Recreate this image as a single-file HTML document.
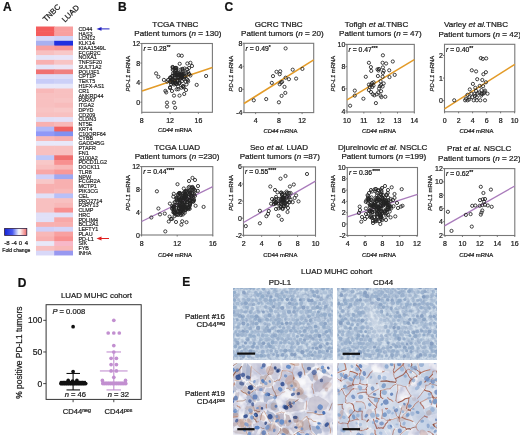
<!DOCTYPE html>
<html><head><meta charset="utf-8"><style>
html,body{margin:0;padding:0;background:#fff;}
svg.main{display:block;font-family:"Liberation Sans", Arial, sans-serif;}
svg.main text{stroke:#1a1a1a;stroke-width:0.22px;}
svg.main text.gl{stroke-width:0.16px;}
</style></head><body>
<svg class="main" width="520" height="435" viewBox="0 0 520 435">
<rect width="520" height="435" fill="#fff"/>
<rect x="36.0" y="26.50" width="18.80" height="5.37" fill="#f45c5c"/>
<rect x="54.2" y="26.50" width="18.80" height="5.37" fill="#f8a0a0"/>
<rect x="36.0" y="31.27" width="18.80" height="5.37" fill="#f45c5c"/>
<rect x="54.2" y="31.27" width="18.80" height="5.37" fill="#f8a0a0"/>
<rect x="36.0" y="36.04" width="18.80" height="5.37" fill="#d8d8f8"/>
<rect x="54.2" y="36.04" width="18.80" height="5.37" fill="#d0d4f8"/>
<rect x="36.0" y="40.81" width="18.80" height="5.37" fill="#a8b0f0"/>
<rect x="54.2" y="40.81" width="18.80" height="5.37" fill="#2030e0"/>
<rect x="36.0" y="45.58" width="18.80" height="5.37" fill="#f8a0a0"/>
<rect x="54.2" y="45.58" width="18.80" height="5.37" fill="#f89898"/>
<rect x="36.0" y="50.35" width="18.80" height="5.37" fill="#f8c0c0"/>
<rect x="54.2" y="50.35" width="18.80" height="5.37" fill="#f8c8c8"/>
<rect x="36.0" y="55.12" width="18.80" height="5.37" fill="#e4e4f8"/>
<rect x="54.2" y="55.12" width="18.80" height="5.37" fill="#e8e4f8"/>
<rect x="36.0" y="59.89" width="18.80" height="5.37" fill="#f8b0b0"/>
<rect x="54.2" y="59.89" width="18.80" height="5.37" fill="#f8c4c4"/>
<rect x="36.0" y="64.66" width="18.80" height="5.37" fill="#e4e4f8"/>
<rect x="54.2" y="64.66" width="18.80" height="5.37" fill="#ece4f4"/>
<rect x="36.0" y="69.43" width="18.80" height="5.37" fill="#f07070"/>
<rect x="54.2" y="69.43" width="18.80" height="5.37" fill="#f08080"/>
<rect x="36.0" y="74.20" width="18.80" height="5.37" fill="#dcdcf8"/>
<rect x="54.2" y="74.20" width="18.80" height="5.37" fill="#dcdcf8"/>
<rect x="36.0" y="78.97" width="18.80" height="5.37" fill="#c8ccf8"/>
<rect x="54.2" y="78.97" width="18.80" height="5.37" fill="#ccd0f8"/>
<rect x="36.0" y="83.74" width="18.80" height="5.37" fill="#e8e8fa"/>
<rect x="54.2" y="83.74" width="18.80" height="5.37" fill="#e8e8fa"/>
<rect x="36.0" y="88.51" width="18.80" height="5.37" fill="#f8b8b8"/>
<rect x="54.2" y="88.51" width="18.80" height="5.37" fill="#f8c0c0"/>
<rect x="36.0" y="93.28" width="18.80" height="5.37" fill="#f8c0c0"/>
<rect x="54.2" y="93.28" width="18.80" height="5.37" fill="#f8c0c0"/>
<rect x="36.0" y="98.05" width="18.80" height="5.37" fill="#f8c0c0"/>
<rect x="54.2" y="98.05" width="18.80" height="5.37" fill="#f8c4c4"/>
<rect x="36.0" y="102.82" width="18.80" height="5.37" fill="#f8c0c0"/>
<rect x="54.2" y="102.82" width="18.80" height="5.37" fill="#f8bcbc"/>
<rect x="36.0" y="107.59" width="18.80" height="5.37" fill="#f8c4c4"/>
<rect x="54.2" y="107.59" width="18.80" height="5.37" fill="#f8c8c8"/>
<rect x="36.0" y="112.36" width="18.80" height="5.37" fill="#f8c0c0"/>
<rect x="54.2" y="112.36" width="18.80" height="5.37" fill="#f8c0c0"/>
<rect x="36.0" y="117.13" width="18.80" height="5.37" fill="#e0e0f8"/>
<rect x="54.2" y="117.13" width="18.80" height="5.37" fill="#e4e0f8"/>
<rect x="36.0" y="121.90" width="18.80" height="5.37" fill="#f8b0b0"/>
<rect x="54.2" y="121.90" width="18.80" height="5.37" fill="#f8b8b8"/>
<rect x="36.0" y="126.67" width="18.80" height="5.37" fill="#b0b8f8"/>
<rect x="54.2" y="126.67" width="18.80" height="5.37" fill="#f06060"/>
<rect x="36.0" y="131.44" width="18.80" height="5.37" fill="#9098f8"/>
<rect x="54.2" y="131.44" width="18.80" height="5.37" fill="#8090f0"/>
<rect x="36.0" y="136.21" width="18.80" height="5.37" fill="#f8b8b8"/>
<rect x="54.2" y="136.21" width="18.80" height="5.37" fill="#f8b0b0"/>
<rect x="36.0" y="140.98" width="18.80" height="5.37" fill="#e8e8fa"/>
<rect x="54.2" y="140.98" width="18.80" height="5.37" fill="#e8e8fa"/>
<rect x="36.0" y="145.75" width="18.80" height="5.37" fill="#f8c0c0"/>
<rect x="54.2" y="145.75" width="18.80" height="5.37" fill="#f8c0c0"/>
<rect x="36.0" y="150.52" width="18.80" height="5.37" fill="#f8c0c0"/>
<rect x="54.2" y="150.52" width="18.80" height="5.37" fill="#f8c0c0"/>
<rect x="36.0" y="155.29" width="18.80" height="5.37" fill="#c0c8f8"/>
<rect x="54.2" y="155.29" width="18.80" height="5.37" fill="#f07070"/>
<rect x="36.0" y="160.06" width="18.80" height="5.37" fill="#f8c8c8"/>
<rect x="54.2" y="160.06" width="18.80" height="5.37" fill="#f89090"/>
<rect x="36.0" y="164.83" width="18.80" height="5.37" fill="#f8c0c0"/>
<rect x="54.2" y="164.83" width="18.80" height="5.37" fill="#f8b8b8"/>
<rect x="36.0" y="169.60" width="18.80" height="5.37" fill="#f8a8a8"/>
<rect x="54.2" y="169.60" width="18.80" height="5.37" fill="#f89898"/>
<rect x="36.0" y="174.37" width="18.80" height="5.37" fill="#d0d0f8"/>
<rect x="54.2" y="174.37" width="18.80" height="5.37" fill="#a0a8f0"/>
<rect x="36.0" y="179.14" width="18.80" height="5.37" fill="#f8c8c8"/>
<rect x="54.2" y="179.14" width="18.80" height="5.37" fill="#f8b0b0"/>
<rect x="36.0" y="183.91" width="18.80" height="5.37" fill="#f8b0b0"/>
<rect x="54.2" y="183.91" width="18.80" height="5.37" fill="#f8b0b0"/>
<rect x="36.0" y="188.68" width="18.80" height="5.37" fill="#f8b0b0"/>
<rect x="54.2" y="188.68" width="18.80" height="5.37" fill="#f8b8b8"/>
<rect x="36.0" y="193.45" width="18.80" height="5.37" fill="#e0e0f8"/>
<rect x="54.2" y="193.45" width="18.80" height="5.37" fill="#b8c0f8"/>
<rect x="36.0" y="198.22" width="18.80" height="5.37" fill="#f8c0c0"/>
<rect x="54.2" y="198.22" width="18.80" height="5.37" fill="#f8c0c0"/>
<rect x="36.0" y="202.99" width="18.80" height="5.37" fill="#f8c0c0"/>
<rect x="54.2" y="202.99" width="18.80" height="5.37" fill="#f8b8b8"/>
<rect x="36.0" y="207.76" width="18.80" height="5.37" fill="#f8c0c0"/>
<rect x="54.2" y="207.76" width="18.80" height="5.37" fill="#f89090"/>
<rect x="36.0" y="212.53" width="18.80" height="5.37" fill="#e0e0f8"/>
<rect x="54.2" y="212.53" width="18.80" height="5.37" fill="#e0e0f8"/>
<rect x="36.0" y="217.30" width="18.80" height="5.37" fill="#e0e0f8"/>
<rect x="54.2" y="217.30" width="18.80" height="5.37" fill="#f8a8a8"/>
<rect x="36.0" y="222.07" width="18.80" height="5.37" fill="#f8b0b0"/>
<rect x="54.2" y="222.07" width="18.80" height="5.37" fill="#f8b0b0"/>
<rect x="36.0" y="226.84" width="18.80" height="5.37" fill="#d0d0f8"/>
<rect x="54.2" y="226.84" width="18.80" height="5.37" fill="#d4d4f8"/>
<rect x="36.0" y="231.61" width="18.80" height="5.37" fill="#f8b8b8"/>
<rect x="54.2" y="231.61" width="18.80" height="5.37" fill="#f8a0a0"/>
<rect x="36.0" y="236.38" width="18.80" height="5.37" fill="#f8b0b0"/>
<rect x="54.2" y="236.38" width="18.80" height="5.37" fill="#f89090"/>
<rect x="36.0" y="241.15" width="18.80" height="5.37" fill="#e8e8f8"/>
<rect x="54.2" y="241.15" width="18.80" height="5.37" fill="#f8b8c8"/>
<rect x="36.0" y="245.92" width="18.80" height="5.37" fill="#f8c0c0"/>
<rect x="54.2" y="245.92" width="18.80" height="5.37" fill="#f8b8b8"/>
<rect x="36.0" y="250.69" width="18.80" height="4.77" fill="#d8d8f8"/>
<rect x="54.2" y="250.69" width="18.80" height="4.77" fill="#9898f0"/>
<text x="78.40" y="30.78" font-size="5.45" text-anchor="start" fill="#1a1a1a" class="gl">CD44</text>
<text x="78.40" y="35.55" font-size="5.45" text-anchor="start" fill="#1a1a1a" class="gl">HAS3</text>
<text x="78.40" y="40.32" font-size="5.45" text-anchor="start" fill="#1a1a1a" class="gl">LCN12</text>
<text x="78.40" y="45.09" font-size="5.45" text-anchor="start" fill="#1a1a1a" class="gl">KLK14</text>
<text x="78.40" y="49.86" font-size="5.45" text-anchor="start" fill="#1a1a1a" class="gl">KIAA1549L</text>
<text x="78.40" y="54.63" font-size="5.45" text-anchor="start" fill="#1a1a1a" class="gl">FCGR2C</text>
<text x="78.40" y="59.40" font-size="5.45" text-anchor="start" fill="#1a1a1a" class="gl">NOXA1</text>
<text x="78.40" y="64.17" font-size="5.45" text-anchor="start" fill="#1a1a1a" class="gl">TNFSF20</text>
<text x="78.40" y="68.94" font-size="5.45" text-anchor="start" fill="#1a1a1a" class="gl">SULT1A2</text>
<text x="78.40" y="73.72" font-size="5.45" text-anchor="start" fill="#1a1a1a" class="gl">POU3F1</text>
<text x="78.40" y="78.48" font-size="5.45" text-anchor="start" fill="#1a1a1a" class="gl">CPT1P</text>
<text x="78.40" y="83.25" font-size="5.45" text-anchor="start" fill="#1a1a1a" class="gl">TEKT5</text>
<text x="78.40" y="88.03" font-size="5.45" text-anchor="start" fill="#1a1a1a" class="gl">H1FX-AS1</text>
<text x="78.40" y="92.80" font-size="5.45" text-anchor="start" fill="#1a1a1a" class="gl">CR1</text>
<text x="78.40" y="97.56" font-size="5.45" text-anchor="start" fill="#1a1a1a" class="gl">ANKRD44</text>
<text x="78.40" y="102.33" font-size="5.45" text-anchor="start" fill="#1a1a1a" class="gl">P2RX7</text>
<text x="78.40" y="107.11" font-size="5.45" text-anchor="start" fill="#1a1a1a" class="gl">ITGA2</text>
<text x="78.40" y="111.88" font-size="5.45" text-anchor="start" fill="#1a1a1a" class="gl">DPYD</text>
<text x="78.40" y="116.64" font-size="5.45" text-anchor="start" fill="#1a1a1a" class="gl">CD209</text>
<text x="78.40" y="121.41" font-size="5.45" text-anchor="start" fill="#1a1a1a" class="gl">CLDN3</text>
<text x="78.40" y="126.19" font-size="5.45" text-anchor="start" fill="#1a1a1a" class="gl">NT5E</text>
<text x="78.40" y="130.96" font-size="5.45" text-anchor="start" fill="#1a1a1a" class="gl">KRT4</text>
<text x="78.40" y="135.72" font-size="5.45" text-anchor="start" fill="#1a1a1a" class="gl">C10ORF64</text>
<text x="78.40" y="140.49" font-size="5.45" text-anchor="start" fill="#1a1a1a" class="gl">CYBB</text>
<text x="78.40" y="145.27" font-size="5.45" text-anchor="start" fill="#1a1a1a" class="gl">GADD45G</text>
<text x="78.40" y="150.03" font-size="5.45" text-anchor="start" fill="#1a1a1a" class="gl">PTAFR</text>
<text x="78.40" y="154.80" font-size="5.45" text-anchor="start" fill="#1a1a1a" class="gl">FN1</text>
<text x="78.40" y="159.57" font-size="5.45" text-anchor="start" fill="#1a1a1a" class="gl">S100A2</text>
<text x="78.40" y="164.34" font-size="5.45" text-anchor="start" fill="#1a1a1a" class="gl">PDCD1LG2</text>
<text x="78.40" y="169.11" font-size="5.45" text-anchor="start" fill="#1a1a1a" class="gl">DOCK11</text>
<text x="78.40" y="173.88" font-size="5.45" text-anchor="start" fill="#1a1a1a" class="gl">TLR8</text>
<text x="78.40" y="178.66" font-size="5.45" text-anchor="start" fill="#1a1a1a" class="gl">NPW</text>
<text x="78.40" y="183.42" font-size="5.45" text-anchor="start" fill="#1a1a1a" class="gl">FCGR2A</text>
<text x="78.40" y="188.19" font-size="5.45" text-anchor="start" fill="#1a1a1a" class="gl">MCTP1</text>
<text x="78.40" y="192.97" font-size="5.45" text-anchor="start" fill="#1a1a1a" class="gl">PIK3CG</text>
<text x="78.40" y="197.73" font-size="5.45" text-anchor="start" fill="#1a1a1a" class="gl">CEL</text>
<text x="78.40" y="202.50" font-size="5.45" text-anchor="start" fill="#1a1a1a" class="gl">PRO2714</text>
<text x="78.40" y="207.27" font-size="5.45" text-anchor="start" fill="#1a1a1a" class="gl">P2RY13</text>
<text x="78.40" y="212.04" font-size="5.45" text-anchor="start" fill="#1a1a1a" class="gl">CLMP</text>
<text x="78.40" y="216.81" font-size="5.45" text-anchor="start" fill="#1a1a1a" class="gl">HRC</text>
<text x="78.40" y="221.58" font-size="5.45" text-anchor="start" fill="#1a1a1a" class="gl">PDLIM4</text>
<text x="78.40" y="226.35" font-size="5.45" text-anchor="start" fill="#1a1a1a" class="gl">BCL2A1</text>
<text x="78.40" y="231.12" font-size="5.45" text-anchor="start" fill="#1a1a1a" class="gl">LEFTY1</text>
<text x="78.40" y="235.89" font-size="5.45" text-anchor="start" fill="#1a1a1a" class="gl">PLAU</text>
<text x="78.40" y="240.66" font-size="5.45" text-anchor="start" fill="#1a1a1a" class="gl">PD-L1</text>
<text x="78.40" y="245.43" font-size="5.45" text-anchor="start" fill="#1a1a1a" class="gl">SIK</text>
<text x="78.40" y="250.20" font-size="5.45" text-anchor="start" fill="#1a1a1a" class="gl">FYB</text>
<text x="78.40" y="254.97" font-size="5.45" text-anchor="start" fill="#1a1a1a" class="gl">INHA</text>
<text transform="translate(46.0,22.3) rotate(-45)" font-size="7.8" fill="#1a1a1a">TNBC</text>
<text transform="translate(65.0,22.8) rotate(-45)" font-size="7.8" fill="#1a1a1a">LUAD</text>
<line x1="100" y1="28.9" x2="109.5" y2="28.9" stroke="#2020c0" stroke-width="1"/>
<path d="M96.5,28.9 L101.5,27.0 L101.5,30.8 Z" fill="#2020c0"/>
<line x1="100" y1="238.5" x2="109" y2="238.5" stroke="#e02020" stroke-width="1"/>
<path d="M96.5,238.5 L101.5,236.6 L101.5,240.4 Z" fill="#e02020"/>
<defs><linearGradient id="fc" x1="0" x2="1" y1="0" y2="0"><stop offset="0" stop-color="#1424d4"/><stop offset="0.35" stop-color="#4858f0"/><stop offset="0.62" stop-color="#e8ecf8"/><stop offset="0.7" stop-color="#f8f0f0"/><stop offset="0.85" stop-color="#f4a8a8"/><stop offset="1" stop-color="#ea6a6a"/></linearGradient></defs>
<rect x="4.6" y="228.4" width="22.2" height="7" fill="url(#fc)" stroke="#302040" stroke-width="0.8"/>
<text x="6.90" y="245.20" font-size="6.0" text-anchor="middle" fill="#1a1a1a">-8</text>
<text x="14.20" y="245.20" font-size="6.0" text-anchor="middle" fill="#1a1a1a">-4</text>
<text x="20.40" y="245.20" font-size="6.0" text-anchor="middle" fill="#1a1a1a">0</text>
<text x="26.30" y="245.20" font-size="6.0" text-anchor="middle" fill="#1a1a1a">4</text>
<text x="16.30" y="252.10" font-size="5.1" text-anchor="middle" fill="#1a1a1a">Fold change</text>
<text x="3.00" y="10.60" font-size="12.0" text-anchor="start" font-weight="bold" fill="#111">A</text>
<text x="118.00" y="11.10" font-size="12.0" text-anchor="start" font-weight="bold" fill="#111">B</text>
<text x="224.50" y="11.10" font-size="12.0" text-anchor="start" font-weight="bold" fill="#111">C</text>
<text x="17.80" y="286.80" font-size="12.0" text-anchor="start" font-weight="bold" fill="#111">D</text>
<text x="182.30" y="285.80" font-size="12.0" text-anchor="start" font-weight="bold" fill="#111">E</text>
<rect x="141.80" y="43.50" width="70.60" height="68.80" fill="none" stroke="#787878" stroke-width="1.1"/>
<line x1="141.80" y1="112.30" x2="141.80" y2="113.80" stroke="#6a6a6a" stroke-width="0.9"/>
<text x="141.80" y="122.80" font-size="7.0" text-anchor="middle" fill="#1a1a1a">8</text>
<line x1="170.10" y1="112.30" x2="170.10" y2="113.80" stroke="#6a6a6a" stroke-width="0.9"/>
<text x="170.10" y="122.80" font-size="7.0" text-anchor="middle" fill="#1a1a1a">12</text>
<line x1="198.40" y1="112.30" x2="198.40" y2="113.80" stroke="#6a6a6a" stroke-width="0.9"/>
<text x="198.40" y="122.80" font-size="7.0" text-anchor="middle" fill="#1a1a1a">16</text>
<line x1="140.30" y1="102.18" x2="141.80" y2="102.18" stroke="#6a6a6a" stroke-width="0.9"/>
<text x="140.20" y="104.68" font-size="7.0" text-anchor="end" fill="#1a1a1a">0</text>
<line x1="140.30" y1="82.62" x2="141.80" y2="82.62" stroke="#6a6a6a" stroke-width="0.9"/>
<text x="140.20" y="85.12" font-size="7.0" text-anchor="end" fill="#1a1a1a">4</text>
<line x1="140.30" y1="63.06" x2="141.80" y2="63.06" stroke="#6a6a6a" stroke-width="0.9"/>
<text x="140.20" y="65.56" font-size="7.0" text-anchor="end" fill="#1a1a1a">8</text>
<line x1="140.30" y1="43.50" x2="141.80" y2="43.50" stroke="#6a6a6a" stroke-width="0.9"/>
<text x="140.20" y="46.00" font-size="7.0" text-anchor="end" fill="#1a1a1a">12</text>
<line x1="142.0" y1="90.9" x2="212.4" y2="67.4" stroke="#e39b28" stroke-width="1.55"/>
<g fill="none" stroke="#222" stroke-width="0.85">
<circle cx="175.4" cy="78.0" r="1.6"/>
<circle cx="185.5" cy="76.2" r="1.6"/>
<circle cx="172.3" cy="76.0" r="1.6"/>
<circle cx="178.1" cy="72.7" r="1.6"/>
<circle cx="176.2" cy="69.6" r="1.6"/>
<circle cx="179.7" cy="63.8" r="1.6"/>
<circle cx="179.6" cy="74.2" r="1.6"/>
<circle cx="182.7" cy="70.6" r="1.6"/>
<circle cx="174.8" cy="72.9" r="1.6"/>
<circle cx="175.1" cy="70.9" r="1.6"/>
<circle cx="175.5" cy="74.8" r="1.6"/>
<circle cx="174.7" cy="75.1" r="1.6"/>
<circle cx="182.6" cy="69.3" r="1.6"/>
<circle cx="175.2" cy="82.6" r="1.6"/>
<circle cx="180.2" cy="78.4" r="1.6"/>
<circle cx="174.8" cy="73.4" r="1.6"/>
<circle cx="173.1" cy="73.3" r="1.6"/>
<circle cx="181.5" cy="74.8" r="1.6"/>
<circle cx="174.3" cy="77.7" r="1.6"/>
<circle cx="183.1" cy="73.6" r="1.6"/>
<circle cx="182.1" cy="74.5" r="1.6"/>
<circle cx="178.0" cy="74.9" r="1.6"/>
<circle cx="178.1" cy="74.3" r="1.6"/>
<circle cx="180.7" cy="69.6" r="1.6"/>
<circle cx="177.0" cy="80.4" r="1.6"/>
<circle cx="175.1" cy="80.8" r="1.6"/>
<circle cx="170.1" cy="77.8" r="1.6"/>
<circle cx="174.8" cy="68.3" r="1.6"/>
<circle cx="175.5" cy="82.9" r="1.6"/>
<circle cx="179.0" cy="75.5" r="1.6"/>
<circle cx="180.7" cy="74.3" r="1.6"/>
<circle cx="184.4" cy="77.3" r="1.6"/>
<circle cx="178.5" cy="77.7" r="1.6"/>
<circle cx="175.8" cy="83.9" r="1.6"/>
<circle cx="179.8" cy="82.8" r="1.6"/>
<circle cx="178.9" cy="73.4" r="1.6"/>
<circle cx="179.1" cy="82.7" r="1.6"/>
<circle cx="180.6" cy="78.3" r="1.6"/>
<circle cx="179.0" cy="77.2" r="1.6"/>
<circle cx="184.7" cy="76.6" r="1.6"/>
<circle cx="176.8" cy="74.7" r="1.6"/>
<circle cx="172.3" cy="79.4" r="1.6"/>
<circle cx="176.8" cy="74.9" r="1.6"/>
<circle cx="176.3" cy="68.0" r="1.6"/>
<circle cx="184.6" cy="68.5" r="1.6"/>
<circle cx="170.6" cy="81.8" r="1.6"/>
<circle cx="171.1" cy="84.3" r="1.6"/>
<circle cx="181.6" cy="73.4" r="1.6"/>
<circle cx="181.8" cy="78.2" r="1.6"/>
<circle cx="168.0" cy="80.0" r="1.6"/>
<circle cx="181.9" cy="77.0" r="1.6"/>
<circle cx="188.1" cy="81.5" r="1.6"/>
<circle cx="176.1" cy="70.2" r="1.6"/>
<circle cx="170.1" cy="87.2" r="1.6"/>
<circle cx="183.6" cy="79.0" r="1.6"/>
<circle cx="177.6" cy="77.3" r="1.6"/>
<circle cx="172.3" cy="79.2" r="1.6"/>
<circle cx="170.5" cy="82.0" r="1.6"/>
<circle cx="182.1" cy="81.0" r="1.6"/>
<circle cx="172.9" cy="67.2" r="1.6"/>
<circle cx="175.0" cy="82.9" r="1.6"/>
<circle cx="179.2" cy="83.6" r="1.6"/>
<circle cx="177.3" cy="74.6" r="1.6"/>
<circle cx="172.0" cy="80.8" r="1.6"/>
<circle cx="182.2" cy="74.6" r="1.6"/>
<circle cx="180.4" cy="75.1" r="1.6"/>
<circle cx="183.0" cy="86.7" r="1.6"/>
<circle cx="186.8" cy="79.2" r="1.6"/>
<circle cx="178.3" cy="89.2" r="1.6"/>
<circle cx="177.7" cy="80.6" r="1.6"/>
<circle cx="187.8" cy="80.2" r="1.6"/>
<circle cx="176.4" cy="84.1" r="1.6"/>
<circle cx="181.4" cy="87.7" r="1.6"/>
<circle cx="182.0" cy="77.3" r="1.6"/>
<circle cx="190.4" cy="75.5" r="1.6"/>
<circle cx="176.6" cy="89.3" r="1.6"/>
<circle cx="188.2" cy="72.0" r="1.6"/>
<circle cx="173.1" cy="83.2" r="1.6"/>
<circle cx="177.7" cy="81.6" r="1.6"/>
<circle cx="172.3" cy="76.0" r="1.6"/>
<circle cx="170.4" cy="78.2" r="1.6"/>
<circle cx="172.5" cy="67.0" r="1.6"/>
<circle cx="176.3" cy="68.1" r="1.6"/>
<circle cx="177.0" cy="72.5" r="1.6"/>
<circle cx="184.5" cy="73.6" r="1.6"/>
<circle cx="172.8" cy="69.8" r="1.6"/>
<circle cx="174.1" cy="84.5" r="1.6"/>
<circle cx="171.8" cy="77.5" r="1.6"/>
<circle cx="186.4" cy="84.4" r="1.6"/>
<circle cx="178.1" cy="86.4" r="1.6"/>
<circle cx="182.4" cy="68.9" r="1.6"/>
<circle cx="186.0" cy="72.6" r="1.6"/>
<circle cx="189.1" cy="74.2" r="1.6"/>
<circle cx="172.3" cy="82.4" r="1.6"/>
<circle cx="183.8" cy="87.4" r="1.6"/>
<circle cx="182.3" cy="75.7" r="1.6"/>
<circle cx="187.1" cy="69.3" r="1.6"/>
<circle cx="185.7" cy="81.8" r="1.6"/>
<circle cx="170.4" cy="77.4" r="1.6"/>
<circle cx="181.4" cy="76.0" r="1.6"/>
<circle cx="175.2" cy="67.9" r="1.6"/>
<circle cx="188.9" cy="73.8" r="1.6"/>
<circle cx="173.0" cy="68.4" r="1.6"/>
<circle cx="167.2" cy="81.6" r="1.6"/>
<circle cx="173.7" cy="79.6" r="1.6"/>
<circle cx="178.7" cy="55.3" r="1.6"/>
<circle cx="181.8" cy="55.7" r="1.6"/>
<circle cx="156.1" cy="73.4" r="1.6"/>
<circle cx="158.4" cy="76.8" r="1.6"/>
<circle cx="206.1" cy="76.0" r="1.6"/>
<circle cx="196.7" cy="84.9" r="1.6"/>
<circle cx="167.0" cy="102.6" r="1.6"/>
<circle cx="174.0" cy="102.6" r="1.6"/>
<circle cx="167.0" cy="106.5" r="1.6"/>
<circle cx="175.1" cy="107.8" r="1.6"/>
<circle cx="174.0" cy="95.6" r="1.6"/>
<circle cx="179.5" cy="95.6" r="1.6"/>
<circle cx="184.2" cy="94.0" r="1.6"/>
<circle cx="165.4" cy="90.9" r="1.6"/>
<circle cx="166.2" cy="92.4" r="1.6"/>
<circle cx="190.4" cy="62.8" r="1.6"/>
<circle cx="187.3" cy="63.5" r="1.6"/>
<circle cx="163.9" cy="79.9" r="1.6"/>
<circle cx="192.0" cy="66.0" r="1.6"/>
<circle cx="189.0" cy="68.0" r="1.6"/>
<circle cx="170.0" cy="88.0" r="1.6"/>
<circle cx="172.0" cy="91.0" r="1.6"/>
<circle cx="186.0" cy="90.0" r="1.6"/>
<circle cx="183.0" cy="86.0" r="1.6"/>
</g>
<text x="143.40" y="50.70" font-size="6.8" fill="#111"><tspan font-style="italic">r</tspan> = 0.28<tspan font-size="5.0" dy="-1.8">**</tspan></text>
<text x="175.30" y="27.10" font-size="8.1" text-anchor="middle" fill="#1a1a1a">TCGA TNBC</text>
<text x="177.90" y="36.00" font-size="8.1" text-anchor="middle" fill="#1a1a1a">Patient tumors (<tspan font-style="italic">n</tspan> = 130)</text>
<text transform="translate(130.30,73.70) rotate(-90)" font-size="5.9" text-anchor="middle" fill="#1a1a1a"><tspan font-style="italic">PD-L1</tspan> mRNA</text>
<text x="175.00" y="132.30" font-size="5.9" text-anchor="middle" fill="#1a1a1a"><tspan font-style="italic">CD44</tspan> mRNA</text>
<rect x="141.60" y="166.60" width="71.20" height="68.40" fill="none" stroke="#787878" stroke-width="1.1"/>
<line x1="141.60" y1="235.00" x2="141.60" y2="236.50" stroke="#6a6a6a" stroke-width="0.9"/>
<text x="141.60" y="246.30" font-size="7.0" text-anchor="middle" fill="#1a1a1a">8</text>
<line x1="177.20" y1="235.00" x2="177.20" y2="236.50" stroke="#6a6a6a" stroke-width="0.9"/>
<text x="177.20" y="246.30" font-size="7.0" text-anchor="middle" fill="#1a1a1a">12</text>
<line x1="212.80" y1="235.00" x2="212.80" y2="236.50" stroke="#6a6a6a" stroke-width="0.9"/>
<text x="212.80" y="246.30" font-size="7.0" text-anchor="middle" fill="#1a1a1a">16</text>
<line x1="140.10" y1="235.00" x2="141.60" y2="235.00" stroke="#6a6a6a" stroke-width="0.9"/>
<text x="140.00" y="237.50" font-size="7.0" text-anchor="end" fill="#1a1a1a">0</text>
<line x1="140.10" y1="212.20" x2="141.60" y2="212.20" stroke="#6a6a6a" stroke-width="0.9"/>
<text x="140.00" y="214.70" font-size="7.0" text-anchor="end" fill="#1a1a1a">4</text>
<line x1="140.10" y1="189.40" x2="141.60" y2="189.40" stroke="#6a6a6a" stroke-width="0.9"/>
<text x="140.00" y="191.90" font-size="7.0" text-anchor="end" fill="#1a1a1a">8</text>
<line x1="140.10" y1="166.60" x2="141.60" y2="166.60" stroke="#6a6a6a" stroke-width="0.9"/>
<text x="140.00" y="169.10" font-size="7.0" text-anchor="end" fill="#1a1a1a">12</text>
<line x1="141.6" y1="221.5" x2="212.8" y2="186.6" stroke="#a97bbb" stroke-width="1.3"/>
<g fill="none" stroke="#222" stroke-width="0.85">
<circle cx="194.2" cy="194.5" r="1.6"/>
<circle cx="190.2" cy="203.9" r="1.6"/>
<circle cx="184.2" cy="202.4" r="1.6"/>
<circle cx="186.4" cy="198.8" r="1.6"/>
<circle cx="178.5" cy="214.7" r="1.6"/>
<circle cx="193.1" cy="200.8" r="1.6"/>
<circle cx="195.0" cy="195.8" r="1.6"/>
<circle cx="173.9" cy="212.1" r="1.6"/>
<circle cx="174.5" cy="213.2" r="1.6"/>
<circle cx="187.6" cy="191.2" r="1.6"/>
<circle cx="177.5" cy="214.9" r="1.6"/>
<circle cx="175.2" cy="202.1" r="1.6"/>
<circle cx="183.3" cy="197.7" r="1.6"/>
<circle cx="183.6" cy="193.6" r="1.6"/>
<circle cx="174.6" cy="211.6" r="1.6"/>
<circle cx="180.1" cy="203.0" r="1.6"/>
<circle cx="188.6" cy="187.5" r="1.6"/>
<circle cx="173.3" cy="212.3" r="1.6"/>
<circle cx="182.9" cy="214.5" r="1.6"/>
<circle cx="184.7" cy="212.8" r="1.6"/>
<circle cx="173.3" cy="206.7" r="1.6"/>
<circle cx="192.3" cy="193.1" r="1.6"/>
<circle cx="182.6" cy="200.5" r="1.6"/>
<circle cx="181.1" cy="210.9" r="1.6"/>
<circle cx="179.7" cy="211.5" r="1.6"/>
<circle cx="189.9" cy="205.7" r="1.6"/>
<circle cx="188.4" cy="209.2" r="1.6"/>
<circle cx="192.3" cy="199.5" r="1.6"/>
<circle cx="178.8" cy="193.3" r="1.6"/>
<circle cx="193.4" cy="189.3" r="1.6"/>
<circle cx="189.7" cy="208.8" r="1.6"/>
<circle cx="176.2" cy="198.4" r="1.6"/>
<circle cx="188.3" cy="206.8" r="1.6"/>
<circle cx="191.7" cy="201.3" r="1.6"/>
<circle cx="182.5" cy="212.8" r="1.6"/>
<circle cx="189.3" cy="191.2" r="1.6"/>
<circle cx="186.0" cy="191.2" r="1.6"/>
<circle cx="181.6" cy="210.6" r="1.6"/>
<circle cx="172.2" cy="209.0" r="1.6"/>
<circle cx="182.5" cy="196.3" r="1.6"/>
<circle cx="173.6" cy="207.9" r="1.6"/>
<circle cx="180.0" cy="192.9" r="1.6"/>
<circle cx="181.6" cy="207.1" r="1.6"/>
<circle cx="174.0" cy="206.2" r="1.6"/>
<circle cx="180.8" cy="212.2" r="1.6"/>
<circle cx="193.4" cy="201.5" r="1.6"/>
<circle cx="179.1" cy="199.4" r="1.6"/>
<circle cx="191.8" cy="196.6" r="1.6"/>
<circle cx="187.2" cy="204.9" r="1.6"/>
<circle cx="176.6" cy="202.4" r="1.6"/>
<circle cx="194.9" cy="190.1" r="1.6"/>
<circle cx="192.4" cy="187.0" r="1.6"/>
<circle cx="172.3" cy="208.1" r="1.6"/>
<circle cx="178.8" cy="206.6" r="1.6"/>
<circle cx="184.0" cy="197.7" r="1.6"/>
<circle cx="193.2" cy="201.7" r="1.6"/>
<circle cx="180.3" cy="206.3" r="1.6"/>
<circle cx="185.1" cy="196.9" r="1.6"/>
<circle cx="179.0" cy="207.9" r="1.6"/>
<circle cx="193.5" cy="188.6" r="1.6"/>
<circle cx="180.5" cy="194.2" r="1.6"/>
<circle cx="180.8" cy="200.0" r="1.6"/>
<circle cx="174.2" cy="210.6" r="1.6"/>
<circle cx="180.3" cy="211.2" r="1.6"/>
<circle cx="177.8" cy="210.8" r="1.6"/>
<circle cx="180.9" cy="215.1" r="1.6"/>
<circle cx="181.7" cy="197.9" r="1.6"/>
<circle cx="175.7" cy="214.6" r="1.6"/>
<circle cx="179.8" cy="213.4" r="1.6"/>
<circle cx="185.4" cy="191.8" r="1.6"/>
<circle cx="190.0" cy="200.1" r="1.6"/>
<circle cx="176.7" cy="198.6" r="1.6"/>
<circle cx="190.3" cy="195.1" r="1.6"/>
<circle cx="184.5" cy="191.8" r="1.6"/>
<circle cx="186.7" cy="202.0" r="1.6"/>
<circle cx="185.9" cy="207.1" r="1.6"/>
<circle cx="183.5" cy="211.5" r="1.6"/>
<circle cx="186.3" cy="190.8" r="1.6"/>
<circle cx="191.7" cy="187.8" r="1.6"/>
<circle cx="176.7" cy="197.6" r="1.6"/>
<circle cx="188.9" cy="197.0" r="1.6"/>
<circle cx="181.0" cy="209.3" r="1.6"/>
<circle cx="180.1" cy="193.8" r="1.6"/>
<circle cx="185.2" cy="210.1" r="1.6"/>
<circle cx="189.9" cy="192.9" r="1.6"/>
<circle cx="195.3" cy="191.4" r="1.6"/>
<circle cx="174.5" cy="202.3" r="1.6"/>
<circle cx="184.4" cy="192.3" r="1.6"/>
<circle cx="190.5" cy="192.7" r="1.6"/>
<circle cx="189.8" cy="190.6" r="1.6"/>
<circle cx="183.8" cy="205.3" r="1.6"/>
<circle cx="177.0" cy="199.7" r="1.6"/>
<circle cx="192.2" cy="193.4" r="1.6"/>
<circle cx="180.4" cy="206.2" r="1.6"/>
<circle cx="188.6" cy="207.7" r="1.6"/>
<circle cx="185.6" cy="209.3" r="1.6"/>
<circle cx="194.1" cy="200.0" r="1.6"/>
<circle cx="188.7" cy="195.3" r="1.6"/>
<circle cx="181.9" cy="198.0" r="1.6"/>
<circle cx="185.2" cy="206.9" r="1.6"/>
<circle cx="185.7" cy="210.1" r="1.6"/>
<circle cx="186.2" cy="208.8" r="1.6"/>
<circle cx="175.0" cy="212.9" r="1.6"/>
<circle cx="183.1" cy="200.2" r="1.6"/>
<circle cx="178.5" cy="194.5" r="1.6"/>
<circle cx="182.0" cy="209.8" r="1.6"/>
<circle cx="173.7" cy="206.7" r="1.6"/>
<circle cx="189.9" cy="204.5" r="1.6"/>
<circle cx="176.6" cy="205.0" r="1.6"/>
<circle cx="174.3" cy="209.1" r="1.6"/>
<circle cx="193.4" cy="198.5" r="1.6"/>
<circle cx="190.8" cy="191.6" r="1.6"/>
<circle cx="183.8" cy="188.5" r="1.6"/>
<circle cx="191.2" cy="198.3" r="1.6"/>
<circle cx="189.4" cy="186.8" r="1.6"/>
<circle cx="182.7" cy="204.0" r="1.6"/>
<circle cx="191.3" cy="195.9" r="1.6"/>
<circle cx="179.0" cy="208.5" r="1.6"/>
<circle cx="182.2" cy="209.6" r="1.6"/>
<circle cx="186.1" cy="195.2" r="1.6"/>
<circle cx="176.4" cy="210.5" r="1.6"/>
<circle cx="180.8" cy="207.2" r="1.6"/>
<circle cx="187.7" cy="207.6" r="1.6"/>
<circle cx="184.0" cy="197.9" r="1.6"/>
<circle cx="193.1" cy="195.6" r="1.6"/>
<circle cx="185.4" cy="194.0" r="1.6"/>
<circle cx="177.5" cy="205.7" r="1.6"/>
<circle cx="190.1" cy="200.4" r="1.6"/>
<circle cx="186.2" cy="195.2" r="1.6"/>
<circle cx="185.7" cy="195.6" r="1.6"/>
<circle cx="183.6" cy="208.3" r="1.6"/>
<circle cx="177.8" cy="211.5" r="1.6"/>
<circle cx="187.4" cy="199.2" r="1.6"/>
<circle cx="182.1" cy="208.8" r="1.6"/>
<circle cx="197.8" cy="190.9" r="1.6"/>
<circle cx="178.6" cy="199.6" r="1.6"/>
<circle cx="184.6" cy="195.6" r="1.6"/>
<circle cx="192.7" cy="187.5" r="1.6"/>
<circle cx="185.7" cy="199.6" r="1.6"/>
<circle cx="183.1" cy="207.8" r="1.6"/>
<circle cx="179.3" cy="193.1" r="1.6"/>
<circle cx="182.4" cy="206.9" r="1.6"/>
<circle cx="181.5" cy="213.6" r="1.6"/>
<circle cx="187.0" cy="202.7" r="1.6"/>
<circle cx="184.5" cy="204.2" r="1.6"/>
<circle cx="173.3" cy="196.7" r="1.6"/>
<circle cx="183.6" cy="206.2" r="1.6"/>
<circle cx="179.4" cy="205.0" r="1.6"/>
<circle cx="182.5" cy="207.6" r="1.6"/>
<circle cx="179.5" cy="202.0" r="1.6"/>
<circle cx="190.0" cy="203.9" r="1.6"/>
<circle cx="184.2" cy="195.9" r="1.6"/>
<circle cx="189.9" cy="202.4" r="1.6"/>
<circle cx="178.9" cy="207.9" r="1.6"/>
<circle cx="185.7" cy="194.0" r="1.6"/>
<circle cx="183.9" cy="206.4" r="1.6"/>
<circle cx="180.0" cy="200.4" r="1.6"/>
<circle cx="181.4" cy="204.4" r="1.6"/>
<circle cx="184.7" cy="202.2" r="1.6"/>
<circle cx="184.8" cy="206.5" r="1.6"/>
<circle cx="184.0" cy="197.3" r="1.6"/>
<circle cx="183.7" cy="198.3" r="1.6"/>
<circle cx="187.6" cy="199.2" r="1.6"/>
<circle cx="189.7" cy="194.2" r="1.6"/>
<circle cx="187.7" cy="199.6" r="1.6"/>
<circle cx="184.7" cy="194.1" r="1.6"/>
<circle cx="181.7" cy="197.4" r="1.6"/>
<circle cx="169.6" cy="216.6" r="1.6"/>
<circle cx="180.9" cy="199.4" r="1.6"/>
<circle cx="182.5" cy="208.0" r="1.6"/>
<circle cx="189.1" cy="207.3" r="1.6"/>
<circle cx="176.7" cy="214.2" r="1.6"/>
<circle cx="175.6" cy="212.8" r="1.6"/>
<circle cx="185.2" cy="198.0" r="1.6"/>
<circle cx="156.9" cy="191.3" r="1.6"/>
<circle cx="173.6" cy="207.8" r="1.6"/>
<circle cx="169.9" cy="203.6" r="1.6"/>
<circle cx="178.2" cy="197.7" r="1.6"/>
<circle cx="177.7" cy="194.9" r="1.6"/>
<circle cx="172.2" cy="206.1" r="1.6"/>
<circle cx="189.7" cy="203.4" r="1.6"/>
<circle cx="165.3" cy="231.4" r="1.6"/>
<circle cx="182.2" cy="221.3" r="1.6"/>
<circle cx="185.0" cy="207.8" r="1.6"/>
<circle cx="178.1" cy="211.6" r="1.6"/>
<circle cx="180.4" cy="200.3" r="1.6"/>
<circle cx="186.5" cy="222.2" r="1.6"/>
<circle cx="188.5" cy="208.2" r="1.6"/>
<circle cx="195.6" cy="205.8" r="1.6"/>
<circle cx="172.2" cy="218.9" r="1.6"/>
<circle cx="183.2" cy="204.3" r="1.6"/>
<circle cx="174.6" cy="216.0" r="1.6"/>
<circle cx="173.8" cy="193.8" r="1.6"/>
<circle cx="182.7" cy="207.2" r="1.6"/>
<circle cx="182.2" cy="202.5" r="1.6"/>
<circle cx="180.3" cy="201.0" r="1.6"/>
<circle cx="189.7" cy="200.0" r="1.6"/>
<circle cx="182.0" cy="209.1" r="1.6"/>
<circle cx="188.0" cy="201.9" r="1.6"/>
<circle cx="186.0" cy="208.2" r="1.6"/>
<circle cx="151.3" cy="217.5" r="1.6"/>
<circle cx="158.4" cy="208.5" r="1.6"/>
<circle cx="160.0" cy="214.4" r="1.6"/>
<circle cx="164.8" cy="213.6" r="1.6"/>
<circle cx="203.6" cy="206.9" r="1.6"/>
<circle cx="192.5" cy="177.9" r="1.6"/>
<circle cx="177.5" cy="184.2" r="1.6"/>
<circle cx="181.4" cy="224.7" r="1.6"/>
<circle cx="168.8" cy="221.5" r="1.6"/>
<circle cx="195.0" cy="180.0" r="1.6"/>
<circle cx="189.0" cy="181.0" r="1.6"/>
<circle cx="198.0" cy="186.0" r="1.6"/>
<circle cx="171.0" cy="219.0" r="1.6"/>
<circle cx="176.0" cy="222.0" r="1.6"/>
</g>
<text x="143.20" y="173.80" font-size="6.8" fill="#111"><tspan font-style="italic">r</tspan> = 0.44<tspan font-size="5.0" dy="-1.8">****</tspan></text>
<text x="177.10" y="150.10" font-size="8.1" text-anchor="middle" fill="#1a1a1a">TCGA LUAD</text>
<text x="177.10" y="159.40" font-size="8.1" text-anchor="middle" fill="#1a1a1a">Patient tumors (<tspan font-style="italic">n</tspan> =230)</text>
<text transform="translate(130.40,193.00) rotate(-90)" font-size="5.9" text-anchor="middle" fill="#1a1a1a"><tspan font-style="italic">PD-L1</tspan> mRNA</text>
<text x="175.00" y="256.90" font-size="5.9" text-anchor="middle" fill="#1a1a1a"><tspan font-style="italic">CD44</tspan> mRNA</text>
<rect x="244.00" y="43.30" width="69.70" height="69.30" fill="none" stroke="#787878" stroke-width="1.1"/>
<line x1="255.62" y1="112.60" x2="255.62" y2="114.10" stroke="#6a6a6a" stroke-width="0.9"/>
<text x="255.62" y="122.80" font-size="7.0" text-anchor="middle" fill="#1a1a1a">4</text>
<line x1="278.86" y1="112.60" x2="278.86" y2="114.10" stroke="#6a6a6a" stroke-width="0.9"/>
<text x="278.86" y="122.80" font-size="7.0" text-anchor="middle" fill="#1a1a1a">8</text>
<line x1="302.10" y1="112.60" x2="302.10" y2="114.10" stroke="#6a6a6a" stroke-width="0.9"/>
<text x="302.10" y="122.80" font-size="7.0" text-anchor="middle" fill="#1a1a1a">12</text>
<line x1="242.50" y1="112.30" x2="244.00" y2="112.30" stroke="#6a6a6a" stroke-width="0.9"/>
<text x="242.40" y="114.80" font-size="7.0" text-anchor="end" fill="#1a1a1a">-4</text>
<line x1="242.50" y1="89.30" x2="244.00" y2="89.30" stroke="#6a6a6a" stroke-width="0.9"/>
<text x="242.40" y="91.80" font-size="7.0" text-anchor="end" fill="#1a1a1a">0</text>
<line x1="242.50" y1="66.30" x2="244.00" y2="66.30" stroke="#6a6a6a" stroke-width="0.9"/>
<text x="242.40" y="68.80" font-size="7.0" text-anchor="end" fill="#1a1a1a">4</text>
<line x1="242.50" y1="43.30" x2="244.00" y2="43.30" stroke="#6a6a6a" stroke-width="0.9"/>
<text x="242.40" y="45.80" font-size="7.0" text-anchor="end" fill="#1a1a1a">8</text>
<line x1="244.0" y1="103.5" x2="313.7" y2="59.9" stroke="#e39b28" stroke-width="1.55"/>
<g fill="none" stroke="#222" stroke-width="0.85">
<circle cx="285.6" cy="48.4" r="1.6"/>
<circle cx="292.7" cy="69.7" r="1.6"/>
<circle cx="302.4" cy="68.9" r="1.6"/>
<circle cx="276.5" cy="71.8" r="1.6"/>
<circle cx="280.2" cy="71.3" r="1.6"/>
<circle cx="279.7" cy="74.2" r="1.6"/>
<circle cx="273.0" cy="76.1" r="1.6"/>
<circle cx="285.6" cy="77.7" r="1.6"/>
<circle cx="288.9" cy="79.2" r="1.6"/>
<circle cx="296.1" cy="78.6" r="1.6"/>
<circle cx="282.1" cy="81.8" r="1.6"/>
<circle cx="281.0" cy="82.6" r="1.6"/>
<circle cx="271.8" cy="82.9" r="1.6"/>
<circle cx="279.7" cy="84.2" r="1.6"/>
<circle cx="284.5" cy="86.9" r="1.6"/>
<circle cx="285.3" cy="92.9" r="1.6"/>
<circle cx="281.6" cy="95.9" r="1.6"/>
<circle cx="266.2" cy="99.1" r="1.6"/>
<circle cx="253.8" cy="100.3" r="1.6"/>
<circle cx="278.9" cy="102.3" r="1.6"/>
</g>
<text x="245.60" y="50.50" font-size="6.8" fill="#111"><tspan font-style="italic">r</tspan> = 0.49<tspan font-size="5.0" dy="-1.8">*</tspan></text>
<text x="278.70" y="27.10" font-size="8.1" text-anchor="middle" fill="#1a1a1a">GCRC TNBC</text>
<text x="282.40" y="36.00" font-size="8.1" text-anchor="middle" fill="#1a1a1a">Patient tumors (<tspan font-style="italic">n</tspan> = 20)</text>
<text transform="translate(233.40,73.70) rotate(-90)" font-size="5.9" text-anchor="middle" fill="#1a1a1a"><tspan font-style="italic">PD-L1</tspan> mRNA</text>
<text x="280.40" y="132.50" font-size="5.9" text-anchor="middle" fill="#1a1a1a"><tspan font-style="italic">CD44</tspan> mRNA</text>
<rect x="347.00" y="44.40" width="67.30" height="67.60" fill="none" stroke="#787878" stroke-width="1.1"/>
<line x1="347.00" y1="112.00" x2="347.00" y2="113.50" stroke="#6a6a6a" stroke-width="0.9"/>
<text x="347.00" y="122.80" font-size="7.0" text-anchor="middle" fill="#1a1a1a">10</text>
<line x1="363.83" y1="112.00" x2="363.83" y2="113.50" stroke="#6a6a6a" stroke-width="0.9"/>
<text x="363.83" y="122.80" font-size="7.0" text-anchor="middle" fill="#1a1a1a">11</text>
<line x1="380.66" y1="112.00" x2="380.66" y2="113.50" stroke="#6a6a6a" stroke-width="0.9"/>
<text x="380.66" y="122.80" font-size="7.0" text-anchor="middle" fill="#1a1a1a">12</text>
<line x1="397.49" y1="112.00" x2="397.49" y2="113.50" stroke="#6a6a6a" stroke-width="0.9"/>
<text x="397.49" y="122.80" font-size="7.0" text-anchor="middle" fill="#1a1a1a">13</text>
<line x1="414.32" y1="112.00" x2="414.32" y2="113.50" stroke="#6a6a6a" stroke-width="0.9"/>
<text x="414.32" y="122.80" font-size="7.0" text-anchor="middle" fill="#1a1a1a">14</text>
<line x1="345.50" y1="111.00" x2="347.00" y2="111.00" stroke="#6a6a6a" stroke-width="0.9"/>
<text x="345.40" y="113.50" font-size="7.0" text-anchor="end" fill="#1a1a1a">4</text>
<line x1="345.50" y1="88.80" x2="347.00" y2="88.80" stroke="#6a6a6a" stroke-width="0.9"/>
<text x="345.40" y="91.30" font-size="7.0" text-anchor="end" fill="#1a1a1a">6</text>
<line x1="345.50" y1="66.60" x2="347.00" y2="66.60" stroke="#6a6a6a" stroke-width="0.9"/>
<text x="345.40" y="69.10" font-size="7.0" text-anchor="end" fill="#1a1a1a">8</text>
<line x1="345.50" y1="44.40" x2="347.00" y2="44.40" stroke="#6a6a6a" stroke-width="0.9"/>
<text x="345.40" y="46.90" font-size="7.0" text-anchor="end" fill="#1a1a1a">10</text>
<line x1="347.0" y1="99.9" x2="414.3" y2="59.6" stroke="#e39b28" stroke-width="1.55"/>
<g fill="none" stroke="#222" stroke-width="0.85">
<circle cx="382.9" cy="55.3" r="1.6"/>
<circle cx="368.9" cy="62.8" r="1.6"/>
<circle cx="382.6" cy="62.8" r="1.6"/>
<circle cx="386.1" cy="63.5" r="1.6"/>
<circle cx="392.8" cy="61.5" r="1.6"/>
<circle cx="370.9" cy="67.1" r="1.6"/>
<circle cx="371.2" cy="70.9" r="1.6"/>
<circle cx="377.5" cy="69.3" r="1.6"/>
<circle cx="379.0" cy="69.0" r="1.6"/>
<circle cx="382.9" cy="67.4" r="1.6"/>
<circle cx="383.7" cy="70.9" r="1.6"/>
<circle cx="382.9" cy="72.9" r="1.6"/>
<circle cx="389.2" cy="70.3" r="1.6"/>
<circle cx="365.8" cy="76.8" r="1.6"/>
<circle cx="377.9" cy="76.0" r="1.6"/>
<circle cx="382.6" cy="76.8" r="1.6"/>
<circle cx="389.5" cy="77.1" r="1.6"/>
<circle cx="394.7" cy="74.9" r="1.6"/>
<circle cx="380.6" cy="81.2" r="1.6"/>
<circle cx="372.0" cy="83.1" r="1.6"/>
<circle cx="371.2" cy="84.9" r="1.6"/>
<circle cx="383.7" cy="83.4" r="1.6"/>
<circle cx="369.7" cy="87.0" r="1.6"/>
<circle cx="372.3" cy="87.0" r="1.6"/>
<circle cx="379.8" cy="86.2" r="1.6"/>
<circle cx="382.6" cy="86.5" r="1.6"/>
<circle cx="368.9" cy="90.1" r="1.6"/>
<circle cx="379.0" cy="88.5" r="1.6"/>
<circle cx="354.8" cy="90.6" r="1.6"/>
<circle cx="381.1" cy="91.2" r="1.6"/>
<circle cx="354.8" cy="95.6" r="1.6"/>
<circle cx="372.8" cy="94.3" r="1.6"/>
<circle cx="374.3" cy="95.3" r="1.6"/>
<circle cx="376.7" cy="94.3" r="1.6"/>
<circle cx="380.6" cy="95.6" r="1.6"/>
<circle cx="381.4" cy="97.1" r="1.6"/>
<circle cx="385.3" cy="96.8" r="1.6"/>
<circle cx="363.4" cy="98.7" r="1.6"/>
<circle cx="375.9" cy="103.1" r="1.6"/>
<circle cx="350.1" cy="105.7" r="1.6"/>
<circle cx="368.9" cy="84.6" r="1.6"/>
<circle cx="373.6" cy="82.3" r="1.6"/>
<circle cx="378.2" cy="92.4" r="1.6"/>
<circle cx="378.5" cy="70.5" r="1.6"/>
<circle cx="373.5" cy="85.5" r="1.6"/>
<circle cx="381.0" cy="85.0" r="1.6"/>
<circle cx="371.0" cy="92.0" r="1.6"/>
</g>
<text x="348.60" y="51.60" font-size="6.8" fill="#111"><tspan font-style="italic">r</tspan> = 0.47<tspan font-size="5.0" dy="-1.8">***</tspan></text>
<text x="376.60" y="27.10" font-size="8.1" text-anchor="middle" fill="#1a1a1a">Tofigh <tspan font-style='italic'>et al.</tspan>TNBC</text>
<text x="380.30" y="36.00" font-size="8.1" text-anchor="middle" fill="#1a1a1a">Patient tumors (<tspan font-style="italic">n</tspan> = 47)</text>
<text transform="translate(334.60,73.70) rotate(-90)" font-size="5.9" text-anchor="middle" fill="#1a1a1a"><tspan font-style="italic">PD-L1</tspan> mRNA</text>
<text x="379.00" y="132.70" font-size="5.9" text-anchor="middle" fill="#1a1a1a"><tspan font-style="italic">CD44</tspan> mRNA</text>
<rect x="444.50" y="44.30" width="70.30" height="67.50" fill="none" stroke="#787878" stroke-width="1.1"/>
<line x1="444.60" y1="111.80" x2="444.60" y2="113.30" stroke="#6a6a6a" stroke-width="0.9"/>
<text x="444.60" y="122.80" font-size="7.0" text-anchor="middle" fill="#1a1a1a">0</text>
<line x1="458.60" y1="111.80" x2="458.60" y2="113.30" stroke="#6a6a6a" stroke-width="0.9"/>
<text x="458.60" y="122.80" font-size="7.0" text-anchor="middle" fill="#1a1a1a">2</text>
<line x1="472.60" y1="111.80" x2="472.60" y2="113.30" stroke="#6a6a6a" stroke-width="0.9"/>
<text x="472.60" y="122.80" font-size="7.0" text-anchor="middle" fill="#1a1a1a">4</text>
<line x1="486.60" y1="111.80" x2="486.60" y2="113.30" stroke="#6a6a6a" stroke-width="0.9"/>
<text x="486.60" y="122.80" font-size="7.0" text-anchor="middle" fill="#1a1a1a">6</text>
<line x1="500.60" y1="111.80" x2="500.60" y2="113.30" stroke="#6a6a6a" stroke-width="0.9"/>
<text x="500.60" y="122.80" font-size="7.0" text-anchor="middle" fill="#1a1a1a">8</text>
<line x1="514.60" y1="111.80" x2="514.60" y2="113.30" stroke="#6a6a6a" stroke-width="0.9"/>
<text x="514.60" y="122.80" font-size="7.0" text-anchor="middle" fill="#1a1a1a">10</text>
<line x1="443.00" y1="100.70" x2="444.50" y2="100.70" stroke="#6a6a6a" stroke-width="0.9"/>
<text x="442.90" y="103.20" font-size="7.0" text-anchor="end" fill="#1a1a1a">0</text>
<line x1="443.00" y1="78.10" x2="444.50" y2="78.10" stroke="#6a6a6a" stroke-width="0.9"/>
<text x="442.90" y="80.60" font-size="7.0" text-anchor="end" fill="#1a1a1a">1</text>
<line x1="443.00" y1="55.50" x2="444.50" y2="55.50" stroke="#6a6a6a" stroke-width="0.9"/>
<text x="442.90" y="58.00" font-size="7.0" text-anchor="end" fill="#1a1a1a">2</text>
<line x1="444.5" y1="108.9" x2="514.8" y2="64.3" stroke="#e39b28" stroke-width="1.55"/>
<g fill="none" stroke="#222" stroke-width="0.85">
<circle cx="480.8" cy="58.1" r="1.6"/>
<circle cx="482.8" cy="58.9" r="1.6"/>
<circle cx="486.2" cy="58.4" r="1.6"/>
<circle cx="471.8" cy="70.3" r="1.6"/>
<circle cx="476.1" cy="71.4" r="1.6"/>
<circle cx="485.9" cy="72.2" r="1.6"/>
<circle cx="483.4" cy="74.2" r="1.6"/>
<circle cx="477.2" cy="79.2" r="1.6"/>
<circle cx="482.3" cy="80.0" r="1.6"/>
<circle cx="485.9" cy="82.3" r="1.6"/>
<circle cx="472.9" cy="83.9" r="1.6"/>
<circle cx="479.7" cy="85.9" r="1.6"/>
<circle cx="483.1" cy="86.2" r="1.6"/>
<circle cx="469.8" cy="89.4" r="1.6"/>
<circle cx="476.1" cy="90.9" r="1.6"/>
<circle cx="481.5" cy="90.1" r="1.6"/>
<circle cx="485.0" cy="90.6" r="1.6"/>
<circle cx="471.4" cy="93.7" r="1.6"/>
<circle cx="474.5" cy="94.0" r="1.6"/>
<circle cx="477.6" cy="93.3" r="1.6"/>
<circle cx="481.2" cy="93.7" r="1.6"/>
<circle cx="483.9" cy="93.3" r="1.6"/>
<circle cx="487.5" cy="93.7" r="1.6"/>
<circle cx="467.5" cy="94.8" r="1.6"/>
<circle cx="469.3" cy="97.2" r="1.6"/>
<circle cx="472.2" cy="97.2" r="1.6"/>
<circle cx="476.8" cy="97.2" r="1.6"/>
<circle cx="481.2" cy="95.6" r="1.6"/>
<circle cx="454.2" cy="100.3" r="1.6"/>
<circle cx="465.1" cy="100.3" r="1.6"/>
<circle cx="467.5" cy="100.3" r="1.6"/>
<circle cx="473.7" cy="100.3" r="1.6"/>
<circle cx="476.8" cy="100.3" r="1.6"/>
<circle cx="480.3" cy="100.3" r="1.6"/>
<circle cx="485.0" cy="100.3" r="1.6"/>
<circle cx="469.0" cy="99.5" r="1.6"/>
<circle cx="475.3" cy="87.8" r="1.6"/>
<circle cx="479.2" cy="92.5" r="1.6"/>
<circle cx="465.9" cy="98.7" r="1.6"/>
<circle cx="482.3" cy="94.0" r="1.6"/>
<circle cx="484.5" cy="92.0" r="1.6"/>
<circle cx="475.0" cy="96.0" r="1.6"/>
</g>
<text x="446.10" y="51.50" font-size="6.8" fill="#111"><tspan font-style="italic">r</tspan> = 0.40<tspan font-size="5.0" dy="-1.8">**</tspan></text>
<text x="476.00" y="27.30" font-size="8.1" text-anchor="middle" fill="#1a1a1a">Varley <tspan font-style='italic'>et al.</tspan>TNBC</text>
<text x="479.70" y="36.80" font-size="8.1" text-anchor="middle" fill="#1a1a1a">Patient tumors (<tspan font-style="italic">n</tspan> = 42)</text>
<text transform="translate(434.40,73.70) rotate(-90)" font-size="5.9" text-anchor="middle" fill="#1a1a1a"><tspan font-style="italic">PD-L1</tspan> mRNA</text>
<text x="476.40" y="132.60" font-size="5.9" text-anchor="middle" fill="#1a1a1a"><tspan font-style="italic">CD44</tspan> mRNA</text>
<rect x="243.50" y="166.90" width="72.00" height="68.40" fill="none" stroke="#787878" stroke-width="1.1"/>
<line x1="243.70" y1="235.30" x2="243.70" y2="236.80" stroke="#6a6a6a" stroke-width="0.9"/>
<text x="243.70" y="246.30" font-size="7.0" text-anchor="middle" fill="#1a1a1a">2</text>
<line x1="261.66" y1="235.30" x2="261.66" y2="236.80" stroke="#6a6a6a" stroke-width="0.9"/>
<text x="261.66" y="246.30" font-size="7.0" text-anchor="middle" fill="#1a1a1a">4</text>
<line x1="279.62" y1="235.30" x2="279.62" y2="236.80" stroke="#6a6a6a" stroke-width="0.9"/>
<text x="279.62" y="246.30" font-size="7.0" text-anchor="middle" fill="#1a1a1a">6</text>
<line x1="297.58" y1="235.30" x2="297.58" y2="236.80" stroke="#6a6a6a" stroke-width="0.9"/>
<text x="297.58" y="246.30" font-size="7.0" text-anchor="middle" fill="#1a1a1a">8</text>
<line x1="315.54" y1="235.30" x2="315.54" y2="236.80" stroke="#6a6a6a" stroke-width="0.9"/>
<text x="315.54" y="246.30" font-size="7.0" text-anchor="middle" fill="#1a1a1a">10</text>
<line x1="242.00" y1="235.30" x2="243.50" y2="235.30" stroke="#6a6a6a" stroke-width="0.9"/>
<text x="241.90" y="237.80" font-size="7.0" text-anchor="end" fill="#1a1a1a">-2</text>
<line x1="242.00" y1="218.20" x2="243.50" y2="218.20" stroke="#6a6a6a" stroke-width="0.9"/>
<text x="241.90" y="220.70" font-size="7.0" text-anchor="end" fill="#1a1a1a">0</text>
<line x1="242.00" y1="201.10" x2="243.50" y2="201.10" stroke="#6a6a6a" stroke-width="0.9"/>
<text x="241.90" y="203.60" font-size="7.0" text-anchor="end" fill="#1a1a1a">2</text>
<line x1="242.00" y1="184.00" x2="243.50" y2="184.00" stroke="#6a6a6a" stroke-width="0.9"/>
<text x="241.90" y="186.50" font-size="7.0" text-anchor="end" fill="#1a1a1a">4</text>
<line x1="242.00" y1="166.90" x2="243.50" y2="166.90" stroke="#6a6a6a" stroke-width="0.9"/>
<text x="241.90" y="169.40" font-size="7.0" text-anchor="end" fill="#1a1a1a">6</text>
<line x1="243.5" y1="222.5" x2="315.5" y2="181.1" stroke="#a97bbb" stroke-width="1.3"/>
<g fill="none" stroke="#222" stroke-width="0.85">
<circle cx="289.3" cy="197.6" r="1.6"/>
<circle cx="288.6" cy="196.6" r="1.6"/>
<circle cx="278.5" cy="208.4" r="1.6"/>
<circle cx="276.0" cy="202.6" r="1.6"/>
<circle cx="287.2" cy="193.0" r="1.6"/>
<circle cx="284.0" cy="206.1" r="1.6"/>
<circle cx="282.4" cy="197.3" r="1.6"/>
<circle cx="280.6" cy="202.8" r="1.6"/>
<circle cx="273.8" cy="204.2" r="1.6"/>
<circle cx="282.0" cy="193.9" r="1.6"/>
<circle cx="282.9" cy="197.6" r="1.6"/>
<circle cx="281.2" cy="206.7" r="1.6"/>
<circle cx="287.2" cy="204.6" r="1.6"/>
<circle cx="290.6" cy="193.0" r="1.6"/>
<circle cx="283.7" cy="200.6" r="1.6"/>
<circle cx="284.6" cy="203.8" r="1.6"/>
<circle cx="287.2" cy="201.1" r="1.6"/>
<circle cx="284.4" cy="199.8" r="1.6"/>
<circle cx="276.1" cy="196.9" r="1.6"/>
<circle cx="275.7" cy="203.5" r="1.6"/>
<circle cx="284.4" cy="193.4" r="1.6"/>
<circle cx="280.3" cy="207.5" r="1.6"/>
<circle cx="276.3" cy="202.1" r="1.6"/>
<circle cx="282.7" cy="198.9" r="1.6"/>
<circle cx="283.6" cy="199.2" r="1.6"/>
<circle cx="282.0" cy="195.0" r="1.6"/>
<circle cx="285.8" cy="202.7" r="1.6"/>
<circle cx="274.6" cy="199.4" r="1.6"/>
<circle cx="279.1" cy="203.5" r="1.6"/>
<circle cx="283.7" cy="206.4" r="1.6"/>
<circle cx="274.2" cy="201.6" r="1.6"/>
<circle cx="286.6" cy="191.6" r="1.6"/>
<circle cx="274.2" cy="200.9" r="1.6"/>
<circle cx="288.8" cy="202.4" r="1.6"/>
<circle cx="285.6" cy="206.0" r="1.6"/>
<circle cx="286.7" cy="197.1" r="1.6"/>
<circle cx="290.5" cy="199.7" r="1.6"/>
<circle cx="281.1" cy="203.8" r="1.6"/>
<circle cx="281.3" cy="192.6" r="1.6"/>
<circle cx="275.4" cy="203.1" r="1.6"/>
<circle cx="282.6" cy="197.9" r="1.6"/>
<circle cx="278.1" cy="203.7" r="1.6"/>
<circle cx="281.2" cy="200.2" r="1.6"/>
<circle cx="284.9" cy="195.2" r="1.6"/>
<circle cx="283.6" cy="198.8" r="1.6"/>
<circle cx="277.4" cy="192.3" r="1.6"/>
<circle cx="282.7" cy="209.0" r="1.6"/>
<circle cx="282.3" cy="201.9" r="1.6"/>
<circle cx="281.1" cy="206.7" r="1.6"/>
<circle cx="283.1" cy="200.4" r="1.6"/>
<circle cx="282.9" cy="197.7" r="1.6"/>
<circle cx="279.2" cy="198.9" r="1.6"/>
<circle cx="281.1" cy="192.7" r="1.6"/>
<circle cx="289.6" cy="202.1" r="1.6"/>
<circle cx="283.9" cy="198.3" r="1.6"/>
<circle cx="276.3" cy="199.0" r="1.6"/>
<circle cx="282.5" cy="208.3" r="1.6"/>
<circle cx="285.2" cy="195.2" r="1.6"/>
<circle cx="287.1" cy="196.5" r="1.6"/>
<circle cx="283.5" cy="203.0" r="1.6"/>
<circle cx="281.0" cy="199.1" r="1.6"/>
<circle cx="284.3" cy="202.2" r="1.6"/>
<circle cx="307.0" cy="174.0" r="1.6"/>
<circle cx="280.5" cy="178.7" r="1.6"/>
<circle cx="285.5" cy="176.0" r="1.6"/>
<circle cx="270.3" cy="186.5" r="1.6"/>
<circle cx="293.8" cy="184.5" r="1.6"/>
<circle cx="289.9" cy="186.5" r="1.6"/>
<circle cx="296.1" cy="195.4" r="1.6"/>
<circle cx="298.5" cy="201.4" r="1.6"/>
<circle cx="292.7" cy="202.2" r="1.6"/>
<circle cx="294.6" cy="198.0" r="1.6"/>
<circle cx="271.1" cy="203.7" r="1.6"/>
<circle cx="259.9" cy="210.8" r="1.6"/>
<circle cx="268.8" cy="211.0" r="1.6"/>
<circle cx="268.0" cy="213.9" r="1.6"/>
<circle cx="266.4" cy="216.2" r="1.6"/>
<circle cx="278.6" cy="215.8" r="1.6"/>
<circle cx="281.8" cy="219.8" r="1.6"/>
<circle cx="259.9" cy="223.3" r="1.6"/>
<circle cx="245.8" cy="226.1" r="1.6"/>
<circle cx="287.5" cy="212.0" r="1.6"/>
<circle cx="275.0" cy="190.0" r="1.6"/>
<circle cx="288.0" cy="208.0" r="1.6"/>
<circle cx="276.0" cy="209.0" r="1.6"/>
<circle cx="289.0" cy="193.0" r="1.6"/>
<circle cx="272.0" cy="199.0" r="1.6"/>
</g>
<text x="245.10" y="174.10" font-size="6.8" fill="#111"><tspan font-style="italic">r</tspan> = 0.55<tspan font-size="5.0" dy="-1.8">****</tspan></text>
<text x="279.00" y="150.10" font-size="8.1" text-anchor="middle" fill="#1a1a1a">Seo <tspan font-style='italic'>et al.</tspan> LUAD</text>
<text x="279.80" y="159.40" font-size="8.1" text-anchor="middle" fill="#1a1a1a">Patient tumors (<tspan font-style="italic">n</tspan> =87)</text>
<text transform="translate(233.40,193.00) rotate(-90)" font-size="5.9" text-anchor="middle" fill="#1a1a1a"><tspan font-style="italic">PD-L1</tspan> mRNA</text>
<text x="280.30" y="256.80" font-size="5.9" text-anchor="middle" fill="#1a1a1a">CD44 mRNA</text>
<rect x="347.30" y="167.50" width="70.20" height="68.00" fill="none" stroke="#787878" stroke-width="1.1"/>
<line x1="347.80" y1="235.50" x2="347.80" y2="237.00" stroke="#6a6a6a" stroke-width="0.9"/>
<text x="347.80" y="246.30" font-size="7.0" text-anchor="middle" fill="#1a1a1a">4</text>
<line x1="365.10" y1="235.50" x2="365.10" y2="237.00" stroke="#6a6a6a" stroke-width="0.9"/>
<text x="365.10" y="246.30" font-size="7.0" text-anchor="middle" fill="#1a1a1a">6</text>
<line x1="382.40" y1="235.50" x2="382.40" y2="237.00" stroke="#6a6a6a" stroke-width="0.9"/>
<text x="382.40" y="246.30" font-size="7.0" text-anchor="middle" fill="#1a1a1a">8</text>
<line x1="399.70" y1="235.50" x2="399.70" y2="237.00" stroke="#6a6a6a" stroke-width="0.9"/>
<text x="399.70" y="246.30" font-size="7.0" text-anchor="middle" fill="#1a1a1a">10</text>
<line x1="417.00" y1="235.50" x2="417.00" y2="237.00" stroke="#6a6a6a" stroke-width="0.9"/>
<text x="417.00" y="246.30" font-size="7.0" text-anchor="middle" fill="#1a1a1a">12</text>
<line x1="345.80" y1="235.30" x2="347.30" y2="235.30" stroke="#6a6a6a" stroke-width="0.9"/>
<text x="345.70" y="237.80" font-size="7.0" text-anchor="end" fill="#1a1a1a">-2</text>
<line x1="345.80" y1="224.00" x2="347.30" y2="224.00" stroke="#6a6a6a" stroke-width="0.9"/>
<text x="345.70" y="226.50" font-size="7.0" text-anchor="end" fill="#1a1a1a">0</text>
<line x1="345.80" y1="212.70" x2="347.30" y2="212.70" stroke="#6a6a6a" stroke-width="0.9"/>
<text x="345.70" y="215.20" font-size="7.0" text-anchor="end" fill="#1a1a1a">2</text>
<line x1="345.80" y1="201.40" x2="347.30" y2="201.40" stroke="#6a6a6a" stroke-width="0.9"/>
<text x="345.70" y="203.90" font-size="7.0" text-anchor="end" fill="#1a1a1a">4</text>
<line x1="345.80" y1="190.10" x2="347.30" y2="190.10" stroke="#6a6a6a" stroke-width="0.9"/>
<text x="345.70" y="192.60" font-size="7.0" text-anchor="end" fill="#1a1a1a">6</text>
<line x1="345.80" y1="178.80" x2="347.30" y2="178.80" stroke="#6a6a6a" stroke-width="0.9"/>
<text x="345.70" y="181.30" font-size="7.0" text-anchor="end" fill="#1a1a1a">8</text>
<line x1="345.80" y1="167.50" x2="347.30" y2="167.50" stroke="#6a6a6a" stroke-width="0.9"/>
<text x="345.70" y="170.00" font-size="7.0" text-anchor="end" fill="#1a1a1a">10</text>
<line x1="347.3" y1="216.9" x2="417.5" y2="194.3" stroke="#a97bbb" stroke-width="1.3"/>
<g fill="none" stroke="#222" stroke-width="0.85">
<circle cx="372.8" cy="201.1" r="1.6"/>
<circle cx="389.8" cy="206.4" r="1.6"/>
<circle cx="375.9" cy="204.6" r="1.6"/>
<circle cx="371.2" cy="210.8" r="1.6"/>
<circle cx="373.6" cy="204.9" r="1.6"/>
<circle cx="368.0" cy="202.7" r="1.6"/>
<circle cx="389.7" cy="211.5" r="1.6"/>
<circle cx="381.0" cy="216.6" r="1.6"/>
<circle cx="370.1" cy="211.8" r="1.6"/>
<circle cx="390.6" cy="200.8" r="1.6"/>
<circle cx="365.9" cy="208.5" r="1.6"/>
<circle cx="372.6" cy="211.8" r="1.6"/>
<circle cx="379.2" cy="221.2" r="1.6"/>
<circle cx="379.8" cy="200.5" r="1.6"/>
<circle cx="374.8" cy="204.7" r="1.6"/>
<circle cx="385.8" cy="213.6" r="1.6"/>
<circle cx="376.9" cy="201.0" r="1.6"/>
<circle cx="381.5" cy="194.6" r="1.6"/>
<circle cx="378.1" cy="199.9" r="1.6"/>
<circle cx="367.8" cy="198.3" r="1.6"/>
<circle cx="381.1" cy="217.1" r="1.6"/>
<circle cx="382.2" cy="220.1" r="1.6"/>
<circle cx="384.7" cy="211.8" r="1.6"/>
<circle cx="377.5" cy="217.4" r="1.6"/>
<circle cx="380.9" cy="189.5" r="1.6"/>
<circle cx="371.1" cy="216.0" r="1.6"/>
<circle cx="369.5" cy="197.9" r="1.6"/>
<circle cx="386.9" cy="194.6" r="1.6"/>
<circle cx="380.7" cy="194.1" r="1.6"/>
<circle cx="369.9" cy="206.7" r="1.6"/>
<circle cx="385.8" cy="201.4" r="1.6"/>
<circle cx="371.9" cy="211.8" r="1.6"/>
<circle cx="383.0" cy="205.7" r="1.6"/>
<circle cx="391.1" cy="208.4" r="1.6"/>
<circle cx="381.5" cy="191.0" r="1.6"/>
<circle cx="378.0" cy="190.2" r="1.6"/>
<circle cx="369.9" cy="205.1" r="1.6"/>
<circle cx="387.3" cy="204.9" r="1.6"/>
<circle cx="377.2" cy="211.4" r="1.6"/>
<circle cx="374.8" cy="189.2" r="1.6"/>
<circle cx="388.6" cy="209.6" r="1.6"/>
<circle cx="386.3" cy="195.1" r="1.6"/>
<circle cx="371.6" cy="217.2" r="1.6"/>
<circle cx="378.9" cy="196.0" r="1.6"/>
<circle cx="382.4" cy="212.3" r="1.6"/>
<circle cx="373.3" cy="205.4" r="1.6"/>
<circle cx="368.2" cy="199.4" r="1.6"/>
<circle cx="376.3" cy="219.2" r="1.6"/>
<circle cx="382.5" cy="198.6" r="1.6"/>
<circle cx="380.6" cy="194.9" r="1.6"/>
<circle cx="387.9" cy="202.4" r="1.6"/>
<circle cx="380.1" cy="214.8" r="1.6"/>
<circle cx="378.8" cy="190.7" r="1.6"/>
<circle cx="376.6" cy="221.0" r="1.6"/>
<circle cx="369.3" cy="211.1" r="1.6"/>
<circle cx="385.8" cy="203.2" r="1.6"/>
<circle cx="388.1" cy="207.7" r="1.6"/>
<circle cx="391.1" cy="206.7" r="1.6"/>
<circle cx="371.5" cy="197.4" r="1.6"/>
<circle cx="382.8" cy="199.8" r="1.6"/>
<circle cx="380.6" cy="217.3" r="1.6"/>
<circle cx="386.3" cy="201.2" r="1.6"/>
<circle cx="381.3" cy="202.6" r="1.6"/>
<circle cx="388.1" cy="205.2" r="1.6"/>
<circle cx="372.0" cy="191.5" r="1.6"/>
<circle cx="383.2" cy="202.4" r="1.6"/>
<circle cx="387.9" cy="209.1" r="1.6"/>
<circle cx="388.5" cy="200.4" r="1.6"/>
<circle cx="386.2" cy="209.4" r="1.6"/>
<circle cx="368.1" cy="196.4" r="1.6"/>
<circle cx="373.8" cy="207.1" r="1.6"/>
<circle cx="378.6" cy="207.2" r="1.6"/>
<circle cx="366.3" cy="200.5" r="1.6"/>
<circle cx="368.9" cy="201.1" r="1.6"/>
<circle cx="365.8" cy="201.9" r="1.6"/>
<circle cx="375.4" cy="191.3" r="1.6"/>
<circle cx="387.9" cy="214.9" r="1.6"/>
<circle cx="387.0" cy="209.8" r="1.6"/>
<circle cx="378.8" cy="207.1" r="1.6"/>
<circle cx="372.7" cy="205.9" r="1.6"/>
<circle cx="368.2" cy="213.4" r="1.6"/>
<circle cx="381.0" cy="215.1" r="1.6"/>
<circle cx="386.2" cy="215.6" r="1.6"/>
<circle cx="382.9" cy="205.3" r="1.6"/>
<circle cx="379.5" cy="213.7" r="1.6"/>
<circle cx="385.0" cy="210.5" r="1.6"/>
<circle cx="388.1" cy="197.5" r="1.6"/>
<circle cx="374.2" cy="201.7" r="1.6"/>
<circle cx="372.3" cy="212.0" r="1.6"/>
<circle cx="369.6" cy="210.1" r="1.6"/>
<circle cx="384.8" cy="197.6" r="1.6"/>
<circle cx="389.3" cy="205.0" r="1.6"/>
<circle cx="371.6" cy="204.6" r="1.6"/>
<circle cx="381.4" cy="192.5" r="1.6"/>
<circle cx="381.5" cy="211.5" r="1.6"/>
<circle cx="371.1" cy="200.1" r="1.6"/>
<circle cx="375.5" cy="197.9" r="1.6"/>
<circle cx="376.9" cy="192.7" r="1.6"/>
<circle cx="374.1" cy="217.2" r="1.6"/>
<circle cx="382.9" cy="203.4" r="1.6"/>
<circle cx="368.9" cy="199.7" r="1.6"/>
<circle cx="384.1" cy="204.2" r="1.6"/>
<circle cx="385.3" cy="211.3" r="1.6"/>
<circle cx="378.5" cy="211.4" r="1.6"/>
<circle cx="378.6" cy="199.8" r="1.6"/>
<circle cx="377.6" cy="199.5" r="1.6"/>
<circle cx="383.2" cy="195.0" r="1.6"/>
<circle cx="380.1" cy="215.6" r="1.6"/>
<circle cx="387.2" cy="202.4" r="1.6"/>
<circle cx="379.3" cy="199.9" r="1.6"/>
<circle cx="377.6" cy="214.4" r="1.6"/>
<circle cx="384.6" cy="212.6" r="1.6"/>
<circle cx="380.1" cy="205.0" r="1.6"/>
<circle cx="384.1" cy="201.9" r="1.6"/>
<circle cx="388.1" cy="207.3" r="1.6"/>
<circle cx="385.6" cy="202.6" r="1.6"/>
<circle cx="376.4" cy="199.7" r="1.6"/>
<circle cx="370.4" cy="217.1" r="1.6"/>
<circle cx="380.8" cy="219.1" r="1.6"/>
<circle cx="382.1" cy="213.7" r="1.6"/>
<circle cx="372.7" cy="209.8" r="1.6"/>
<circle cx="379.6" cy="208.3" r="1.6"/>
<circle cx="377.5" cy="206.6" r="1.6"/>
<circle cx="387.7" cy="193.0" r="1.6"/>
<circle cx="387.0" cy="203.4" r="1.6"/>
<circle cx="385.7" cy="205.4" r="1.6"/>
<circle cx="380.8" cy="206.1" r="1.6"/>
<circle cx="376.7" cy="214.3" r="1.6"/>
<circle cx="376.0" cy="206.3" r="1.6"/>
<circle cx="386.3" cy="200.8" r="1.6"/>
<circle cx="381.6" cy="197.6" r="1.6"/>
<circle cx="382.4" cy="198.7" r="1.6"/>
<circle cx="390.5" cy="199.0" r="1.6"/>
<circle cx="376.5" cy="210.1" r="1.6"/>
<circle cx="380.9" cy="206.3" r="1.6"/>
<circle cx="371.4" cy="205.7" r="1.6"/>
<circle cx="382.7" cy="198.2" r="1.6"/>
<circle cx="377.1" cy="195.4" r="1.6"/>
<circle cx="389.4" cy="207.1" r="1.6"/>
<circle cx="382.4" cy="201.0" r="1.6"/>
<circle cx="377.5" cy="207.6" r="1.6"/>
<circle cx="386.6" cy="203.8" r="1.6"/>
<circle cx="377.0" cy="209.9" r="1.6"/>
<circle cx="377.4" cy="216.9" r="1.6"/>
<circle cx="376.5" cy="198.8" r="1.6"/>
<circle cx="378.2" cy="208.1" r="1.6"/>
<circle cx="375.2" cy="221.4" r="1.6"/>
<circle cx="393.5" cy="206.2" r="1.6"/>
<circle cx="382.4" cy="218.5" r="1.6"/>
<circle cx="374.9" cy="203.1" r="1.6"/>
<circle cx="378.7" cy="210.2" r="1.6"/>
<circle cx="377.6" cy="197.8" r="1.6"/>
<circle cx="368.7" cy="199.1" r="1.6"/>
<circle cx="381.0" cy="201.4" r="1.6"/>
<circle cx="381.2" cy="208.9" r="1.6"/>
<circle cx="377.0" cy="213.2" r="1.6"/>
<circle cx="380.7" cy="206.8" r="1.6"/>
<circle cx="373.6" cy="206.8" r="1.6"/>
<circle cx="375.3" cy="220.3" r="1.6"/>
<circle cx="373.0" cy="221.0" r="1.6"/>
<circle cx="381.1" cy="211.1" r="1.6"/>
<circle cx="378.0" cy="204.1" r="1.6"/>
<circle cx="374.8" cy="202.6" r="1.6"/>
<circle cx="367.1" cy="216.8" r="1.6"/>
<circle cx="374.7" cy="207.0" r="1.6"/>
<circle cx="380.5" cy="210.5" r="1.6"/>
<circle cx="374.6" cy="214.3" r="1.6"/>
<circle cx="376.6" cy="208.3" r="1.6"/>
<circle cx="384.6" cy="199.5" r="1.6"/>
<circle cx="370.9" cy="205.3" r="1.6"/>
<circle cx="401.7" cy="189.2" r="1.6"/>
<circle cx="391.7" cy="187.3" r="1.6"/>
<circle cx="394.5" cy="194.0" r="1.6"/>
<circle cx="394.5" cy="197.9" r="1.6"/>
<circle cx="400.9" cy="206.6" r="1.6"/>
<circle cx="402.5" cy="205.8" r="1.6"/>
<circle cx="390.6" cy="217.4" r="1.6"/>
<circle cx="395.3" cy="216.4" r="1.6"/>
<circle cx="380.3" cy="224.0" r="1.6"/>
<circle cx="361.3" cy="221.7" r="1.6"/>
<circle cx="359.7" cy="206.6" r="1.6"/>
<circle cx="358.9" cy="213.0" r="1.6"/>
<circle cx="367.6" cy="195.2" r="1.6"/>
<circle cx="362.0" cy="217.0" r="1.6"/>
<circle cx="365.0" cy="219.0" r="1.6"/>
<circle cx="397.0" cy="203.0" r="1.6"/>
<circle cx="398.0" cy="208.0" r="1.6"/>
<circle cx="386.0" cy="220.0" r="1.6"/>
<circle cx="373.0" cy="223.0" r="1.6"/>
<circle cx="360.0" cy="210.0" r="1.6"/>
<circle cx="388.0" cy="190.0" r="1.6"/>
<circle cx="382.0" cy="188.0" r="1.6"/>
<circle cx="376.0" cy="189.0" r="1.6"/>
<circle cx="371.0" cy="190.0" r="1.6"/>
<circle cx="369.0" cy="193.0" r="1.6"/>
<circle cx="385.0" cy="186.0" r="1.6"/>
<circle cx="393.0" cy="200.0" r="1.6"/>
<circle cx="366.0" cy="214.0" r="1.6"/>
<circle cx="372.0" cy="218.0" r="1.6"/>
</g>
<text x="348.90" y="174.70" font-size="6.8" fill="#111"><tspan font-style="italic">r</tspan> = 0.36<tspan font-size="5.0" dy="-1.8">****</tspan></text>
<text x="382.70" y="150.10" font-size="8.1" text-anchor="middle" fill="#1a1a1a">Djureinovic <tspan font-style='italic'>et al.</tspan> NSCLC</text>
<text x="383.80" y="159.40" font-size="8.1" text-anchor="middle" fill="#1a1a1a">Patient tumors (<tspan font-style="italic">n</tspan> =199)</text>
<text transform="translate(334.60,193.00) rotate(-90)" font-size="5.9" text-anchor="middle" fill="#1a1a1a"><tspan font-style="italic">PD-L1</tspan> mRNA</text>
<text x="379.00" y="256.60" font-size="5.9" text-anchor="middle" fill="#1a1a1a"><tspan font-style="italic">CD44</tspan> mRNA</text>
<rect x="444.50" y="168.60" width="70.30" height="66.90" fill="none" stroke="#787878" stroke-width="1.1"/>
<line x1="445.00" y1="235.50" x2="445.00" y2="237.00" stroke="#6a6a6a" stroke-width="0.9"/>
<text x="445.00" y="246.30" font-size="7.0" text-anchor="middle" fill="#1a1a1a">8</text>
<line x1="462.44" y1="235.50" x2="462.44" y2="237.00" stroke="#6a6a6a" stroke-width="0.9"/>
<text x="462.44" y="246.30" font-size="7.0" text-anchor="middle" fill="#1a1a1a">10</text>
<line x1="479.88" y1="235.50" x2="479.88" y2="237.00" stroke="#6a6a6a" stroke-width="0.9"/>
<text x="479.88" y="246.30" font-size="7.0" text-anchor="middle" fill="#1a1a1a">12</text>
<line x1="497.32" y1="235.50" x2="497.32" y2="237.00" stroke="#6a6a6a" stroke-width="0.9"/>
<text x="497.32" y="246.30" font-size="7.0" text-anchor="middle" fill="#1a1a1a">14</text>
<line x1="514.76" y1="235.50" x2="514.76" y2="237.00" stroke="#6a6a6a" stroke-width="0.9"/>
<text x="514.76" y="246.30" font-size="7.0" text-anchor="middle" fill="#1a1a1a">16</text>
<line x1="443.00" y1="235.00" x2="444.50" y2="235.00" stroke="#6a6a6a" stroke-width="0.9"/>
<text x="442.90" y="237.50" font-size="7.0" text-anchor="end" fill="#1a1a1a">2</text>
<line x1="443.00" y1="221.72" x2="444.50" y2="221.72" stroke="#6a6a6a" stroke-width="0.9"/>
<text x="442.90" y="224.22" font-size="7.0" text-anchor="end" fill="#1a1a1a">4</text>
<line x1="443.00" y1="208.44" x2="444.50" y2="208.44" stroke="#6a6a6a" stroke-width="0.9"/>
<text x="442.90" y="210.94" font-size="7.0" text-anchor="end" fill="#1a1a1a">6</text>
<line x1="443.00" y1="195.16" x2="444.50" y2="195.16" stroke="#6a6a6a" stroke-width="0.9"/>
<text x="442.90" y="197.66" font-size="7.0" text-anchor="end" fill="#1a1a1a">8</text>
<line x1="443.00" y1="181.88" x2="444.50" y2="181.88" stroke="#6a6a6a" stroke-width="0.9"/>
<text x="442.90" y="184.38" font-size="7.0" text-anchor="end" fill="#1a1a1a">10</text>
<line x1="443.00" y1="168.60" x2="444.50" y2="168.60" stroke="#6a6a6a" stroke-width="0.9"/>
<text x="442.90" y="171.10" font-size="7.0" text-anchor="end" fill="#1a1a1a">12</text>
<line x1="444.5" y1="225.9" x2="514.8" y2="186.0" stroke="#a97bbb" stroke-width="1.3"/>
<g fill="none" stroke="#222" stroke-width="0.85">
<circle cx="480.8" cy="186.8" r="1.6"/>
<circle cx="490.9" cy="189.6" r="1.6"/>
<circle cx="483.4" cy="193.0" r="1.6"/>
<circle cx="480.0" cy="200.1" r="1.6"/>
<circle cx="482.8" cy="199.3" r="1.6"/>
<circle cx="485.0" cy="199.0" r="1.6"/>
<circle cx="483.9" cy="201.6" r="1.6"/>
<circle cx="472.2" cy="205.8" r="1.6"/>
<circle cx="475.3" cy="205.5" r="1.6"/>
<circle cx="479.7" cy="205.8" r="1.6"/>
<circle cx="482.3" cy="205.2" r="1.6"/>
<circle cx="485.0" cy="204.8" r="1.6"/>
<circle cx="487.8" cy="205.5" r="1.6"/>
<circle cx="491.7" cy="206.8" r="1.6"/>
<circle cx="447.9" cy="211.8" r="1.6"/>
<circle cx="482.3" cy="210.5" r="1.6"/>
<circle cx="481.5" cy="212.6" r="1.6"/>
<circle cx="480.8" cy="214.6" r="1.6"/>
<circle cx="465.9" cy="214.9" r="1.6"/>
<circle cx="470.6" cy="214.1" r="1.6"/>
<circle cx="471.8" cy="226.6" r="1.6"/>
<circle cx="451.5" cy="230.9" r="1.6"/>
</g>
<text x="446.10" y="175.80" font-size="6.8" fill="#111"><tspan font-style="italic">r</tspan> = 0.62<tspan font-size="5.0" dy="-1.8">**</tspan></text>
<text x="479.20" y="151.30" font-size="8.1" text-anchor="middle" fill="#1a1a1a">Prat <tspan font-style='italic'>et al.</tspan> NSCLC</text>
<text x="479.40" y="160.70" font-size="8.1" text-anchor="middle" fill="#1a1a1a">Patient tumors (<tspan font-style="italic">n</tspan> = 22)</text>
<text transform="translate(431.80,193.00) rotate(-90)" font-size="5.9" text-anchor="middle" fill="#1a1a1a"><tspan font-style="italic">PD-L1</tspan> mRNA</text>
<text x="476.20" y="257.10" font-size="5.9" text-anchor="middle" fill="#1a1a1a"><tspan font-style="italic">CD44</tspan> mRNA</text>
<text x="96.40" y="297.80" font-size="7.9" text-anchor="middle" fill="#1a1a1a">LUAD MUHC cohort</text>
<rect x="46.1" y="304.7" width="95.1" height="94.7" fill="none" stroke="#333" stroke-width="1"/>
<line x1="43.2" y1="383.60" x2="46.1" y2="383.60" stroke="#333" stroke-width="0.9"/>
<text x="42.20" y="386.60" font-size="8.5" text-anchor="end" fill="#1a1a1a">0</text>
<line x1="43.2" y1="351.97" x2="46.1" y2="351.97" stroke="#333" stroke-width="0.9"/>
<text x="42.20" y="354.97" font-size="8.5" text-anchor="end" fill="#1a1a1a">50</text>
<line x1="43.2" y1="320.34" x2="46.1" y2="320.34" stroke="#333" stroke-width="0.9"/>
<text x="42.20" y="323.34" font-size="8.5" text-anchor="end" fill="#1a1a1a">100</text>
<line x1="73.1" y1="399.4" x2="73.1" y2="402.2" stroke="#333" stroke-width="0.9"/>
<line x1="113.8" y1="399.4" x2="113.8" y2="402.2" stroke="#333" stroke-width="0.9"/>
<text transform="translate(22.2,352.6) rotate(-90)" font-size="8.4" text-anchor="middle" fill="#1a1a1a">% positive PD-L1 tumors</text>
<text x="52.4" y="314.2" font-size="7.6" fill="#1a1a1a"><tspan font-style="italic">P</tspan> = 0.008</text>
<text x="75.3" y="397.3" font-size="7.6" text-anchor="middle" fill="#1a1a1a"><tspan font-style="italic">n</tspan> = 46</text>
<text x="118.4" y="397.3" font-size="7.6" text-anchor="middle" fill="#1a1a1a"><tspan font-style="italic">n</tspan> = 32</text>
<text x="62.8" y="414.4" font-size="7.6" fill="#1a1a1a">CD44<tspan font-size="5.2" dy="-2.0">neg</tspan></text>
<text x="104.5" y="414.4" font-size="7.6" fill="#1a1a1a">CD44<tspan font-size="5.2" dy="-2.0">pos</tspan></text>
<rect x="59.6" y="380.9" width="26.4" height="4.4" rx="1.2" fill="#111"/>
<g fill="#111">
<circle cx="73.1" cy="326.7" r="1.85"/>
<circle cx="73.1" cy="371.6" r="1.85"/>
<circle cx="68.2" cy="380.4" r="1.85"/>
<circle cx="76.9" cy="380.4" r="1.85"/>
<circle cx="72.6" cy="381.1" r="1.85"/>
<circle cx="61.0" cy="383.6" r="1.85"/>
<circle cx="62.9" cy="383.6" r="1.85"/>
<circle cx="64.8" cy="383.6" r="1.85"/>
<circle cx="66.7" cy="383.6" r="1.85"/>
<circle cx="68.6" cy="383.6" r="1.85"/>
<circle cx="70.5" cy="383.6" r="1.85"/>
<circle cx="72.4" cy="383.6" r="1.85"/>
<circle cx="74.3" cy="383.6" r="1.85"/>
<circle cx="76.2" cy="383.6" r="1.85"/>
<circle cx="78.1" cy="383.6" r="1.85"/>
<circle cx="80.0" cy="383.6" r="1.85"/>
<circle cx="81.9" cy="383.6" r="1.85"/>
<circle cx="83.8" cy="383.6" r="1.85"/>
<circle cx="85.7" cy="383.6" r="1.85"/>
<circle cx="64.0" cy="382.5" r="1.85"/>
<circle cx="66.6" cy="382.5" r="1.85"/>
<circle cx="69.2" cy="382.5" r="1.85"/>
<circle cx="71.8" cy="382.5" r="1.85"/>
<circle cx="74.4" cy="382.5" r="1.85"/>
<circle cx="77.0" cy="382.5" r="1.85"/>
<circle cx="79.6" cy="382.5" r="1.85"/>
<circle cx="82.2" cy="382.5" r="1.85"/>
</g>
<g stroke="#111" stroke-width="1.1"><line x1="60.3" y1="381.39" x2="85.9" y2="381.39"/><line x1="66.5" y1="373.48" x2="80" y2="373.48"/><line x1="66.5" y1="389.93" x2="80" y2="389.93"/><line x1="73.1" y1="373.48" x2="73.1" y2="389.93"/></g>
<rect x="101.2" y="381.5" width="25.3" height="3.6" rx="1.4" fill="#c28fd0"/>
<g fill="#c28fd0">
<circle cx="113.8" cy="320.3" r="1.85"/>
<circle cx="108.2" cy="333.0" r="1.85"/>
<circle cx="113.8" cy="333.0" r="1.85"/>
<circle cx="119.3" cy="333.0" r="1.85"/>
<circle cx="113.8" cy="345.6" r="1.85"/>
<circle cx="113.8" cy="352.0" r="1.85"/>
<circle cx="111.1" cy="358.3" r="1.85"/>
<circle cx="116.4" cy="358.3" r="1.85"/>
<circle cx="111.1" cy="364.6" r="1.85"/>
<circle cx="116.4" cy="364.6" r="1.85"/>
<circle cx="111.1" cy="370.9" r="1.85"/>
<circle cx="116.4" cy="370.9" r="1.85"/>
<circle cx="113.8" cy="377.3" r="1.85"/>
<circle cx="102.4" cy="380.4" r="1.85"/>
<circle cx="125.5" cy="380.4" r="1.85"/>
<circle cx="103.0" cy="383.6" r="1.85"/>
<circle cx="104.9" cy="383.6" r="1.85"/>
<circle cx="106.8" cy="383.6" r="1.85"/>
<circle cx="108.7" cy="383.6" r="1.85"/>
<circle cx="110.6" cy="383.6" r="1.85"/>
<circle cx="112.5" cy="383.6" r="1.85"/>
<circle cx="114.4" cy="383.6" r="1.85"/>
<circle cx="116.3" cy="383.6" r="1.85"/>
<circle cx="118.2" cy="383.6" r="1.85"/>
<circle cx="120.1" cy="383.6" r="1.85"/>
<circle cx="122.0" cy="383.6" r="1.85"/>
<circle cx="123.9" cy="383.6" r="1.85"/>
<circle cx="125.8" cy="383.6" r="1.85"/>
</g>
<g stroke="#c28fd0" stroke-width="1.1"><line x1="99.9" y1="370.95" x2="127.6" y2="370.95"/><line x1="106.5" y1="351.97" x2="121" y2="351.97"/><line x1="106.5" y1="389.93" x2="121" y2="389.93"/><line x1="113.8" y1="351.97" x2="113.8" y2="389.93"/></g>
<text x="336.60" y="273.60" font-size="7.9" text-anchor="middle" fill="#1a1a1a">LUAD MUHC cohort</text>
<text x="279.90" y="284.80" font-size="7.9" text-anchor="middle" fill="#1a1a1a">PD-L1</text>
<text x="383.10" y="284.80" font-size="7.9" text-anchor="middle" fill="#1a1a1a">CD44</text>
<text x="224.90" y="318.80" font-size="7.9" text-anchor="end" fill="#1a1a1a">Patient #16</text>
<text x="224.9" y="326.9" font-size="7.9" text-anchor="end" fill="#1a1a1a">CD44<tspan font-size="4.9" dy="-2.0">neg</tspan></text>
<text x="224.90" y="395.50" font-size="7.9" text-anchor="end" fill="#1a1a1a">Patient #19</text>
<text x="224.9" y="404.2" font-size="7.9" text-anchor="end" fill="#1a1a1a">CD44<tspan font-size="4.9" dy="-2.0">pos</tspan></text>
<defs><filter id="tt1" x="0" y="0" width="100%" height="100%" color-interpolation-filters="sRGB"><feTurbulence type="fractalNoise" baseFrequency="0.3" numOctaves="2" seed="3"/><feColorMatrix type="matrix" values="1 0 0 0 0  1 0 0 0 0  1 0 0 0 0  0 0 0 0 1"/><feComponentTransfer><feFuncR type="table" tableValues="0.55 0.60 0.67 0.75 0.82 0.87 0.89"/><feFuncG type="table" tableValues="0.64 0.68 0.74 0.81 0.87 0.91 0.93"/><feFuncB type="table" tableValues="0.76 0.79 0.83 0.88 0.92 0.94 0.95"/></feComponentTransfer></filter><filter id="tt2" x="0" y="0" width="100%" height="100%" color-interpolation-filters="sRGB"><feTurbulence type="fractalNoise" baseFrequency="0.3" numOctaves="2" seed="17"/><feColorMatrix type="matrix" values="1 0 0 0 0  1 0 0 0 0  1 0 0 0 0  0 0 0 0 1"/><feComponentTransfer><feFuncR type="table" tableValues="0.55 0.60 0.67 0.75 0.82 0.87 0.89"/><feFuncG type="table" tableValues="0.64 0.68 0.74 0.81 0.87 0.91 0.93"/><feFuncB type="table" tableValues="0.76 0.79 0.83 0.88 0.92 0.94 0.95"/></feComponentTransfer></filter><filter id="tb1" x="0" y="0" width="100%" height="100%" color-interpolation-filters="sRGB"><feTurbulence type="fractalNoise" baseFrequency="0.09" numOctaves="3" seed="5"/><feColorMatrix type="matrix" values="1 0 0 0 0  1 0 0 0 0  1 0 0 0 0  0 0 0 0 1"/><feComponentTransfer><feFuncR type="table" tableValues="0.66 0.72 0.80 0.90 0.96 0.98 0.99"/><feFuncG type="table" tableValues="0.68 0.74 0.81 0.90 0.96 0.98 0.99"/><feFuncB type="table" tableValues="0.80 0.84 0.88 0.94 0.97 0.99 0.99"/></feComponentTransfer></filter><filter id="tb2" x="0" y="0" width="100%" height="100%" color-interpolation-filters="sRGB"><feTurbulence type="fractalNoise" baseFrequency="0.09" numOctaves="3" seed="9"/><feColorMatrix type="matrix" values="1 0 0 0 0  1 0 0 0 0  1 0 0 0 0  0 0 0 0 1"/><feComponentTransfer><feFuncR type="table" tableValues="0.66 0.72 0.80 0.90 0.96 0.98 0.99"/><feFuncG type="table" tableValues="0.68 0.74 0.81 0.90 0.96 0.98 0.99"/><feFuncB type="table" tableValues="0.80 0.84 0.88 0.94 0.97 0.99 0.99"/></feComponentTransfer></filter><filter id="soft" x="-5%" y="-5%" width="110%" height="110%"><feGaussianBlur stdDeviation="0.45"/></filter><filter id="soft2" x="-5%" y="-5%" width="110%" height="110%"><feGaussianBlur stdDeviation="0.35"/></filter></defs>
<rect x="233.0" y="288.0" width="99.5" height="71.2" filter="url(#tt1)"/>
<svg x="233.0" y="288.0" width="99.5" height="71.2" viewBox="0 0 99.5 71.2" overflow="hidden"><g filter="url(#soft2)">
<circle cx="0.4" cy="0.3" r="1.8" fill="#8ea8c8" fill-opacity="0.92"/>
<circle cx="5.2" cy="-0.6" r="1.9" fill="#86a0c2" fill-opacity="0.56"/>
<circle cx="8.5" cy="-0.7" r="2.0" fill="#8ea8c8" fill-opacity="0.81"/>
<circle cx="13.9" cy="0.5" r="1.8" fill="#9ab0cc" fill-opacity="0.56"/>
<circle cx="17.2" cy="-0.8" r="2.2" fill="#7f99bd" fill-opacity="0.56"/>
<circle cx="20.7" cy="0.6" r="1.5" fill="#8ea8c8" fill-opacity="0.75"/>
<circle cx="25.8" cy="-0.6" r="1.5" fill="#8ea8c8" fill-opacity="0.58"/>
<circle cx="30.4" cy="0.6" r="2.0" fill="#93abca" fill-opacity="0.92"/>
<circle cx="38.8" cy="-0.2" r="1.7" fill="#8ea8c8" fill-opacity="0.88"/>
<circle cx="42.7" cy="-0.1" r="1.8" fill="#9ab0cc" fill-opacity="0.69"/>
<circle cx="56.9" cy="-0.0" r="1.8" fill="#93abca" fill-opacity="0.77"/>
<circle cx="60.3" cy="-0.4" r="2.2" fill="#86a0c2" fill-opacity="0.62"/>
<circle cx="64.2" cy="0.9" r="1.7" fill="#93abca" fill-opacity="0.89"/>
<circle cx="68.1" cy="0.8" r="1.6" fill="#9ab0cc" fill-opacity="0.69"/>
<circle cx="73.5" cy="0.8" r="2.2" fill="#9ab0cc" fill-opacity="0.89"/>
<circle cx="77.9" cy="-1.0" r="1.7" fill="#93abca" fill-opacity="0.69"/>
<circle cx="82.5" cy="-0.7" r="1.5" fill="#9ab0cc" fill-opacity="0.84"/>
<circle cx="86.7" cy="-0.9" r="1.7" fill="#7f99bd" fill-opacity="0.56"/>
<circle cx="90.1" cy="0.7" r="2.0" fill="#8ea8c8" fill-opacity="0.91"/>
<circle cx="94.6" cy="-0.5" r="2.2" fill="#93abca" fill-opacity="0.89"/>
<circle cx="99.8" cy="0.8" r="1.8" fill="#8ea8c8" fill-opacity="0.88"/>
<circle cx="103.1" cy="0.2" r="2.1" fill="#7f99bd" fill-opacity="0.60"/>
<circle cx="1.4" cy="4.4" r="1.8" fill="#8ea8c8" fill-opacity="0.90"/>
<circle cx="11.0" cy="4.7" r="1.9" fill="#7f99bd" fill-opacity="0.80"/>
<circle cx="15.7" cy="3.2" r="1.6" fill="#9ab0cc" fill-opacity="0.58"/>
<circle cx="22.9" cy="4.7" r="2.0" fill="#8ea8c8" fill-opacity="0.66"/>
<circle cx="27.7" cy="4.7" r="1.9" fill="#8ea8c8" fill-opacity="0.62"/>
<circle cx="32.7" cy="4.1" r="1.5" fill="#a4b8d2" fill-opacity="0.74"/>
<circle cx="35.7" cy="4.8" r="1.8" fill="#86a0c2" fill-opacity="0.70"/>
<circle cx="41.6" cy="3.4" r="2.2" fill="#93abca" fill-opacity="0.67"/>
<circle cx="49.1" cy="4.8" r="1.7" fill="#93abca" fill-opacity="0.85"/>
<circle cx="53.9" cy="4.0" r="1.5" fill="#93abca" fill-opacity="0.82"/>
<circle cx="57.7" cy="4.4" r="1.9" fill="#93abca" fill-opacity="0.62"/>
<circle cx="62.0" cy="3.4" r="1.5" fill="#a4b8d2" fill-opacity="0.92"/>
<circle cx="80.1" cy="3.9" r="1.9" fill="#86a0c2" fill-opacity="0.80"/>
<circle cx="83.8" cy="4.0" r="2.1" fill="#86a0c2" fill-opacity="0.63"/>
<circle cx="91.9" cy="4.4" r="2.1" fill="#a4b8d2" fill-opacity="0.71"/>
<circle cx="96.5" cy="3.6" r="1.7" fill="#a4b8d2" fill-opacity="0.58"/>
<circle cx="101.0" cy="4.4" r="2.1" fill="#9ab0cc" fill-opacity="0.78"/>
<circle cx="105.7" cy="4.7" r="2.0" fill="#a4b8d2" fill-opacity="0.65"/>
<circle cx="-0.0" cy="7.5" r="1.8" fill="#93abca" fill-opacity="0.91"/>
<circle cx="3.3" cy="7.5" r="1.7" fill="#9ab0cc" fill-opacity="0.82"/>
<circle cx="12.9" cy="8.2" r="1.8" fill="#a4b8d2" fill-opacity="0.72"/>
<circle cx="21.9" cy="7.3" r="1.7" fill="#a4b8d2" fill-opacity="0.77"/>
<circle cx="25.0" cy="7.0" r="1.9" fill="#8ea8c8" fill-opacity="0.88"/>
<circle cx="29.6" cy="8.3" r="2.0" fill="#8ea8c8" fill-opacity="0.90"/>
<circle cx="34.3" cy="8.1" r="1.7" fill="#8ea8c8" fill-opacity="0.80"/>
<circle cx="37.9" cy="8.9" r="1.7" fill="#7f99bd" fill-opacity="0.85"/>
<circle cx="43.4" cy="6.9" r="1.9" fill="#86a0c2" fill-opacity="0.70"/>
<circle cx="47.2" cy="8.9" r="2.2" fill="#8ea8c8" fill-opacity="0.58"/>
<circle cx="51.5" cy="8.7" r="1.8" fill="#8ea8c8" fill-opacity="0.76"/>
<circle cx="55.8" cy="8.6" r="1.7" fill="#9ab0cc" fill-opacity="0.70"/>
<circle cx="59.7" cy="8.5" r="2.1" fill="#9ab0cc" fill-opacity="0.88"/>
<circle cx="68.0" cy="8.7" r="2.0" fill="#a4b8d2" fill-opacity="0.62"/>
<circle cx="77.6" cy="8.2" r="1.8" fill="#a4b8d2" fill-opacity="0.68"/>
<circle cx="81.4" cy="7.5" r="1.9" fill="#86a0c2" fill-opacity="0.80"/>
<circle cx="85.2" cy="8.6" r="1.8" fill="#7f99bd" fill-opacity="0.57"/>
<circle cx="95.0" cy="8.2" r="1.6" fill="#86a0c2" fill-opacity="0.64"/>
<circle cx="98.4" cy="7.3" r="1.6" fill="#93abca" fill-opacity="0.71"/>
<circle cx="102.6" cy="7.9" r="2.0" fill="#93abca" fill-opacity="0.75"/>
<circle cx="1.5" cy="12.3" r="1.8" fill="#8ea8c8" fill-opacity="0.87"/>
<circle cx="5.5" cy="11.4" r="1.5" fill="#a4b8d2" fill-opacity="0.84"/>
<circle cx="10.8" cy="12.7" r="2.2" fill="#9ab0cc" fill-opacity="0.63"/>
<circle cx="15.4" cy="11.6" r="2.1" fill="#8ea8c8" fill-opacity="0.78"/>
<circle cx="19.9" cy="12.2" r="1.6" fill="#93abca" fill-opacity="0.74"/>
<circle cx="23.1" cy="11.9" r="1.7" fill="#9ab0cc" fill-opacity="0.82"/>
<circle cx="27.7" cy="11.0" r="1.8" fill="#8ea8c8" fill-opacity="0.68"/>
<circle cx="33.0" cy="12.0" r="2.2" fill="#9ab0cc" fill-opacity="0.90"/>
<circle cx="37.5" cy="12.3" r="2.0" fill="#8ea8c8" fill-opacity="0.89"/>
<circle cx="41.6" cy="11.9" r="1.6" fill="#8ea8c8" fill-opacity="0.80"/>
<circle cx="45.1" cy="11.9" r="1.6" fill="#8ea8c8" fill-opacity="0.64"/>
<circle cx="49.2" cy="11.8" r="1.7" fill="#93abca" fill-opacity="0.87"/>
<circle cx="54.3" cy="11.5" r="1.8" fill="#7f99bd" fill-opacity="0.82"/>
<circle cx="59.0" cy="11.6" r="1.8" fill="#86a0c2" fill-opacity="0.84"/>
<circle cx="61.9" cy="12.5" r="1.8" fill="#9ab0cc" fill-opacity="0.63"/>
<circle cx="67.3" cy="11.8" r="1.5" fill="#7f99bd" fill-opacity="0.89"/>
<circle cx="70.6" cy="11.6" r="1.9" fill="#9ab0cc" fill-opacity="0.77"/>
<circle cx="76.0" cy="12.4" r="1.8" fill="#7f99bd" fill-opacity="0.82"/>
<circle cx="78.8" cy="12.7" r="1.9" fill="#7f99bd" fill-opacity="0.88"/>
<circle cx="88.4" cy="11.2" r="2.1" fill="#7f99bd" fill-opacity="0.59"/>
<circle cx="92.7" cy="11.9" r="1.6" fill="#a4b8d2" fill-opacity="0.73"/>
<circle cx="101.9" cy="11.9" r="1.5" fill="#8ea8c8" fill-opacity="0.65"/>
<circle cx="106.0" cy="11.0" r="2.0" fill="#93abca" fill-opacity="0.79"/>
<circle cx="4.5" cy="15.7" r="1.9" fill="#93abca" fill-opacity="0.69"/>
<circle cx="8.9" cy="15.6" r="1.7" fill="#9ab0cc" fill-opacity="0.79"/>
<circle cx="12.9" cy="15.3" r="2.1" fill="#86a0c2" fill-opacity="0.87"/>
<circle cx="17.9" cy="16.4" r="2.1" fill="#a4b8d2" fill-opacity="0.58"/>
<circle cx="20.8" cy="16.4" r="1.7" fill="#7f99bd" fill-opacity="0.66"/>
<circle cx="25.7" cy="15.2" r="1.5" fill="#8ea8c8" fill-opacity="0.86"/>
<circle cx="29.3" cy="15.9" r="1.6" fill="#9ab0cc" fill-opacity="0.60"/>
<circle cx="34.8" cy="15.2" r="1.5" fill="#8ea8c8" fill-opacity="0.63"/>
<circle cx="38.2" cy="15.7" r="2.1" fill="#93abca" fill-opacity="0.81"/>
<circle cx="42.8" cy="16.7" r="2.1" fill="#a4b8d2" fill-opacity="0.68"/>
<circle cx="46.4" cy="15.8" r="2.1" fill="#93abca" fill-opacity="0.73"/>
<circle cx="56.5" cy="15.3" r="1.8" fill="#7f99bd" fill-opacity="0.75"/>
<circle cx="59.9" cy="16.2" r="2.0" fill="#9ab0cc" fill-opacity="0.89"/>
<circle cx="63.7" cy="16.0" r="1.8" fill="#8ea8c8" fill-opacity="0.83"/>
<circle cx="68.4" cy="15.0" r="2.0" fill="#9ab0cc" fill-opacity="0.89"/>
<circle cx="78.1" cy="15.8" r="1.6" fill="#9ab0cc" fill-opacity="0.63"/>
<circle cx="82.2" cy="14.9" r="1.9" fill="#93abca" fill-opacity="0.67"/>
<circle cx="86.8" cy="15.7" r="1.6" fill="#86a0c2" fill-opacity="0.63"/>
<circle cx="91.2" cy="14.9" r="2.0" fill="#a4b8d2" fill-opacity="0.91"/>
<circle cx="94.3" cy="16.5" r="1.6" fill="#a4b8d2" fill-opacity="0.77"/>
<circle cx="99.3" cy="15.8" r="1.7" fill="#a4b8d2" fill-opacity="0.60"/>
<circle cx="103.7" cy="16.2" r="2.2" fill="#86a0c2" fill-opacity="0.64"/>
<circle cx="1.8" cy="19.5" r="2.2" fill="#8ea8c8" fill-opacity="0.82"/>
<circle cx="11.6" cy="19.2" r="2.2" fill="#a4b8d2" fill-opacity="0.64"/>
<circle cx="14.1" cy="19.2" r="1.8" fill="#8ea8c8" fill-opacity="0.73"/>
<circle cx="19.4" cy="20.7" r="2.0" fill="#9ab0cc" fill-opacity="0.69"/>
<circle cx="24.2" cy="19.8" r="1.5" fill="#a4b8d2" fill-opacity="0.55"/>
<circle cx="32.8" cy="18.9" r="1.9" fill="#86a0c2" fill-opacity="0.62"/>
<circle cx="36.9" cy="20.5" r="1.7" fill="#9ab0cc" fill-opacity="0.90"/>
<circle cx="40.4" cy="18.8" r="1.8" fill="#7f99bd" fill-opacity="0.72"/>
<circle cx="45.9" cy="19.3" r="1.7" fill="#93abca" fill-opacity="0.68"/>
<circle cx="49.2" cy="20.0" r="2.1" fill="#7f99bd" fill-opacity="0.84"/>
<circle cx="54.7" cy="18.9" r="2.1" fill="#a4b8d2" fill-opacity="0.63"/>
<circle cx="61.7" cy="19.9" r="1.9" fill="#8ea8c8" fill-opacity="0.86"/>
<circle cx="66.0" cy="20.3" r="1.6" fill="#a4b8d2" fill-opacity="0.66"/>
<circle cx="70.4" cy="19.6" r="2.1" fill="#7f99bd" fill-opacity="0.83"/>
<circle cx="74.7" cy="19.4" r="1.7" fill="#9ab0cc" fill-opacity="0.83"/>
<circle cx="80.5" cy="20.0" r="2.1" fill="#9ab0cc" fill-opacity="0.72"/>
<circle cx="84.4" cy="19.2" r="1.9" fill="#86a0c2" fill-opacity="0.88"/>
<circle cx="87.3" cy="20.2" r="1.8" fill="#8ea8c8" fill-opacity="0.85"/>
<circle cx="92.7" cy="18.8" r="2.0" fill="#7f99bd" fill-opacity="0.74"/>
<circle cx="95.8" cy="20.6" r="2.1" fill="#9ab0cc" fill-opacity="0.58"/>
<circle cx="102.0" cy="20.5" r="2.1" fill="#9ab0cc" fill-opacity="0.83"/>
<circle cx="104.9" cy="20.3" r="1.7" fill="#86a0c2" fill-opacity="0.89"/>
<circle cx="0.8" cy="24.0" r="1.9" fill="#7f99bd" fill-opacity="0.70"/>
<circle cx="4.0" cy="23.8" r="2.1" fill="#a4b8d2" fill-opacity="0.62"/>
<circle cx="8.3" cy="23.3" r="2.1" fill="#a4b8d2" fill-opacity="0.75"/>
<circle cx="12.3" cy="23.9" r="1.7" fill="#93abca" fill-opacity="0.83"/>
<circle cx="17.7" cy="24.0" r="2.1" fill="#7f99bd" fill-opacity="0.63"/>
<circle cx="21.6" cy="24.7" r="1.6" fill="#a4b8d2" fill-opacity="0.62"/>
<circle cx="25.8" cy="23.9" r="1.7" fill="#93abca" fill-opacity="0.65"/>
<circle cx="30.4" cy="24.0" r="1.6" fill="#7f99bd" fill-opacity="0.76"/>
<circle cx="38.0" cy="22.8" r="2.0" fill="#93abca" fill-opacity="0.91"/>
<circle cx="42.5" cy="23.6" r="1.8" fill="#a4b8d2" fill-opacity="0.86"/>
<circle cx="47.5" cy="23.1" r="1.6" fill="#a4b8d2" fill-opacity="0.66"/>
<circle cx="51.0" cy="24.1" r="2.2" fill="#a4b8d2" fill-opacity="0.78"/>
<circle cx="55.9" cy="23.9" r="2.1" fill="#86a0c2" fill-opacity="0.80"/>
<circle cx="61.1" cy="23.8" r="1.9" fill="#7f99bd" fill-opacity="0.80"/>
<circle cx="64.0" cy="23.1" r="1.7" fill="#8ea8c8" fill-opacity="0.61"/>
<circle cx="68.4" cy="23.8" r="2.1" fill="#93abca" fill-opacity="0.58"/>
<circle cx="73.8" cy="23.7" r="2.1" fill="#93abca" fill-opacity="0.62"/>
<circle cx="77.2" cy="23.3" r="2.0" fill="#8ea8c8" fill-opacity="0.60"/>
<circle cx="81.5" cy="24.0" r="1.6" fill="#9ab0cc" fill-opacity="0.68"/>
<circle cx="85.4" cy="23.8" r="1.6" fill="#86a0c2" fill-opacity="0.91"/>
<circle cx="95.2" cy="23.4" r="1.8" fill="#a4b8d2" fill-opacity="0.73"/>
<circle cx="103.0" cy="24.2" r="2.2" fill="#93abca" fill-opacity="0.76"/>
<circle cx="2.2" cy="26.9" r="2.1" fill="#9ab0cc" fill-opacity="0.70"/>
<circle cx="7.1" cy="28.2" r="2.1" fill="#86a0c2" fill-opacity="0.70"/>
<circle cx="9.9" cy="28.3" r="2.0" fill="#7f99bd" fill-opacity="0.64"/>
<circle cx="15.2" cy="27.8" r="1.7" fill="#a4b8d2" fill-opacity="0.84"/>
<circle cx="19.0" cy="28.6" r="2.1" fill="#8ea8c8" fill-opacity="0.67"/>
<circle cx="23.2" cy="28.3" r="2.0" fill="#86a0c2" fill-opacity="0.91"/>
<circle cx="32.6" cy="28.5" r="2.2" fill="#9ab0cc" fill-opacity="0.67"/>
<circle cx="36.4" cy="27.5" r="1.9" fill="#86a0c2" fill-opacity="0.84"/>
<circle cx="40.9" cy="28.6" r="1.6" fill="#a4b8d2" fill-opacity="0.70"/>
<circle cx="46.0" cy="27.5" r="1.6" fill="#93abca" fill-opacity="0.83"/>
<circle cx="50.1" cy="27.5" r="2.2" fill="#9ab0cc" fill-opacity="0.62"/>
<circle cx="53.2" cy="28.3" r="1.5" fill="#a4b8d2" fill-opacity="0.82"/>
<circle cx="62.5" cy="28.2" r="1.9" fill="#9ab0cc" fill-opacity="0.65"/>
<circle cx="70.5" cy="28.7" r="2.1" fill="#a4b8d2" fill-opacity="0.83"/>
<circle cx="76.1" cy="28.3" r="1.8" fill="#86a0c2" fill-opacity="0.69"/>
<circle cx="79.9" cy="26.7" r="1.9" fill="#8ea8c8" fill-opacity="0.56"/>
<circle cx="84.8" cy="27.5" r="2.2" fill="#9ab0cc" fill-opacity="0.81"/>
<circle cx="88.3" cy="27.2" r="1.9" fill="#86a0c2" fill-opacity="0.65"/>
<circle cx="91.8" cy="26.8" r="2.2" fill="#8ea8c8" fill-opacity="0.76"/>
<circle cx="96.8" cy="27.0" r="1.9" fill="#8ea8c8" fill-opacity="0.84"/>
<circle cx="100.6" cy="28.1" r="2.0" fill="#93abca" fill-opacity="0.68"/>
<circle cx="105.9" cy="27.2" r="1.8" fill="#a4b8d2" fill-opacity="0.82"/>
<circle cx="0.1" cy="31.3" r="1.5" fill="#9ab0cc" fill-opacity="0.81"/>
<circle cx="4.1" cy="31.8" r="1.5" fill="#86a0c2" fill-opacity="0.73"/>
<circle cx="9.4" cy="30.9" r="1.7" fill="#86a0c2" fill-opacity="0.60"/>
<circle cx="13.1" cy="31.6" r="1.9" fill="#8ea8c8" fill-opacity="0.62"/>
<circle cx="17.2" cy="30.7" r="1.6" fill="#a4b8d2" fill-opacity="0.68"/>
<circle cx="22.4" cy="31.2" r="1.8" fill="#8ea8c8" fill-opacity="0.87"/>
<circle cx="26.5" cy="32.4" r="2.1" fill="#86a0c2" fill-opacity="0.87"/>
<circle cx="30.2" cy="31.9" r="1.9" fill="#9ab0cc" fill-opacity="0.63"/>
<circle cx="34.1" cy="31.8" r="2.0" fill="#86a0c2" fill-opacity="0.76"/>
<circle cx="38.0" cy="32.0" r="1.8" fill="#93abca" fill-opacity="0.61"/>
<circle cx="42.9" cy="32.0" r="1.7" fill="#93abca" fill-opacity="0.87"/>
<circle cx="46.4" cy="31.6" r="2.2" fill="#93abca" fill-opacity="0.71"/>
<circle cx="52.5" cy="31.2" r="1.5" fill="#8ea8c8" fill-opacity="0.66"/>
<circle cx="55.3" cy="31.3" r="1.8" fill="#a4b8d2" fill-opacity="0.68"/>
<circle cx="60.6" cy="31.5" r="2.0" fill="#9ab0cc" fill-opacity="0.63"/>
<circle cx="63.9" cy="31.9" r="1.7" fill="#93abca" fill-opacity="0.73"/>
<circle cx="68.6" cy="30.8" r="2.1" fill="#9ab0cc" fill-opacity="0.83"/>
<circle cx="73.2" cy="32.6" r="1.8" fill="#7f99bd" fill-opacity="0.58"/>
<circle cx="77.5" cy="32.3" r="1.9" fill="#7f99bd" fill-opacity="0.69"/>
<circle cx="82.3" cy="31.8" r="1.5" fill="#a4b8d2" fill-opacity="0.83"/>
<circle cx="85.9" cy="32.2" r="2.1" fill="#a4b8d2" fill-opacity="0.82"/>
<circle cx="95.0" cy="32.5" r="1.6" fill="#93abca" fill-opacity="0.80"/>
<circle cx="98.3" cy="31.5" r="1.9" fill="#a4b8d2" fill-opacity="0.73"/>
<circle cx="102.5" cy="32.0" r="2.1" fill="#8ea8c8" fill-opacity="0.60"/>
<circle cx="1.2" cy="34.7" r="2.0" fill="#a4b8d2" fill-opacity="0.68"/>
<circle cx="6.1" cy="35.9" r="1.9" fill="#93abca" fill-opacity="0.59"/>
<circle cx="10.5" cy="35.4" r="2.0" fill="#7f99bd" fill-opacity="0.83"/>
<circle cx="14.9" cy="36.5" r="1.5" fill="#8ea8c8" fill-opacity="0.91"/>
<circle cx="20.1" cy="35.9" r="1.8" fill="#86a0c2" fill-opacity="0.66"/>
<circle cx="23.7" cy="35.4" r="1.9" fill="#86a0c2" fill-opacity="0.77"/>
<circle cx="31.8" cy="35.5" r="1.6" fill="#7f99bd" fill-opacity="0.55"/>
<circle cx="36.2" cy="36.5" r="1.5" fill="#a4b8d2" fill-opacity="0.81"/>
<circle cx="40.5" cy="34.9" r="1.8" fill="#8ea8c8" fill-opacity="0.68"/>
<circle cx="45.6" cy="34.9" r="2.1" fill="#93abca" fill-opacity="0.85"/>
<circle cx="49.0" cy="35.7" r="1.6" fill="#86a0c2" fill-opacity="0.91"/>
<circle cx="53.6" cy="35.2" r="1.8" fill="#7f99bd" fill-opacity="0.88"/>
<circle cx="57.5" cy="35.1" r="1.9" fill="#7f99bd" fill-opacity="0.62"/>
<circle cx="63.0" cy="35.0" r="2.1" fill="#8ea8c8" fill-opacity="0.71"/>
<circle cx="67.0" cy="35.2" r="1.9" fill="#8ea8c8" fill-opacity="0.69"/>
<circle cx="70.8" cy="34.9" r="1.9" fill="#8ea8c8" fill-opacity="0.58"/>
<circle cx="75.2" cy="36.0" r="1.6" fill="#93abca" fill-opacity="0.90"/>
<circle cx="79.2" cy="34.8" r="1.6" fill="#a4b8d2" fill-opacity="0.79"/>
<circle cx="88.4" cy="35.8" r="2.2" fill="#9ab0cc" fill-opacity="0.83"/>
<circle cx="92.1" cy="35.6" r="1.9" fill="#86a0c2" fill-opacity="0.86"/>
<circle cx="97.7" cy="36.2" r="1.5" fill="#a4b8d2" fill-opacity="0.78"/>
<circle cx="101.9" cy="36.4" r="2.2" fill="#8ea8c8" fill-opacity="0.71"/>
<circle cx="106.2" cy="35.6" r="2.1" fill="#8ea8c8" fill-opacity="0.71"/>
<circle cx="-0.6" cy="40.4" r="2.1" fill="#8ea8c8" fill-opacity="0.61"/>
<circle cx="4.9" cy="38.9" r="1.8" fill="#93abca" fill-opacity="0.73"/>
<circle cx="13.6" cy="39.4" r="2.1" fill="#9ab0cc" fill-opacity="0.59"/>
<circle cx="17.1" cy="40.4" r="1.9" fill="#93abca" fill-opacity="0.80"/>
<circle cx="20.7" cy="38.6" r="1.5" fill="#a4b8d2" fill-opacity="0.55"/>
<circle cx="25.1" cy="39.9" r="2.2" fill="#7f99bd" fill-opacity="0.81"/>
<circle cx="30.3" cy="40.0" r="2.1" fill="#a4b8d2" fill-opacity="0.64"/>
<circle cx="34.0" cy="39.9" r="2.0" fill="#86a0c2" fill-opacity="0.69"/>
<circle cx="39.1" cy="40.3" r="1.8" fill="#7f99bd" fill-opacity="0.59"/>
<circle cx="42.2" cy="39.2" r="1.5" fill="#93abca" fill-opacity="0.72"/>
<circle cx="47.1" cy="38.7" r="1.7" fill="#86a0c2" fill-opacity="0.60"/>
<circle cx="50.7" cy="40.0" r="1.8" fill="#93abca" fill-opacity="0.90"/>
<circle cx="55.7" cy="39.4" r="2.1" fill="#a4b8d2" fill-opacity="0.89"/>
<circle cx="60.9" cy="39.8" r="1.9" fill="#93abca" fill-opacity="0.90"/>
<circle cx="64.7" cy="39.6" r="1.7" fill="#a4b8d2" fill-opacity="0.58"/>
<circle cx="68.6" cy="40.0" r="1.8" fill="#8ea8c8" fill-opacity="0.67"/>
<circle cx="73.7" cy="40.1" r="1.6" fill="#86a0c2" fill-opacity="0.72"/>
<circle cx="76.9" cy="39.6" r="2.2" fill="#86a0c2" fill-opacity="0.59"/>
<circle cx="82.6" cy="38.7" r="1.9" fill="#86a0c2" fill-opacity="0.91"/>
<circle cx="90.9" cy="38.8" r="1.9" fill="#8ea8c8" fill-opacity="0.89"/>
<circle cx="95.3" cy="39.2" r="2.0" fill="#9ab0cc" fill-opacity="0.63"/>
<circle cx="97.9" cy="40.2" r="1.7" fill="#a4b8d2" fill-opacity="0.77"/>
<circle cx="102.6" cy="40.3" r="2.1" fill="#93abca" fill-opacity="0.77"/>
<circle cx="2.9" cy="43.8" r="1.7" fill="#93abca" fill-opacity="0.73"/>
<circle cx="6.6" cy="43.5" r="1.5" fill="#8ea8c8" fill-opacity="0.63"/>
<circle cx="9.9" cy="43.2" r="1.6" fill="#7f99bd" fill-opacity="0.74"/>
<circle cx="14.2" cy="43.6" r="1.8" fill="#8ea8c8" fill-opacity="0.79"/>
<circle cx="19.1" cy="44.1" r="1.9" fill="#8ea8c8" fill-opacity="0.58"/>
<circle cx="22.7" cy="44.3" r="1.6" fill="#a4b8d2" fill-opacity="0.72"/>
<circle cx="28.6" cy="44.2" r="1.8" fill="#9ab0cc" fill-opacity="0.57"/>
<circle cx="32.3" cy="42.7" r="2.2" fill="#9ab0cc" fill-opacity="0.86"/>
<circle cx="36.2" cy="42.7" r="2.1" fill="#86a0c2" fill-opacity="0.86"/>
<circle cx="45.4" cy="43.2" r="1.6" fill="#7f99bd" fill-opacity="0.81"/>
<circle cx="48.6" cy="43.4" r="2.2" fill="#8ea8c8" fill-opacity="0.76"/>
<circle cx="53.1" cy="43.3" r="2.0" fill="#9ab0cc" fill-opacity="0.79"/>
<circle cx="58.0" cy="42.6" r="1.9" fill="#86a0c2" fill-opacity="0.66"/>
<circle cx="62.3" cy="43.0" r="2.0" fill="#8ea8c8" fill-opacity="0.62"/>
<circle cx="67.2" cy="43.6" r="1.6" fill="#93abca" fill-opacity="0.85"/>
<circle cx="71.7" cy="43.1" r="2.1" fill="#86a0c2" fill-opacity="0.74"/>
<circle cx="79.1" cy="43.6" r="2.1" fill="#9ab0cc" fill-opacity="0.83"/>
<circle cx="82.9" cy="42.9" r="1.9" fill="#8ea8c8" fill-opacity="0.83"/>
<circle cx="88.2" cy="43.4" r="2.1" fill="#a4b8d2" fill-opacity="0.60"/>
<circle cx="93.4" cy="43.8" r="1.8" fill="#86a0c2" fill-opacity="0.91"/>
<circle cx="96.2" cy="42.7" r="1.9" fill="#8ea8c8" fill-opacity="0.82"/>
<circle cx="101.8" cy="43.9" r="2.0" fill="#9ab0cc" fill-opacity="0.91"/>
<circle cx="104.5" cy="42.8" r="2.2" fill="#8ea8c8" fill-opacity="0.91"/>
<circle cx="-0.4" cy="47.6" r="2.1" fill="#a4b8d2" fill-opacity="0.76"/>
<circle cx="5.0" cy="46.8" r="2.1" fill="#86a0c2" fill-opacity="0.69"/>
<circle cx="9.0" cy="46.7" r="2.2" fill="#9ab0cc" fill-opacity="0.87"/>
<circle cx="12.4" cy="46.9" r="1.9" fill="#a4b8d2" fill-opacity="0.82"/>
<circle cx="17.6" cy="47.9" r="2.2" fill="#8ea8c8" fill-opacity="0.67"/>
<circle cx="20.9" cy="48.3" r="1.8" fill="#8ea8c8" fill-opacity="0.84"/>
<circle cx="25.6" cy="46.7" r="1.8" fill="#8ea8c8" fill-opacity="0.68"/>
<circle cx="29.8" cy="47.4" r="2.0" fill="#93abca" fill-opacity="0.71"/>
<circle cx="33.7" cy="47.5" r="2.1" fill="#8ea8c8" fill-opacity="0.58"/>
<circle cx="39.3" cy="48.3" r="2.0" fill="#8ea8c8" fill-opacity="0.80"/>
<circle cx="42.4" cy="47.3" r="2.0" fill="#86a0c2" fill-opacity="0.77"/>
<circle cx="46.4" cy="48.4" r="2.1" fill="#9ab0cc" fill-opacity="0.61"/>
<circle cx="51.4" cy="47.3" r="2.1" fill="#9ab0cc" fill-opacity="0.56"/>
<circle cx="55.4" cy="47.7" r="2.0" fill="#a4b8d2" fill-opacity="0.90"/>
<circle cx="60.4" cy="46.9" r="2.0" fill="#a4b8d2" fill-opacity="0.83"/>
<circle cx="64.4" cy="48.3" r="1.6" fill="#93abca" fill-opacity="0.89"/>
<circle cx="69.3" cy="47.3" r="1.6" fill="#86a0c2" fill-opacity="0.75"/>
<circle cx="73.8" cy="47.9" r="1.6" fill="#9ab0cc" fill-opacity="0.91"/>
<circle cx="76.9" cy="48.3" r="1.9" fill="#7f99bd" fill-opacity="0.62"/>
<circle cx="82.4" cy="47.6" r="2.2" fill="#93abca" fill-opacity="0.79"/>
<circle cx="86.5" cy="48.0" r="1.9" fill="#7f99bd" fill-opacity="0.90"/>
<circle cx="90.2" cy="46.6" r="1.6" fill="#86a0c2" fill-opacity="0.58"/>
<circle cx="95.0" cy="48.2" r="2.0" fill="#93abca" fill-opacity="0.75"/>
<circle cx="98.6" cy="47.0" r="2.0" fill="#a4b8d2" fill-opacity="0.74"/>
<circle cx="102.6" cy="46.6" r="1.8" fill="#93abca" fill-opacity="0.72"/>
<circle cx="2.6" cy="52.0" r="2.1" fill="#93abca" fill-opacity="0.67"/>
<circle cx="14.4" cy="51.2" r="2.1" fill="#7f99bd" fill-opacity="0.61"/>
<circle cx="20.3" cy="51.8" r="1.6" fill="#a4b8d2" fill-opacity="0.67"/>
<circle cx="28.0" cy="51.6" r="1.9" fill="#8ea8c8" fill-opacity="0.61"/>
<circle cx="32.9" cy="51.1" r="1.6" fill="#9ab0cc" fill-opacity="0.67"/>
<circle cx="35.7" cy="51.1" r="2.2" fill="#9ab0cc" fill-opacity="0.73"/>
<circle cx="40.1" cy="51.5" r="1.7" fill="#9ab0cc" fill-opacity="0.59"/>
<circle cx="45.2" cy="50.7" r="1.7" fill="#86a0c2" fill-opacity="0.57"/>
<circle cx="49.0" cy="50.9" r="1.9" fill="#9ab0cc" fill-opacity="0.90"/>
<circle cx="53.8" cy="50.9" r="2.0" fill="#8ea8c8" fill-opacity="0.59"/>
<circle cx="57.4" cy="51.0" r="1.8" fill="#8ea8c8" fill-opacity="0.64"/>
<circle cx="61.6" cy="50.9" r="1.6" fill="#9ab0cc" fill-opacity="0.76"/>
<circle cx="67.5" cy="51.5" r="1.8" fill="#93abca" fill-opacity="0.76"/>
<circle cx="71.5" cy="52.1" r="1.7" fill="#7f99bd" fill-opacity="0.70"/>
<circle cx="74.4" cy="50.5" r="1.9" fill="#9ab0cc" fill-opacity="0.77"/>
<circle cx="79.8" cy="51.0" r="1.7" fill="#7f99bd" fill-opacity="0.61"/>
<circle cx="83.6" cy="52.1" r="1.8" fill="#a4b8d2" fill-opacity="0.81"/>
<circle cx="87.4" cy="51.8" r="1.6" fill="#93abca" fill-opacity="0.87"/>
<circle cx="93.4" cy="51.9" r="1.7" fill="#93abca" fill-opacity="0.74"/>
<circle cx="95.9" cy="51.2" r="2.0" fill="#93abca" fill-opacity="0.67"/>
<circle cx="101.8" cy="50.6" r="1.7" fill="#86a0c2" fill-opacity="0.58"/>
<circle cx="104.8" cy="51.5" r="1.5" fill="#93abca" fill-opacity="0.91"/>
<circle cx="4.5" cy="54.8" r="2.1" fill="#7f99bd" fill-opacity="0.65"/>
<circle cx="12.5" cy="54.8" r="1.6" fill="#7f99bd" fill-opacity="0.88"/>
<circle cx="17.3" cy="55.1" r="1.7" fill="#a4b8d2" fill-opacity="0.86"/>
<circle cx="21.1" cy="55.8" r="1.8" fill="#86a0c2" fill-opacity="0.91"/>
<circle cx="26.6" cy="55.1" r="2.0" fill="#9ab0cc" fill-opacity="0.80"/>
<circle cx="30.3" cy="55.2" r="1.9" fill="#7f99bd" fill-opacity="0.81"/>
<circle cx="35.4" cy="56.0" r="1.8" fill="#8ea8c8" fill-opacity="0.84"/>
<circle cx="39.6" cy="54.6" r="2.1" fill="#8ea8c8" fill-opacity="0.91"/>
<circle cx="43.0" cy="54.5" r="1.7" fill="#a4b8d2" fill-opacity="0.91"/>
<circle cx="48.0" cy="54.7" r="1.7" fill="#8ea8c8" fill-opacity="0.88"/>
<circle cx="51.8" cy="54.5" r="2.0" fill="#9ab0cc" fill-opacity="0.78"/>
<circle cx="55.8" cy="54.6" r="1.6" fill="#8ea8c8" fill-opacity="0.65"/>
<circle cx="59.3" cy="55.2" r="2.2" fill="#9ab0cc" fill-opacity="0.82"/>
<circle cx="65.0" cy="55.5" r="1.8" fill="#86a0c2" fill-opacity="0.79"/>
<circle cx="69.5" cy="54.5" r="1.7" fill="#9ab0cc" fill-opacity="0.89"/>
<circle cx="73.9" cy="56.4" r="1.6" fill="#8ea8c8" fill-opacity="0.59"/>
<circle cx="82.4" cy="56.0" r="2.1" fill="#8ea8c8" fill-opacity="0.64"/>
<circle cx="85.2" cy="54.6" r="1.5" fill="#93abca" fill-opacity="0.75"/>
<circle cx="94.2" cy="55.8" r="1.7" fill="#7f99bd" fill-opacity="0.83"/>
<circle cx="99.5" cy="55.6" r="1.9" fill="#9ab0cc" fill-opacity="0.77"/>
<circle cx="103.0" cy="55.4" r="2.0" fill="#86a0c2" fill-opacity="0.61"/>
<circle cx="2.3" cy="58.5" r="1.9" fill="#8ea8c8" fill-opacity="0.91"/>
<circle cx="7.1" cy="59.4" r="1.6" fill="#93abca" fill-opacity="0.87"/>
<circle cx="10.1" cy="58.5" r="1.8" fill="#86a0c2" fill-opacity="0.63"/>
<circle cx="15.1" cy="58.9" r="1.9" fill="#a4b8d2" fill-opacity="0.76"/>
<circle cx="20.0" cy="58.8" r="2.0" fill="#86a0c2" fill-opacity="0.90"/>
<circle cx="24.1" cy="59.4" r="1.9" fill="#93abca" fill-opacity="0.78"/>
<circle cx="28.7" cy="58.5" r="1.9" fill="#93abca" fill-opacity="0.68"/>
<circle cx="33.0" cy="58.8" r="1.7" fill="#8ea8c8" fill-opacity="0.59"/>
<circle cx="37.2" cy="58.6" r="2.0" fill="#86a0c2" fill-opacity="0.83"/>
<circle cx="40.0" cy="58.9" r="2.0" fill="#9ab0cc" fill-opacity="0.70"/>
<circle cx="45.8" cy="58.6" r="1.5" fill="#a4b8d2" fill-opacity="0.73"/>
<circle cx="50.3" cy="58.7" r="1.8" fill="#a4b8d2" fill-opacity="0.62"/>
<circle cx="58.7" cy="59.8" r="1.8" fill="#93abca" fill-opacity="0.75"/>
<circle cx="61.4" cy="59.1" r="1.7" fill="#a4b8d2" fill-opacity="0.91"/>
<circle cx="66.9" cy="59.8" r="2.1" fill="#a4b8d2" fill-opacity="0.85"/>
<circle cx="75.8" cy="60.3" r="1.8" fill="#a4b8d2" fill-opacity="0.60"/>
<circle cx="79.8" cy="60.0" r="1.5" fill="#86a0c2" fill-opacity="0.90"/>
<circle cx="83.4" cy="60.3" r="1.7" fill="#7f99bd" fill-opacity="0.70"/>
<circle cx="87.5" cy="58.4" r="2.1" fill="#7f99bd" fill-opacity="0.85"/>
<circle cx="93.3" cy="60.2" r="1.7" fill="#a4b8d2" fill-opacity="0.81"/>
<circle cx="96.7" cy="60.2" r="1.9" fill="#7f99bd" fill-opacity="0.59"/>
<circle cx="100.3" cy="59.8" r="1.8" fill="#7f99bd" fill-opacity="0.75"/>
<circle cx="106.2" cy="60.2" r="1.6" fill="#9ab0cc" fill-opacity="0.56"/>
<circle cx="0.0" cy="63.6" r="1.9" fill="#a4b8d2" fill-opacity="0.91"/>
<circle cx="4.5" cy="64.2" r="1.8" fill="#93abca" fill-opacity="0.65"/>
<circle cx="8.6" cy="63.3" r="1.5" fill="#93abca" fill-opacity="0.91"/>
<circle cx="13.1" cy="62.5" r="2.1" fill="#8ea8c8" fill-opacity="0.58"/>
<circle cx="17.3" cy="63.5" r="1.9" fill="#7f99bd" fill-opacity="0.80"/>
<circle cx="20.9" cy="63.9" r="1.7" fill="#9ab0cc" fill-opacity="0.84"/>
<circle cx="29.8" cy="63.9" r="2.1" fill="#93abca" fill-opacity="0.89"/>
<circle cx="35.0" cy="63.3" r="2.0" fill="#a4b8d2" fill-opacity="0.57"/>
<circle cx="38.3" cy="62.6" r="1.6" fill="#7f99bd" fill-opacity="0.59"/>
<circle cx="43.4" cy="63.8" r="2.1" fill="#7f99bd" fill-opacity="0.59"/>
<circle cx="48.1" cy="62.6" r="1.9" fill="#93abca" fill-opacity="0.63"/>
<circle cx="52.3" cy="62.6" r="2.1" fill="#86a0c2" fill-opacity="0.88"/>
<circle cx="56.8" cy="62.5" r="1.8" fill="#8ea8c8" fill-opacity="0.66"/>
<circle cx="59.8" cy="63.0" r="1.8" fill="#93abca" fill-opacity="0.65"/>
<circle cx="64.8" cy="62.4" r="1.7" fill="#9ab0cc" fill-opacity="0.89"/>
<circle cx="69.4" cy="64.1" r="2.2" fill="#7f99bd" fill-opacity="0.83"/>
<circle cx="74.0" cy="62.4" r="1.7" fill="#93abca" fill-opacity="0.59"/>
<circle cx="77.3" cy="63.9" r="1.6" fill="#86a0c2" fill-opacity="0.73"/>
<circle cx="82.0" cy="64.2" r="1.6" fill="#86a0c2" fill-opacity="0.71"/>
<circle cx="86.8" cy="63.8" r="2.0" fill="#86a0c2" fill-opacity="0.79"/>
<circle cx="90.5" cy="64.2" r="2.1" fill="#9ab0cc" fill-opacity="0.79"/>
<circle cx="94.3" cy="63.1" r="1.7" fill="#7f99bd" fill-opacity="0.89"/>
<circle cx="98.9" cy="63.5" r="2.0" fill="#7f99bd" fill-opacity="0.62"/>
<circle cx="103.9" cy="62.5" r="1.8" fill="#7f99bd" fill-opacity="0.70"/>
<circle cx="2.7" cy="67.6" r="1.8" fill="#8ea8c8" fill-opacity="0.86"/>
<circle cx="7.4" cy="67.3" r="1.7" fill="#86a0c2" fill-opacity="0.86"/>
<circle cx="10.4" cy="68.1" r="2.0" fill="#86a0c2" fill-opacity="0.84"/>
<circle cx="15.5" cy="68.0" r="1.9" fill="#8ea8c8" fill-opacity="0.77"/>
<circle cx="24.1" cy="67.8" r="2.2" fill="#93abca" fill-opacity="0.75"/>
<circle cx="28.1" cy="67.7" r="2.0" fill="#86a0c2" fill-opacity="0.80"/>
<circle cx="31.3" cy="67.8" r="1.9" fill="#86a0c2" fill-opacity="0.69"/>
<circle cx="35.6" cy="67.7" r="2.0" fill="#9ab0cc" fill-opacity="0.73"/>
<circle cx="40.7" cy="66.3" r="1.6" fill="#7f99bd" fill-opacity="0.66"/>
<circle cx="44.3" cy="67.6" r="1.9" fill="#7f99bd" fill-opacity="0.61"/>
<circle cx="49.7" cy="66.9" r="1.9" fill="#86a0c2" fill-opacity="0.86"/>
<circle cx="53.5" cy="67.7" r="1.8" fill="#9ab0cc" fill-opacity="0.81"/>
<circle cx="59.0" cy="66.6" r="1.9" fill="#7f99bd" fill-opacity="0.80"/>
<circle cx="61.9" cy="66.7" r="1.8" fill="#7f99bd" fill-opacity="0.87"/>
<circle cx="71.8" cy="67.6" r="1.6" fill="#8ea8c8" fill-opacity="0.70"/>
<circle cx="75.5" cy="67.2" r="2.0" fill="#86a0c2" fill-opacity="0.58"/>
<circle cx="79.4" cy="67.3" r="1.5" fill="#86a0c2" fill-opacity="0.88"/>
<circle cx="84.8" cy="68.2" r="1.8" fill="#9ab0cc" fill-opacity="0.87"/>
<circle cx="87.3" cy="67.9" r="1.9" fill="#9ab0cc" fill-opacity="0.77"/>
<circle cx="93.4" cy="67.1" r="2.2" fill="#9ab0cc" fill-opacity="0.69"/>
<circle cx="97.5" cy="68.0" r="2.2" fill="#a4b8d2" fill-opacity="0.72"/>
<circle cx="101.8" cy="67.3" r="2.0" fill="#9ab0cc" fill-opacity="0.64"/>
<circle cx="104.9" cy="67.8" r="1.7" fill="#a4b8d2" fill-opacity="0.57"/>
</g></svg>
<rect x="337.6" y="288.0" width="99.4" height="71.2" filter="url(#tt2)"/>
<svg x="337.6" y="288.0" width="99.4" height="71.2" viewBox="0 0 99.4 71.2" overflow="hidden"><g filter="url(#soft2)">
<circle cx="-0.7" cy="-1.0" r="2.2" fill="#8ea8c8" fill-opacity="0.81"/>
<circle cx="5.1" cy="0.6" r="1.6" fill="#7f99bd" fill-opacity="0.91"/>
<circle cx="8.8" cy="0.9" r="2.0" fill="#9ab0cc" fill-opacity="0.81"/>
<circle cx="17.4" cy="-0.4" r="1.6" fill="#86a0c2" fill-opacity="0.77"/>
<circle cx="22.0" cy="0.9" r="1.9" fill="#a4b8d2" fill-opacity="0.67"/>
<circle cx="25.2" cy="-0.2" r="2.1" fill="#a4b8d2" fill-opacity="0.74"/>
<circle cx="29.6" cy="0.4" r="1.8" fill="#7f99bd" fill-opacity="0.75"/>
<circle cx="38.7" cy="0.0" r="1.8" fill="#a4b8d2" fill-opacity="0.89"/>
<circle cx="43.1" cy="-0.2" r="1.5" fill="#93abca" fill-opacity="0.77"/>
<circle cx="47.2" cy="0.3" r="1.9" fill="#86a0c2" fill-opacity="0.58"/>
<circle cx="50.8" cy="0.6" r="1.5" fill="#8ea8c8" fill-opacity="0.74"/>
<circle cx="55.1" cy="0.8" r="1.6" fill="#93abca" fill-opacity="0.69"/>
<circle cx="61.0" cy="0.3" r="1.8" fill="#86a0c2" fill-opacity="0.75"/>
<circle cx="64.8" cy="-0.6" r="2.0" fill="#86a0c2" fill-opacity="0.62"/>
<circle cx="68.1" cy="0.2" r="1.5" fill="#86a0c2" fill-opacity="0.73"/>
<circle cx="73.3" cy="1.0" r="2.0" fill="#9ab0cc" fill-opacity="0.73"/>
<circle cx="82.6" cy="-0.8" r="2.1" fill="#7f99bd" fill-opacity="0.90"/>
<circle cx="90.6" cy="-0.3" r="1.6" fill="#a4b8d2" fill-opacity="0.77"/>
<circle cx="94.0" cy="-0.8" r="1.6" fill="#a4b8d2" fill-opacity="0.59"/>
<circle cx="98.4" cy="0.7" r="1.6" fill="#7f99bd" fill-opacity="0.83"/>
<circle cx="103.4" cy="-0.2" r="1.6" fill="#93abca" fill-opacity="0.86"/>
<circle cx="7.1" cy="3.0" r="1.6" fill="#9ab0cc" fill-opacity="0.78"/>
<circle cx="14.9" cy="3.5" r="2.1" fill="#86a0c2" fill-opacity="0.65"/>
<circle cx="23.0" cy="4.7" r="2.0" fill="#86a0c2" fill-opacity="0.56"/>
<circle cx="27.5" cy="4.7" r="2.0" fill="#7f99bd" fill-opacity="0.83"/>
<circle cx="37.5" cy="4.6" r="1.7" fill="#93abca" fill-opacity="0.71"/>
<circle cx="40.4" cy="4.9" r="2.0" fill="#a4b8d2" fill-opacity="0.69"/>
<circle cx="44.5" cy="4.6" r="2.1" fill="#93abca" fill-opacity="0.79"/>
<circle cx="50.1" cy="3.5" r="1.7" fill="#93abca" fill-opacity="0.61"/>
<circle cx="53.8" cy="4.3" r="2.1" fill="#93abca" fill-opacity="0.62"/>
<circle cx="58.8" cy="4.5" r="1.8" fill="#a4b8d2" fill-opacity="0.74"/>
<circle cx="61.5" cy="4.8" r="1.7" fill="#86a0c2" fill-opacity="0.74"/>
<circle cx="66.0" cy="4.1" r="2.1" fill="#93abca" fill-opacity="0.55"/>
<circle cx="71.5" cy="3.2" r="1.9" fill="#86a0c2" fill-opacity="0.85"/>
<circle cx="74.4" cy="3.1" r="1.6" fill="#93abca" fill-opacity="0.66"/>
<circle cx="80.4" cy="4.1" r="1.9" fill="#93abca" fill-opacity="0.67"/>
<circle cx="84.7" cy="4.4" r="2.1" fill="#93abca" fill-opacity="0.79"/>
<circle cx="87.7" cy="3.4" r="1.5" fill="#7f99bd" fill-opacity="0.66"/>
<circle cx="96.0" cy="3.8" r="1.7" fill="#8ea8c8" fill-opacity="0.61"/>
<circle cx="100.8" cy="3.2" r="1.8" fill="#8ea8c8" fill-opacity="0.75"/>
<circle cx="106.3" cy="3.7" r="1.5" fill="#7f99bd" fill-opacity="0.74"/>
<circle cx="-0.7" cy="7.4" r="1.7" fill="#8ea8c8" fill-opacity="0.71"/>
<circle cx="3.8" cy="7.2" r="1.9" fill="#7f99bd" fill-opacity="0.85"/>
<circle cx="7.7" cy="7.6" r="1.8" fill="#a4b8d2" fill-opacity="0.77"/>
<circle cx="13.2" cy="7.0" r="2.0" fill="#a4b8d2" fill-opacity="0.71"/>
<circle cx="17.6" cy="8.8" r="1.6" fill="#9ab0cc" fill-opacity="0.83"/>
<circle cx="26.4" cy="7.4" r="1.6" fill="#8ea8c8" fill-opacity="0.77"/>
<circle cx="29.6" cy="8.3" r="2.2" fill="#7f99bd" fill-opacity="0.82"/>
<circle cx="34.8" cy="8.5" r="2.0" fill="#9ab0cc" fill-opacity="0.76"/>
<circle cx="38.2" cy="8.6" r="2.0" fill="#8ea8c8" fill-opacity="0.79"/>
<circle cx="42.6" cy="7.0" r="2.1" fill="#93abca" fill-opacity="0.75"/>
<circle cx="47.9" cy="7.7" r="2.2" fill="#93abca" fill-opacity="0.83"/>
<circle cx="51.3" cy="8.8" r="1.6" fill="#93abca" fill-opacity="0.77"/>
<circle cx="56.5" cy="7.2" r="2.0" fill="#a4b8d2" fill-opacity="0.89"/>
<circle cx="59.4" cy="7.9" r="2.0" fill="#86a0c2" fill-opacity="0.55"/>
<circle cx="65.1" cy="7.2" r="2.2" fill="#93abca" fill-opacity="0.77"/>
<circle cx="68.3" cy="7.2" r="1.6" fill="#a4b8d2" fill-opacity="0.58"/>
<circle cx="72.6" cy="7.8" r="1.8" fill="#a4b8d2" fill-opacity="0.84"/>
<circle cx="78.1" cy="8.4" r="1.9" fill="#93abca" fill-opacity="0.60"/>
<circle cx="86.1" cy="8.8" r="1.9" fill="#7f99bd" fill-opacity="0.90"/>
<circle cx="89.5" cy="8.6" r="2.2" fill="#7f99bd" fill-opacity="0.57"/>
<circle cx="94.7" cy="7.2" r="2.1" fill="#9ab0cc" fill-opacity="0.74"/>
<circle cx="99.3" cy="8.0" r="1.6" fill="#86a0c2" fill-opacity="0.72"/>
<circle cx="102.3" cy="8.2" r="2.1" fill="#9ab0cc" fill-opacity="0.63"/>
<circle cx="7.3" cy="12.7" r="2.2" fill="#86a0c2" fill-opacity="0.57"/>
<circle cx="10.4" cy="12.5" r="1.8" fill="#8ea8c8" fill-opacity="0.57"/>
<circle cx="14.4" cy="11.7" r="2.0" fill="#9ab0cc" fill-opacity="0.78"/>
<circle cx="19.7" cy="12.3" r="1.8" fill="#86a0c2" fill-opacity="0.76"/>
<circle cx="22.9" cy="11.7" r="1.6" fill="#7f99bd" fill-opacity="0.83"/>
<circle cx="28.8" cy="12.5" r="2.1" fill="#9ab0cc" fill-opacity="0.74"/>
<circle cx="32.2" cy="10.9" r="1.6" fill="#7f99bd" fill-opacity="0.57"/>
<circle cx="40.9" cy="11.3" r="1.9" fill="#7f99bd" fill-opacity="0.91"/>
<circle cx="44.7" cy="12.7" r="2.0" fill="#93abca" fill-opacity="0.73"/>
<circle cx="50.0" cy="11.6" r="1.7" fill="#86a0c2" fill-opacity="0.84"/>
<circle cx="54.6" cy="12.2" r="1.7" fill="#7f99bd" fill-opacity="0.78"/>
<circle cx="58.4" cy="12.0" r="1.7" fill="#a4b8d2" fill-opacity="0.63"/>
<circle cx="61.9" cy="12.8" r="2.2" fill="#8ea8c8" fill-opacity="0.89"/>
<circle cx="67.3" cy="11.5" r="1.6" fill="#86a0c2" fill-opacity="0.83"/>
<circle cx="75.6" cy="12.4" r="1.8" fill="#9ab0cc" fill-opacity="0.70"/>
<circle cx="80.1" cy="12.4" r="1.6" fill="#7f99bd" fill-opacity="0.57"/>
<circle cx="83.0" cy="12.0" r="1.7" fill="#93abca" fill-opacity="0.74"/>
<circle cx="89.1" cy="11.4" r="1.7" fill="#a4b8d2" fill-opacity="0.57"/>
<circle cx="95.8" cy="12.8" r="1.9" fill="#9ab0cc" fill-opacity="0.59"/>
<circle cx="101.7" cy="11.1" r="1.6" fill="#9ab0cc" fill-opacity="0.78"/>
<circle cx="104.8" cy="12.1" r="1.6" fill="#7f99bd" fill-opacity="0.57"/>
<circle cx="0.6" cy="15.6" r="2.1" fill="#7f99bd" fill-opacity="0.82"/>
<circle cx="4.0" cy="16.6" r="1.8" fill="#86a0c2" fill-opacity="0.65"/>
<circle cx="8.2" cy="15.4" r="1.9" fill="#8ea8c8" fill-opacity="0.83"/>
<circle cx="12.9" cy="16.8" r="2.0" fill="#8ea8c8" fill-opacity="0.81"/>
<circle cx="17.8" cy="15.8" r="2.0" fill="#9ab0cc" fill-opacity="0.74"/>
<circle cx="20.7" cy="15.5" r="1.8" fill="#9ab0cc" fill-opacity="0.66"/>
<circle cx="25.1" cy="16.6" r="1.9" fill="#9ab0cc" fill-opacity="0.75"/>
<circle cx="30.3" cy="16.0" r="1.8" fill="#9ab0cc" fill-opacity="0.64"/>
<circle cx="34.4" cy="15.1" r="1.8" fill="#7f99bd" fill-opacity="0.81"/>
<circle cx="38.4" cy="14.9" r="2.0" fill="#a4b8d2" fill-opacity="0.87"/>
<circle cx="43.0" cy="16.7" r="2.0" fill="#86a0c2" fill-opacity="0.87"/>
<circle cx="47.2" cy="14.9" r="1.6" fill="#8ea8c8" fill-opacity="0.68"/>
<circle cx="55.6" cy="14.9" r="2.0" fill="#9ab0cc" fill-opacity="0.91"/>
<circle cx="60.2" cy="15.1" r="2.0" fill="#8ea8c8" fill-opacity="0.74"/>
<circle cx="63.7" cy="15.9" r="1.5" fill="#9ab0cc" fill-opacity="0.67"/>
<circle cx="69.3" cy="16.6" r="2.2" fill="#8ea8c8" fill-opacity="0.75"/>
<circle cx="73.1" cy="16.2" r="1.6" fill="#8ea8c8" fill-opacity="0.66"/>
<circle cx="77.3" cy="16.4" r="1.9" fill="#7f99bd" fill-opacity="0.69"/>
<circle cx="81.9" cy="16.2" r="1.7" fill="#8ea8c8" fill-opacity="0.57"/>
<circle cx="85.2" cy="15.1" r="2.1" fill="#93abca" fill-opacity="0.80"/>
<circle cx="90.1" cy="15.9" r="2.0" fill="#93abca" fill-opacity="0.74"/>
<circle cx="93.9" cy="16.7" r="1.9" fill="#8ea8c8" fill-opacity="0.66"/>
<circle cx="99.7" cy="14.9" r="1.9" fill="#93abca" fill-opacity="0.82"/>
<circle cx="102.7" cy="16.3" r="1.8" fill="#7f99bd" fill-opacity="0.71"/>
<circle cx="2.8" cy="19.9" r="1.8" fill="#93abca" fill-opacity="0.76"/>
<circle cx="11.3" cy="19.3" r="1.5" fill="#7f99bd" fill-opacity="0.70"/>
<circle cx="19.9" cy="19.8" r="2.0" fill="#a4b8d2" fill-opacity="0.85"/>
<circle cx="23.9" cy="19.4" r="1.9" fill="#a4b8d2" fill-opacity="0.80"/>
<circle cx="28.5" cy="20.2" r="2.1" fill="#93abca" fill-opacity="0.63"/>
<circle cx="31.3" cy="20.8" r="1.6" fill="#9ab0cc" fill-opacity="0.87"/>
<circle cx="37.3" cy="19.4" r="1.6" fill="#9ab0cc" fill-opacity="0.89"/>
<circle cx="40.9" cy="19.3" r="1.7" fill="#93abca" fill-opacity="0.85"/>
<circle cx="46.1" cy="19.1" r="1.8" fill="#86a0c2" fill-opacity="0.81"/>
<circle cx="48.9" cy="19.8" r="2.1" fill="#93abca" fill-opacity="0.56"/>
<circle cx="53.6" cy="20.4" r="1.6" fill="#86a0c2" fill-opacity="0.79"/>
<circle cx="58.1" cy="20.5" r="1.6" fill="#93abca" fill-opacity="0.71"/>
<circle cx="61.8" cy="19.5" r="1.5" fill="#a4b8d2" fill-opacity="0.74"/>
<circle cx="67.4" cy="19.7" r="2.1" fill="#7f99bd" fill-opacity="0.56"/>
<circle cx="71.5" cy="18.9" r="1.8" fill="#a4b8d2" fill-opacity="0.75"/>
<circle cx="79.3" cy="18.8" r="1.8" fill="#a4b8d2" fill-opacity="0.73"/>
<circle cx="83.4" cy="19.6" r="1.9" fill="#8ea8c8" fill-opacity="0.86"/>
<circle cx="88.2" cy="20.3" r="2.1" fill="#93abca" fill-opacity="0.67"/>
<circle cx="91.7" cy="20.1" r="1.8" fill="#86a0c2" fill-opacity="0.60"/>
<circle cx="96.5" cy="19.3" r="1.6" fill="#93abca" fill-opacity="0.90"/>
<circle cx="100.1" cy="20.6" r="1.6" fill="#93abca" fill-opacity="0.76"/>
<circle cx="104.9" cy="19.5" r="1.8" fill="#7f99bd" fill-opacity="0.80"/>
<circle cx="-0.9" cy="24.2" r="2.1" fill="#8ea8c8" fill-opacity="0.86"/>
<circle cx="5.0" cy="23.0" r="2.1" fill="#86a0c2" fill-opacity="0.66"/>
<circle cx="18.1" cy="22.9" r="1.7" fill="#9ab0cc" fill-opacity="0.76"/>
<circle cx="21.8" cy="24.6" r="2.2" fill="#93abca" fill-opacity="0.89"/>
<circle cx="25.1" cy="24.4" r="2.2" fill="#86a0c2" fill-opacity="0.83"/>
<circle cx="30.2" cy="22.8" r="2.0" fill="#9ab0cc" fill-opacity="0.67"/>
<circle cx="39.3" cy="24.1" r="1.8" fill="#93abca" fill-opacity="0.81"/>
<circle cx="43.7" cy="23.7" r="2.0" fill="#86a0c2" fill-opacity="0.92"/>
<circle cx="56.1" cy="23.4" r="2.1" fill="#a4b8d2" fill-opacity="0.57"/>
<circle cx="59.5" cy="24.4" r="1.7" fill="#7f99bd" fill-opacity="0.61"/>
<circle cx="65.5" cy="23.6" r="1.8" fill="#a4b8d2" fill-opacity="0.74"/>
<circle cx="68.5" cy="23.2" r="1.6" fill="#86a0c2" fill-opacity="0.57"/>
<circle cx="72.6" cy="22.8" r="1.5" fill="#93abca" fill-opacity="0.66"/>
<circle cx="86.6" cy="24.3" r="2.1" fill="#a4b8d2" fill-opacity="0.87"/>
<circle cx="89.3" cy="23.2" r="1.8" fill="#9ab0cc" fill-opacity="0.63"/>
<circle cx="102.3" cy="23.6" r="2.2" fill="#7f99bd" fill-opacity="0.90"/>
<circle cx="2.6" cy="28.1" r="1.6" fill="#86a0c2" fill-opacity="0.88"/>
<circle cx="6.0" cy="28.1" r="1.7" fill="#a4b8d2" fill-opacity="0.76"/>
<circle cx="11.4" cy="28.1" r="1.6" fill="#93abca" fill-opacity="0.56"/>
<circle cx="15.8" cy="27.0" r="2.0" fill="#86a0c2" fill-opacity="0.75"/>
<circle cx="19.4" cy="27.7" r="1.8" fill="#93abca" fill-opacity="0.66"/>
<circle cx="23.1" cy="27.1" r="1.9" fill="#8ea8c8" fill-opacity="0.73"/>
<circle cx="28.3" cy="28.2" r="1.6" fill="#86a0c2" fill-opacity="0.66"/>
<circle cx="31.3" cy="28.1" r="1.9" fill="#9ab0cc" fill-opacity="0.67"/>
<circle cx="37.5" cy="27.7" r="1.6" fill="#7f99bd" fill-opacity="0.56"/>
<circle cx="41.0" cy="27.2" r="1.8" fill="#9ab0cc" fill-opacity="0.69"/>
<circle cx="44.4" cy="27.5" r="1.7" fill="#93abca" fill-opacity="0.60"/>
<circle cx="49.7" cy="26.8" r="1.5" fill="#7f99bd" fill-opacity="0.69"/>
<circle cx="52.9" cy="28.1" r="1.6" fill="#9ab0cc" fill-opacity="0.88"/>
<circle cx="58.2" cy="28.3" r="2.1" fill="#8ea8c8" fill-opacity="0.68"/>
<circle cx="62.0" cy="28.4" r="1.8" fill="#86a0c2" fill-opacity="0.75"/>
<circle cx="66.6" cy="26.8" r="1.9" fill="#86a0c2" fill-opacity="0.59"/>
<circle cx="75.9" cy="27.6" r="1.6" fill="#a4b8d2" fill-opacity="0.89"/>
<circle cx="79.8" cy="28.0" r="1.6" fill="#7f99bd" fill-opacity="0.64"/>
<circle cx="84.2" cy="28.0" r="2.1" fill="#7f99bd" fill-opacity="0.82"/>
<circle cx="92.8" cy="28.3" r="1.7" fill="#86a0c2" fill-opacity="0.70"/>
<circle cx="96.6" cy="28.5" r="1.8" fill="#86a0c2" fill-opacity="0.90"/>
<circle cx="100.9" cy="27.5" r="2.0" fill="#8ea8c8" fill-opacity="0.78"/>
<circle cx="106.0" cy="27.5" r="1.6" fill="#a4b8d2" fill-opacity="0.65"/>
<circle cx="-0.5" cy="32.5" r="1.6" fill="#8ea8c8" fill-opacity="0.83"/>
<circle cx="4.9" cy="32.2" r="2.0" fill="#8ea8c8" fill-opacity="0.90"/>
<circle cx="7.9" cy="30.8" r="1.6" fill="#86a0c2" fill-opacity="0.79"/>
<circle cx="13.9" cy="30.7" r="1.9" fill="#93abca" fill-opacity="0.76"/>
<circle cx="16.8" cy="31.9" r="1.5" fill="#8ea8c8" fill-opacity="0.61"/>
<circle cx="21.2" cy="32.3" r="2.1" fill="#93abca" fill-opacity="0.71"/>
<circle cx="24.9" cy="32.6" r="2.0" fill="#7f99bd" fill-opacity="0.90"/>
<circle cx="29.3" cy="31.4" r="1.6" fill="#8ea8c8" fill-opacity="0.79"/>
<circle cx="33.6" cy="31.5" r="1.7" fill="#93abca" fill-opacity="0.72"/>
<circle cx="38.5" cy="31.2" r="1.7" fill="#8ea8c8" fill-opacity="0.57"/>
<circle cx="43.3" cy="31.7" r="1.8" fill="#8ea8c8" fill-opacity="0.79"/>
<circle cx="47.1" cy="32.4" r="1.9" fill="#8ea8c8" fill-opacity="0.70"/>
<circle cx="56.1" cy="32.3" r="1.7" fill="#a4b8d2" fill-opacity="0.92"/>
<circle cx="60.9" cy="32.4" r="1.6" fill="#93abca" fill-opacity="0.75"/>
<circle cx="63.7" cy="31.4" r="2.0" fill="#a4b8d2" fill-opacity="0.62"/>
<circle cx="72.2" cy="31.3" r="1.5" fill="#86a0c2" fill-opacity="0.87"/>
<circle cx="77.4" cy="32.1" r="2.0" fill="#86a0c2" fill-opacity="0.76"/>
<circle cx="81.5" cy="31.5" r="2.2" fill="#a4b8d2" fill-opacity="0.59"/>
<circle cx="86.4" cy="31.2" r="2.0" fill="#86a0c2" fill-opacity="0.88"/>
<circle cx="98.3" cy="31.1" r="1.8" fill="#93abca" fill-opacity="0.70"/>
<circle cx="102.8" cy="32.4" r="1.6" fill="#8ea8c8" fill-opacity="0.76"/>
<circle cx="2.9" cy="35.0" r="2.1" fill="#7f99bd" fill-opacity="0.91"/>
<circle cx="10.5" cy="35.3" r="2.0" fill="#86a0c2" fill-opacity="0.76"/>
<circle cx="14.8" cy="36.4" r="1.6" fill="#8ea8c8" fill-opacity="0.79"/>
<circle cx="20.1" cy="36.5" r="1.7" fill="#7f99bd" fill-opacity="0.64"/>
<circle cx="22.7" cy="35.2" r="1.8" fill="#a4b8d2" fill-opacity="0.60"/>
<circle cx="28.4" cy="35.0" r="1.7" fill="#86a0c2" fill-opacity="0.76"/>
<circle cx="33.2" cy="35.9" r="2.0" fill="#93abca" fill-opacity="0.81"/>
<circle cx="37.2" cy="34.6" r="2.2" fill="#9ab0cc" fill-opacity="0.83"/>
<circle cx="41.4" cy="34.8" r="1.9" fill="#9ab0cc" fill-opacity="0.84"/>
<circle cx="54.0" cy="36.0" r="1.5" fill="#a4b8d2" fill-opacity="0.81"/>
<circle cx="57.4" cy="36.5" r="1.7" fill="#9ab0cc" fill-opacity="0.91"/>
<circle cx="67.5" cy="34.8" r="2.1" fill="#86a0c2" fill-opacity="0.57"/>
<circle cx="71.0" cy="35.3" r="1.8" fill="#7f99bd" fill-opacity="0.71"/>
<circle cx="75.8" cy="34.8" r="1.5" fill="#7f99bd" fill-opacity="0.78"/>
<circle cx="78.9" cy="34.6" r="1.7" fill="#93abca" fill-opacity="0.61"/>
<circle cx="84.6" cy="35.7" r="2.1" fill="#9ab0cc" fill-opacity="0.58"/>
<circle cx="88.6" cy="36.5" r="2.0" fill="#9ab0cc" fill-opacity="0.67"/>
<circle cx="92.6" cy="35.5" r="1.8" fill="#9ab0cc" fill-opacity="0.73"/>
<circle cx="96.8" cy="35.1" r="1.6" fill="#93abca" fill-opacity="0.91"/>
<circle cx="101.2" cy="35.4" r="2.0" fill="#a4b8d2" fill-opacity="0.56"/>
<circle cx="104.9" cy="36.2" r="2.0" fill="#86a0c2" fill-opacity="0.87"/>
<circle cx="0.4" cy="39.2" r="1.6" fill="#9ab0cc" fill-opacity="0.64"/>
<circle cx="7.9" cy="39.4" r="2.0" fill="#9ab0cc" fill-opacity="0.80"/>
<circle cx="12.6" cy="40.4" r="1.7" fill="#7f99bd" fill-opacity="0.67"/>
<circle cx="17.9" cy="40.5" r="1.9" fill="#7f99bd" fill-opacity="0.68"/>
<circle cx="21.1" cy="39.8" r="1.8" fill="#a4b8d2" fill-opacity="0.62"/>
<circle cx="25.1" cy="39.4" r="2.2" fill="#8ea8c8" fill-opacity="0.78"/>
<circle cx="29.9" cy="39.2" r="2.1" fill="#93abca" fill-opacity="0.78"/>
<circle cx="34.0" cy="40.5" r="1.7" fill="#7f99bd" fill-opacity="0.83"/>
<circle cx="38.3" cy="39.2" r="1.7" fill="#9ab0cc" fill-opacity="0.61"/>
<circle cx="42.2" cy="38.9" r="1.6" fill="#a4b8d2" fill-opacity="0.66"/>
<circle cx="47.8" cy="38.7" r="2.0" fill="#7f99bd" fill-opacity="0.73"/>
<circle cx="52.5" cy="39.1" r="1.7" fill="#a4b8d2" fill-opacity="0.88"/>
<circle cx="56.5" cy="39.5" r="1.8" fill="#7f99bd" fill-opacity="0.88"/>
<circle cx="60.8" cy="40.0" r="2.0" fill="#86a0c2" fill-opacity="0.79"/>
<circle cx="65.3" cy="39.9" r="2.0" fill="#a4b8d2" fill-opacity="0.65"/>
<circle cx="72.5" cy="40.0" r="2.1" fill="#a4b8d2" fill-opacity="0.62"/>
<circle cx="86.7" cy="38.8" r="2.1" fill="#9ab0cc" fill-opacity="0.67"/>
<circle cx="89.6" cy="39.7" r="1.5" fill="#93abca" fill-opacity="0.78"/>
<circle cx="99.6" cy="38.8" r="1.7" fill="#7f99bd" fill-opacity="0.63"/>
<circle cx="103.5" cy="40.4" r="1.6" fill="#9ab0cc" fill-opacity="0.89"/>
<circle cx="1.9" cy="44.3" r="1.6" fill="#93abca" fill-opacity="0.58"/>
<circle cx="5.7" cy="43.6" r="1.6" fill="#93abca" fill-opacity="0.60"/>
<circle cx="11.4" cy="43.9" r="1.8" fill="#93abca" fill-opacity="0.83"/>
<circle cx="14.7" cy="44.4" r="2.1" fill="#a4b8d2" fill-opacity="0.60"/>
<circle cx="18.6" cy="42.5" r="2.1" fill="#a4b8d2" fill-opacity="0.70"/>
<circle cx="23.4" cy="43.6" r="1.5" fill="#8ea8c8" fill-opacity="0.85"/>
<circle cx="28.0" cy="43.5" r="1.5" fill="#86a0c2" fill-opacity="0.91"/>
<circle cx="31.9" cy="43.7" r="1.9" fill="#86a0c2" fill-opacity="0.57"/>
<circle cx="36.7" cy="43.7" r="2.1" fill="#86a0c2" fill-opacity="0.58"/>
<circle cx="41.8" cy="42.7" r="1.8" fill="#93abca" fill-opacity="0.76"/>
<circle cx="45.8" cy="42.9" r="1.6" fill="#a4b8d2" fill-opacity="0.65"/>
<circle cx="50.4" cy="43.1" r="1.9" fill="#8ea8c8" fill-opacity="0.87"/>
<circle cx="57.9" cy="43.7" r="1.7" fill="#93abca" fill-opacity="0.68"/>
<circle cx="62.8" cy="43.8" r="1.9" fill="#a4b8d2" fill-opacity="0.88"/>
<circle cx="67.4" cy="44.3" r="1.5" fill="#93abca" fill-opacity="0.80"/>
<circle cx="70.5" cy="44.3" r="2.0" fill="#86a0c2" fill-opacity="0.55"/>
<circle cx="75.7" cy="44.4" r="2.0" fill="#7f99bd" fill-opacity="0.67"/>
<circle cx="79.6" cy="43.4" r="2.0" fill="#86a0c2" fill-opacity="0.77"/>
<circle cx="84.1" cy="42.8" r="1.6" fill="#86a0c2" fill-opacity="0.73"/>
<circle cx="87.5" cy="43.5" r="2.1" fill="#93abca" fill-opacity="0.62"/>
<circle cx="92.0" cy="43.4" r="2.0" fill="#86a0c2" fill-opacity="0.89"/>
<circle cx="97.6" cy="44.2" r="2.0" fill="#93abca" fill-opacity="0.80"/>
<circle cx="101.9" cy="42.8" r="1.8" fill="#8ea8c8" fill-opacity="0.80"/>
<circle cx="105.2" cy="42.7" r="1.8" fill="#86a0c2" fill-opacity="0.75"/>
<circle cx="-0.1" cy="46.9" r="1.7" fill="#86a0c2" fill-opacity="0.83"/>
<circle cx="4.9" cy="46.5" r="1.8" fill="#9ab0cc" fill-opacity="0.83"/>
<circle cx="9.5" cy="46.8" r="1.8" fill="#9ab0cc" fill-opacity="0.67"/>
<circle cx="12.3" cy="46.6" r="2.1" fill="#a4b8d2" fill-opacity="0.83"/>
<circle cx="18.1" cy="47.2" r="1.6" fill="#a4b8d2" fill-opacity="0.72"/>
<circle cx="20.9" cy="47.4" r="2.1" fill="#86a0c2" fill-opacity="0.81"/>
<circle cx="25.2" cy="47.9" r="1.6" fill="#7f99bd" fill-opacity="0.78"/>
<circle cx="29.9" cy="48.1" r="1.8" fill="#7f99bd" fill-opacity="0.60"/>
<circle cx="35.1" cy="48.0" r="2.0" fill="#a4b8d2" fill-opacity="0.75"/>
<circle cx="39.6" cy="47.3" r="1.7" fill="#93abca" fill-opacity="0.70"/>
<circle cx="43.7" cy="47.8" r="1.7" fill="#86a0c2" fill-opacity="0.86"/>
<circle cx="48.2" cy="47.5" r="1.6" fill="#7f99bd" fill-opacity="0.68"/>
<circle cx="56.9" cy="46.9" r="1.9" fill="#8ea8c8" fill-opacity="0.85"/>
<circle cx="59.7" cy="48.2" r="2.2" fill="#8ea8c8" fill-opacity="0.62"/>
<circle cx="64.7" cy="46.8" r="1.8" fill="#9ab0cc" fill-opacity="0.72"/>
<circle cx="72.2" cy="47.5" r="1.6" fill="#8ea8c8" fill-opacity="0.90"/>
<circle cx="77.8" cy="48.2" r="2.1" fill="#86a0c2" fill-opacity="0.80"/>
<circle cx="81.9" cy="47.9" r="1.7" fill="#a4b8d2" fill-opacity="0.57"/>
<circle cx="86.3" cy="46.8" r="1.6" fill="#8ea8c8" fill-opacity="0.91"/>
<circle cx="94.7" cy="47.7" r="1.8" fill="#86a0c2" fill-opacity="0.63"/>
<circle cx="99.9" cy="47.7" r="2.1" fill="#93abca" fill-opacity="0.87"/>
<circle cx="102.7" cy="47.3" r="2.0" fill="#a4b8d2" fill-opacity="0.57"/>
<circle cx="2.7" cy="50.6" r="2.0" fill="#8ea8c8" fill-opacity="0.79"/>
<circle cx="7.3" cy="52.3" r="2.1" fill="#a4b8d2" fill-opacity="0.56"/>
<circle cx="10.0" cy="52.4" r="2.2" fill="#9ab0cc" fill-opacity="0.88"/>
<circle cx="15.3" cy="52.1" r="2.0" fill="#93abca" fill-opacity="0.75"/>
<circle cx="19.3" cy="50.6" r="1.5" fill="#8ea8c8" fill-opacity="0.74"/>
<circle cx="23.6" cy="51.5" r="2.0" fill="#7f99bd" fill-opacity="0.66"/>
<circle cx="28.6" cy="50.9" r="2.0" fill="#a4b8d2" fill-opacity="0.79"/>
<circle cx="32.4" cy="52.2" r="2.1" fill="#8ea8c8" fill-opacity="0.78"/>
<circle cx="41.5" cy="52.0" r="2.0" fill="#93abca" fill-opacity="0.73"/>
<circle cx="44.4" cy="51.1" r="1.9" fill="#86a0c2" fill-opacity="0.84"/>
<circle cx="49.1" cy="52.0" r="2.1" fill="#9ab0cc" fill-opacity="0.56"/>
<circle cx="58.7" cy="51.0" r="1.7" fill="#a4b8d2" fill-opacity="0.69"/>
<circle cx="61.7" cy="50.9" r="2.1" fill="#7f99bd" fill-opacity="0.75"/>
<circle cx="66.5" cy="50.9" r="1.7" fill="#93abca" fill-opacity="0.91"/>
<circle cx="71.2" cy="52.3" r="1.7" fill="#a4b8d2" fill-opacity="0.62"/>
<circle cx="74.8" cy="50.9" r="1.5" fill="#86a0c2" fill-opacity="0.61"/>
<circle cx="83.5" cy="52.0" r="1.7" fill="#8ea8c8" fill-opacity="0.70"/>
<circle cx="106.2" cy="50.6" r="1.9" fill="#86a0c2" fill-opacity="0.63"/>
<circle cx="-0.6" cy="56.2" r="1.9" fill="#a4b8d2" fill-opacity="0.66"/>
<circle cx="4.5" cy="55.9" r="1.6" fill="#8ea8c8" fill-opacity="0.73"/>
<circle cx="8.3" cy="55.3" r="2.0" fill="#93abca" fill-opacity="0.77"/>
<circle cx="12.5" cy="54.8" r="1.8" fill="#86a0c2" fill-opacity="0.85"/>
<circle cx="17.7" cy="56.2" r="1.8" fill="#9ab0cc" fill-opacity="0.59"/>
<circle cx="21.7" cy="55.5" r="2.1" fill="#86a0c2" fill-opacity="0.68"/>
<circle cx="25.2" cy="55.5" r="2.1" fill="#93abca" fill-opacity="0.68"/>
<circle cx="30.3" cy="56.2" r="2.1" fill="#9ab0cc" fill-opacity="0.79"/>
<circle cx="34.3" cy="55.6" r="2.2" fill="#9ab0cc" fill-opacity="0.66"/>
<circle cx="38.2" cy="55.8" r="1.7" fill="#9ab0cc" fill-opacity="0.69"/>
<circle cx="42.3" cy="54.9" r="2.0" fill="#9ab0cc" fill-opacity="0.61"/>
<circle cx="50.6" cy="54.8" r="1.6" fill="#7f99bd" fill-opacity="0.79"/>
<circle cx="55.9" cy="56.3" r="1.6" fill="#93abca" fill-opacity="0.66"/>
<circle cx="60.6" cy="55.2" r="1.9" fill="#a4b8d2" fill-opacity="0.86"/>
<circle cx="65.3" cy="55.9" r="1.6" fill="#93abca" fill-opacity="0.71"/>
<circle cx="69.4" cy="55.9" r="1.5" fill="#7f99bd" fill-opacity="0.87"/>
<circle cx="73.4" cy="55.3" r="1.7" fill="#86a0c2" fill-opacity="0.81"/>
<circle cx="78.0" cy="55.4" r="1.5" fill="#a4b8d2" fill-opacity="0.86"/>
<circle cx="81.7" cy="54.6" r="1.5" fill="#9ab0cc" fill-opacity="0.87"/>
<circle cx="86.3" cy="55.5" r="2.0" fill="#9ab0cc" fill-opacity="0.80"/>
<circle cx="89.9" cy="54.7" r="1.9" fill="#a4b8d2" fill-opacity="0.91"/>
<circle cx="94.0" cy="55.7" r="2.1" fill="#7f99bd" fill-opacity="0.87"/>
<circle cx="99.6" cy="55.8" r="1.5" fill="#9ab0cc" fill-opacity="0.66"/>
<circle cx="103.2" cy="54.5" r="1.6" fill="#a4b8d2" fill-opacity="0.90"/>
<circle cx="1.8" cy="59.5" r="1.8" fill="#93abca" fill-opacity="0.57"/>
<circle cx="10.9" cy="60.3" r="1.9" fill="#93abca" fill-opacity="0.62"/>
<circle cx="15.3" cy="58.6" r="1.7" fill="#9ab0cc" fill-opacity="0.81"/>
<circle cx="19.8" cy="59.1" r="1.9" fill="#9ab0cc" fill-opacity="0.68"/>
<circle cx="23.6" cy="59.1" r="1.7" fill="#8ea8c8" fill-opacity="0.65"/>
<circle cx="27.4" cy="59.5" r="2.0" fill="#86a0c2" fill-opacity="0.59"/>
<circle cx="32.8" cy="58.9" r="2.0" fill="#a4b8d2" fill-opacity="0.55"/>
<circle cx="37.0" cy="59.0" r="1.6" fill="#7f99bd" fill-opacity="0.76"/>
<circle cx="40.8" cy="59.9" r="2.0" fill="#93abca" fill-opacity="0.68"/>
<circle cx="46.0" cy="60.3" r="1.8" fill="#9ab0cc" fill-opacity="0.77"/>
<circle cx="50.1" cy="59.3" r="1.7" fill="#9ab0cc" fill-opacity="0.61"/>
<circle cx="53.2" cy="59.3" r="1.5" fill="#7f99bd" fill-opacity="0.77"/>
<circle cx="58.7" cy="58.6" r="1.9" fill="#7f99bd" fill-opacity="0.67"/>
<circle cx="61.5" cy="58.5" r="2.0" fill="#7f99bd" fill-opacity="0.55"/>
<circle cx="67.2" cy="59.8" r="2.0" fill="#86a0c2" fill-opacity="0.82"/>
<circle cx="71.9" cy="59.9" r="1.7" fill="#93abca" fill-opacity="0.86"/>
<circle cx="74.6" cy="59.8" r="2.2" fill="#86a0c2" fill-opacity="0.68"/>
<circle cx="80.5" cy="60.0" r="1.7" fill="#9ab0cc" fill-opacity="0.88"/>
<circle cx="87.2" cy="59.0" r="1.8" fill="#93abca" fill-opacity="0.77"/>
<circle cx="93.4" cy="59.4" r="2.0" fill="#93abca" fill-opacity="0.92"/>
<circle cx="96.7" cy="58.5" r="2.1" fill="#93abca" fill-opacity="0.73"/>
<circle cx="100.5" cy="59.7" r="1.6" fill="#93abca" fill-opacity="0.73"/>
<circle cx="105.3" cy="58.8" r="1.7" fill="#86a0c2" fill-opacity="0.84"/>
<circle cx="0.6" cy="62.5" r="1.9" fill="#7f99bd" fill-opacity="0.66"/>
<circle cx="4.6" cy="62.7" r="2.0" fill="#93abca" fill-opacity="0.69"/>
<circle cx="9.4" cy="64.1" r="2.0" fill="#8ea8c8" fill-opacity="0.57"/>
<circle cx="12.6" cy="62.4" r="1.6" fill="#86a0c2" fill-opacity="0.80"/>
<circle cx="22.3" cy="64.3" r="2.2" fill="#7f99bd" fill-opacity="0.89"/>
<circle cx="25.7" cy="62.8" r="1.9" fill="#86a0c2" fill-opacity="0.59"/>
<circle cx="30.4" cy="62.7" r="1.8" fill="#9ab0cc" fill-opacity="0.84"/>
<circle cx="34.8" cy="63.7" r="1.6" fill="#a4b8d2" fill-opacity="0.80"/>
<circle cx="39.5" cy="62.5" r="1.9" fill="#8ea8c8" fill-opacity="0.90"/>
<circle cx="42.3" cy="63.2" r="2.2" fill="#86a0c2" fill-opacity="0.61"/>
<circle cx="47.3" cy="64.0" r="2.1" fill="#7f99bd" fill-opacity="0.58"/>
<circle cx="51.1" cy="62.5" r="1.6" fill="#9ab0cc" fill-opacity="0.57"/>
<circle cx="55.6" cy="63.0" r="2.1" fill="#8ea8c8" fill-opacity="0.73"/>
<circle cx="59.5" cy="63.8" r="1.8" fill="#93abca" fill-opacity="0.85"/>
<circle cx="65.4" cy="62.7" r="1.7" fill="#a4b8d2" fill-opacity="0.78"/>
<circle cx="69.0" cy="62.7" r="1.6" fill="#86a0c2" fill-opacity="0.81"/>
<circle cx="73.3" cy="63.7" r="1.6" fill="#86a0c2" fill-opacity="0.86"/>
<circle cx="82.5" cy="63.1" r="1.6" fill="#a4b8d2" fill-opacity="0.63"/>
<circle cx="85.4" cy="63.7" r="1.6" fill="#86a0c2" fill-opacity="0.58"/>
<circle cx="89.4" cy="63.5" r="1.9" fill="#9ab0cc" fill-opacity="0.76"/>
<circle cx="95.3" cy="62.8" r="2.2" fill="#93abca" fill-opacity="0.59"/>
<circle cx="98.8" cy="63.8" r="2.2" fill="#86a0c2" fill-opacity="0.70"/>
<circle cx="1.4" cy="66.7" r="1.5" fill="#93abca" fill-opacity="0.87"/>
<circle cx="6.7" cy="66.4" r="1.5" fill="#7f99bd" fill-opacity="0.57"/>
<circle cx="10.7" cy="66.4" r="2.0" fill="#9ab0cc" fill-opacity="0.89"/>
<circle cx="15.6" cy="67.7" r="1.8" fill="#8ea8c8" fill-opacity="0.61"/>
<circle cx="18.4" cy="66.4" r="1.5" fill="#9ab0cc" fill-opacity="0.66"/>
<circle cx="23.2" cy="68.0" r="1.5" fill="#93abca" fill-opacity="0.58"/>
<circle cx="28.7" cy="67.4" r="2.1" fill="#93abca" fill-opacity="0.66"/>
<circle cx="32.0" cy="67.9" r="2.1" fill="#93abca" fill-opacity="0.78"/>
<circle cx="41.0" cy="66.9" r="1.9" fill="#93abca" fill-opacity="0.77"/>
<circle cx="44.2" cy="68.1" r="1.6" fill="#9ab0cc" fill-opacity="0.76"/>
<circle cx="48.7" cy="67.9" r="1.5" fill="#93abca" fill-opacity="0.71"/>
<circle cx="54.6" cy="67.1" r="2.1" fill="#86a0c2" fill-opacity="0.81"/>
<circle cx="58.7" cy="67.0" r="2.0" fill="#9ab0cc" fill-opacity="0.91"/>
<circle cx="66.7" cy="68.0" r="1.8" fill="#7f99bd" fill-opacity="0.70"/>
<circle cx="70.4" cy="68.1" r="2.0" fill="#9ab0cc" fill-opacity="0.69"/>
<circle cx="80.3" cy="68.2" r="1.9" fill="#86a0c2" fill-opacity="0.72"/>
<circle cx="83.1" cy="66.9" r="1.9" fill="#7f99bd" fill-opacity="0.88"/>
<circle cx="87.8" cy="67.0" r="1.8" fill="#9ab0cc" fill-opacity="0.86"/>
<circle cx="92.4" cy="67.6" r="1.8" fill="#8ea8c8" fill-opacity="0.71"/>
<circle cx="96.6" cy="68.0" r="2.0" fill="#7f99bd" fill-opacity="0.63"/>
<circle cx="100.3" cy="66.7" r="1.7" fill="#8ea8c8" fill-opacity="0.67"/>
</g></svg>
<defs><radialGradient id="lg1"><stop offset="0" stop-color="#f0f3f7" stop-opacity="0.55"/><stop offset="1" stop-color="#f0f3f7" stop-opacity="0"/></radialGradient></defs>
<ellipse cx="375" cy="322" rx="13" ry="26" transform="rotate(-20 375 322)" fill="url(#lg1)"/>
<rect x="233.0" y="363.3" width="99.5" height="72.0" filter="url(#tb1)"/>
<svg x="233.0" y="363.3" width="99.5" height="72.0" viewBox="0 0 99.5 72.0" overflow="hidden"><g filter="url(#soft)">
<path d="M25.6,57.9 L24.6,58.7 L24.0,57.1 L23.7,57.8 L22.1,55.5 L22.5,54.2 L21.3,53.4 L23.5,52.7 L25.8,51.2 L26.7,49.2 L27.4,49.6 L29.0,49.9 L29.3,49.6 L28.2,52.3 L27.2,53.7 L27.1,56.3 L27.5,56.8 L25.7,57.8Z" fill="#c0c0d2" fill-opacity="0.61"/>
<path d="M68.5,59.2 L69.0,62.6 L68.7,64.1 L67.6,66.9 L68.2,67.9 L70.7,67.5 L71.4,68.0 L72.4,67.2 L75.4,66.1 L76.3,65.3 L76.7,64.6 L76.7,62.2 L76.0,61.9 L76.3,60.2 L75.2,57.8 L74.7,56.8 L73.5,55.5 L73.2,56.2 L73.6,54.9 L72.1,56.7 L69.4,58.1Z" fill="#bcb0b4" fill-opacity="0.74"/>
<path d="M13.5,18.0 L12.8,17.8 L13.1,17.6 L12.5,16.8 L13.0,11.4 L13.2,4.3 L14.4,-0.9 L14.8,0.5 L16.7,2.7 L17.9,4.4 L18.3,9.0 L17.6,12.3 L17.0,16.1 L16.7,17.5 L15.8,17.1 L16.0,17.5 L14.3,17.4 L13.7,17.8Z" fill="#a4afca" fill-opacity="0.79"/>
<path d="M13.8,-1.6 L13.1,-2.8 L13.7,-2.6 L13.0,-3.3 L10.8,-0.8 L10.4,1.2 L8.8,3.6 L9.3,7.8 L8.6,11.3 L8.9,14.5 L9.9,15.0 L10.8,16.2 L12.0,15.8 L12.5,10.9 L12.9,4.7Z" fill="#b6bccf" fill-opacity="0.74"/>
<path d="M81.7,2.9 L81.7,-2.3 L81.3,-8.7 L79.8,-14.6 L76.4,-9.8 L73.8,-6.1 L70.0,-0.6 L70.3,2.3 L71.3,6.1 L72.4,10.0 L73.5,9.6 L73.7,9.9 L73.2,10.4 L75.4,8.8 L78.1,4.8Z" fill="#b6bccf" fill-opacity="0.83"/>
<path d="M60.4,15.4 L59.9,14.6 L59.8,14.9 L60.7,14.8 L60.9,12.5 L59.9,11.3 L58.8,9.7 L55.1,9.1 L52.9,7.8 L49.8,7.8 L48.6,9.9 L48.6,14.1 L47.0,16.6 L49.5,16.7 L51.5,18.0 L53.1,19.3 L55.2,17.5 L58.5,17.1Z" fill="#c0c0d2" fill-opacity="0.82"/>
<path d="M76.0,47.6 L81.0,48.9 L84.2,49.1 L89.1,49.1 L90.1,47.6 L91.4,46.7 L93.7,45.6 L93.8,44.1 L95.4,41.7 L96.1,39.9 L92.9,37.0 L88.7,34.7 L85.4,32.4 L83.1,33.0 L81.9,31.6 L81.2,32.2 L80.7,33.5 L79.0,33.6 L78.0,34.5 L76.5,34.9 L76.3,36.5 L75.4,38.3 L74.7,41.2 L74.3,42.5 L75.1,45.1 L75.9,46.4 L75.0,47.2Z" fill="#b4aebe" fill-opacity="0.56"/>
<path d="M0.6,20.3 L-3.2,19.5 L-6.3,18.4 L-9.1,18.4 L-5.2,17.5 L-3.2,15.4 L0.1,14.2 L1.2,15.0 L0.1,15.6 L1.2,17.1 L0.4,18.9 L1.3,18.4Z" fill="#c0c0d2" fill-opacity="0.65"/>
<path d="M0.2,67.8 L4.8,66.6 L8.0,64.6 L11.9,63.8 L12.0,66.3 L13.1,69.7 L13.7,71.6 L8.8,70.8 L6.0,70.5 L1.4,70.0 L1.6,68.7 L1.0,68.5 L0.0,67.9 L0.2,67.1 L-0.0,68.4Z" fill="#bcb0b4" fill-opacity="0.57"/>
<path d="M104.6,72.1 L143.1,92.0 L181.9,110.9 L221.8,129.9 L225.5,126.3 L229.3,123.0 L233.3,119.1 L191.0,99.6 L150.6,79.2 L107.4,60.0 L106.6,61.1 L104.4,62.7 L103.7,63.5 L103.1,66.7 L104.4,68.7Z" fill="#c0c0d2" fill-opacity="0.51"/>
<path d="M20.6,74.4 L21.2,69.4 L20.7,66.0 L19.9,61.1 L20.2,60.7 L21.8,60.5 L23.3,59.6 L24.8,59.9 L24.5,59.8 L25.1,59.7 L25.3,61.1 L25.7,63.1 L27.1,64.3 L24.5,68.1 L22.8,71.9 L21.5,75.7 L20.4,74.4 L21.1,75.2Z" fill="#c0c0d2" fill-opacity="0.74"/>
<path d="M51.9,62.6 L49.9,62.3 L48.6,63.4 L47.6,63.7 L46.3,62.5 L44.0,59.8 L42.0,58.9 L43.1,56.4 L42.7,54.0 L44.0,51.2 L44.9,50.4 L46.6,50.7 L48.0,49.8 L48.2,49.7 L49.4,50.1 L50.9,49.7 L51.5,49.3 L51.3,49.7 L51.0,49.8 L50.8,53.6 L51.6,58.8Z" fill="#b4aebe" fill-opacity="0.81"/>
<path d="M42.3,33.1 L41.5,32.9 L41.7,32.1 L42.5,32.9 L42.2,31.9 L43.2,31.8 L42.6,32.4 L42.2,28.8 L40.8,27.1 L39.2,23.7 L38.3,24.5 L35.5,24.6 L33.7,24.9 L33.1,25.5 L32.2,27.0 L31.4,29.3 L35.2,30.7 L39.4,31.1Z" fill="#c0c0d2" fill-opacity="0.77"/>
<path d="M18.5,2.9 L20.7,5.5 L23.4,7.9 L27.0,10.3 L29.5,9.6 L31.9,9.5 L33.6,9.3 L33.1,8.6 L33.8,8.8 L33.8,8.8 L26.2,-2.2 L21.1,-12.6 L13.3,-23.5 L13.7,-18.6 L12.8,-13.2 L13.7,-8.2 L13.3,-7.6 L14.1,-5.4 L14.0,-4.5 L13.4,-3.1 L13.7,-3.9 L14.9,-2.6 L15.8,-0.3 L17.7,1.4Z" fill="#c0c0d2" fill-opacity="0.50"/>
<path d="M88.5,64.1 L88.0,62.4 L89.4,61.0 L88.8,59.7 L86.7,59.9 L85.4,58.3 L83.7,58.9 L84.2,59.7 L84.9,61.2 L86.1,63.0 L87.5,63.5 L87.5,63.8Z" fill="#a4afca" fill-opacity="0.50"/>
<path d="M240.9,117.2 L269.7,91.3 L299.6,63.8 L330.6,37.4 L321.2,29.5 L310.1,21.9 L300.1,13.8 L236.0,22.6 L173.7,32.3 L108.2,40.9 L106.6,43.7 L105.7,44.6 L105.5,47.4 L106.4,49.4 L107.3,52.9 L109.3,55.4 L152.5,75.2 L196.2,95.5Z" fill="#bcb0b4" fill-opacity="0.61"/>
<path d="M59.1,59.5 L58.0,60.6 L56.3,62.3 L55.5,63.0 L54.5,62.9 L54.0,63.3 L53.1,62.4 L52.0,58.8 L52.9,53.8 L52.2,50.8 L53.2,50.9 L55.4,51.8 L56.1,51.6 L56.9,53.6 L58.4,57.6Z" fill="#bcb0b4" fill-opacity="0.82"/>
<path d="M41.3,16.6 L43.2,16.1 L43.8,16.0 L45.1,15.6 L45.4,13.2 L47.4,10.5 L47.6,8.1 L47.3,7.4 L46.7,6.8 L47.1,6.7 L44.2,8.5 L39.8,8.3 L36.4,9.7 L36.1,10.5 L35.9,9.3 L36.2,10.0 L35.8,9.5 L35.5,9.9 L36.1,10.5 L36.5,11.5 L36.0,10.6 L36.6,11.2 L38.3,12.1 L38.9,14.9Z" fill="#c0c0d2" fill-opacity="0.65"/>
<path d="M15.8,31.9 L18.7,34.5 L20.5,35.3 L21.9,38.3 L20.4,38.8 L21.3,40.1 L19.6,41.1 L18.1,40.8 L16.1,40.9 L13.7,41.9 L14.0,40.1 L12.6,38.4 L13.0,36.4 L14.2,35.5 L13.2,34.2 L14.5,32.0 L14.1,32.2 L15.0,31.4Z" fill="#a9b3cc" fill-opacity="0.67"/>
<path d="M20.6,28.0 L19.1,28.8 L18.4,30.8 L16.5,31.4 L18.6,34.1 L20.4,35.3 L22.4,37.6 L23.6,37.0 L24.8,37.9 L27.0,36.9 L25.5,33.1 L23.4,30.7 L22.3,27.6 L22.7,28.1 L22.4,27.0 L21.8,27.2 L21.3,28.3 L20.8,28.0Z" fill="#a9b3cc" fill-opacity="0.77"/>
<path d="M60.1,28.1 L62.2,26.7 L64.4,25.7 L65.4,25.0 L68.6,26.8 L70.6,30.6 L74.5,32.8 L74.0,34.3 L72.1,35.1 L72.0,36.4 L69.2,36.0 L67.2,34.8 L65.6,35.4 L66.0,34.6 L63.9,34.3 L64.2,34.7 L63.5,31.7 L62.1,30.7Z" fill="#bcb0b4" fill-opacity="0.66"/>
<path d="M12.6,21.9 L11.3,23.1 L9.6,24.7 L8.9,27.3 L11.5,28.6 L11.6,29.3 L14.3,31.0 L14.1,30.6 L15.4,30.7 L15.6,30.9 L16.4,29.4 L17.7,28.3 L19.6,27.5 L17.0,26.3 L14.3,23.9Z" fill="#bcb0b4" fill-opacity="0.72"/>
<path d="M6.3,45.8 L5.8,48.2 L5.3,50.7 L4.3,52.1 L0.5,52.9 L-1.5,54.0 L-5.0,53.7 L-1.8,51.8 L1.5,48.6 L6.2,45.7 L5.9,45.8 L5.6,45.5Z" fill="#a4afca" fill-opacity="0.65"/>
<path d="M72.1,71.6 L72.5,83.0 L73.5,94.9 L73.3,106.5 L75.3,95.5 L79.2,86.2 L81.9,74.9 L80.6,73.6 L79.0,70.8 L76.9,68.9 L75.1,69.9 L72.8,69.8Z" fill="#b4aebe" fill-opacity="0.76"/>
<path d="M0.8,11.0 L4.1,8.5 L6.0,5.5 L8.1,3.1 L8.9,-0.1 L11.2,-0.9 L12.4,-4.1 L12.7,-5.0 L12.9,-6.7 L12.2,-7.7 L6.6,-2.8 L1.8,3.3 L-4.5,8.5 L-2.7,9.8 L-0.2,9.3Z" fill="#b6bccf" fill-opacity="0.74"/>
<path d="M88.0,65.0 L88.4,65.7 L88.7,68.0 L89.2,68.7 L88.1,70.2 L84.9,70.3 L83.4,72.2 L81.5,69.9 L80.0,67.8 L78.4,66.2 L78.9,64.8 L78.6,63.5 L78.2,62.8 L80.2,62.6 L82.9,63.3 L85.6,63.9 L86.1,65.0 L86.3,64.6Z" fill="#a4afca" fill-opacity="0.82"/>
<path d="M35.9,69.2 L36.5,71.5 L38.0,75.1 L37.7,78.0 L40.6,76.0 L41.9,73.3 L45.2,69.9 L45.0,68.6 L45.6,67.7 L46.9,65.3 L45.1,62.9 L43.7,62.9 L41.1,60.3 L40.7,60.5 L40.0,60.4 L40.8,60.4 L39.5,64.1 L38.1,65.8Z" fill="#b4aebe" fill-opacity="0.54"/>
<path d="M89.5,64.4 L89.4,65.7 L90.7,66.2 L90.7,68.0 L92.6,68.3 L94.4,67.9 L96.3,68.4 L95.9,65.1 L95.0,62.4 L95.4,60.4 L94.6,59.3 L92.9,58.3 L91.1,58.3 L91.4,58.1 L90.8,59.6 L89.8,60.1 L90.4,62.2 L88.7,62.1Z" fill="#b6bccf" fill-opacity="0.56"/>
<path d="M15.1,70.8 L16.6,71.1 L18.3,73.4 L19.3,73.9 L18.8,70.0 L19.5,65.5 L18.7,61.5 L16.8,60.6 L15.9,62.2 L14.9,61.1 L15.1,61.5 L14.9,62.0 L13.5,63.9 L14.2,65.5 L14.5,68.7Z" fill="#a9b3cc" fill-opacity="0.59"/>
<path d="M37.6,58.3 L37.8,58.3 L36.9,59.2 L37.6,58.3 L36.6,55.0 L34.9,52.1 L32.5,49.1 L33.5,49.1 L34.1,47.2 L34.6,46.7 L36.3,48.1 L39.8,49.3 L42.3,51.4 L41.8,52.8 L40.6,56.0 L40.4,58.5 L40.3,58.9 L39.7,58.1 L40.1,58.6 L39.7,58.1 L37.8,58.6Z" fill="#a4afca" fill-opacity="0.85"/>
<path d="M2.4,73.7 L11.8,131.5 L20.0,190.6 L29.0,251.6 L29.2,203.2 L28.0,153.6 L28.6,103.7 L26.9,96.5 L24.5,89.1 L21.1,80.3 L20.9,80.5 L20.6,79.0 L20.1,79.0 L18.3,77.9 L16.7,77.1 L15.2,75.3 L10.3,74.5 L6.3,73.6Z" fill="#c0c0d2" fill-opacity="0.71"/>
<path d="M61.5,58.8 L63.2,58.8 L64.8,58.9 L67.5,57.6 L69.2,55.9 L70.7,54.6 L72.8,53.1 L72.4,51.6 L72.5,51.7 L73.0,50.0 L71.9,48.7 L72.2,48.6 L72.1,47.4 L68.1,49.2 L62.8,49.9 L58.2,50.5 L60.1,53.3 L60.3,56.1Z" fill="#b6bccf" fill-opacity="0.55"/>
<path d="M16.5,49.7 L15.8,47.8 L13.0,46.6 L12.2,45.6 L12.2,46.3 L12.2,45.7 L11.8,45.0 L13.0,44.2 L12.8,44.0 L13.7,42.7 L15.8,43.2 L18.4,42.2 L19.5,42.0 L19.7,43.1 L20.6,45.2 L20.9,47.3 L19.8,48.1 L19.7,49.2 L18.4,49.7 L17.7,50.0 L17.4,50.4Z" fill="#bcb0b4" fill-opacity="0.70"/>
<path d="M56.9,49.3 L55.7,48.4 L53.3,49.0 L52.7,48.4 L53.5,47.7 L52.1,48.8 L52.6,48.3 L52.1,46.4 L54.0,46.1 L53.5,45.0 L56.8,42.3 L61.5,40.9 L64.5,37.5 L66.7,38.5 L68.6,38.9 L71.6,38.7 L71.3,41.8 L70.6,43.8 L71.2,46.0 L65.7,47.4 L61.6,48.0Z" fill="#b4aebe" fill-opacity="0.55"/>
<path d="M30.1,22.2 L32.3,18.4 L33.8,14.7 L35.5,12.1 L36.7,13.6 L39.2,16.2 L40.8,18.2 L40.3,19.1 L39.6,21.7 L38.9,22.8 L37.8,23.0 L35.2,24.3 L33.5,24.0 L31.6,23.6 L30.6,23.4Z" fill="#bcb0b4" fill-opacity="0.54"/>
<path d="M16.2,50.3 L15.2,49.5 L13.9,46.8 L11.8,46.2 L11.5,49.2 L10.8,51.9 L10.0,55.9 L11.6,56.2 L11.8,56.6 L12.7,57.0 L13.7,54.9 L15.1,53.1Z" fill="#b6bccf" fill-opacity="0.81"/>
<path d="M2.1,16.4 L1.1,15.2 L0.5,14.1 L0.9,13.4 L0.3,13.8 L0.2,12.3 L0.7,12.1 L2.2,8.9 L5.7,6.8 L7.8,4.4 L7.8,8.6 L8.2,11.2 L7.9,15.4 L6.4,16.1 L4.2,16.1Z" fill="#b4aebe" fill-opacity="0.71"/>
<path d="M3.7,45.9 L3.4,46.0 L2.6,44.6 L1.3,43.9 L-8.7,46.5 L-20.6,50.4 L-30.7,54.0 L-27.2,55.1 L-23.4,55.7 L-20.0,56.6 L-16.2,56.2 L-11.9,54.5 L-7.9,54.1 L-3.9,51.3 L0.3,49.1Z" fill="#a4afca" fill-opacity="0.77"/>
<path d="M56.5,35.3 L56.1,35.6 L53.7,37.2 L52.5,38.3 L53.1,39.7 L53.3,41.4 L53.2,44.0 L57.6,40.8 L60.6,39.6 L64.1,36.6 L63.7,35.9 L62.9,36.8 L62.6,35.9 L60.5,35.8 L59.4,35.5Z" fill="#bcb0b4" fill-opacity="0.71"/>
<path d="M33.4,-0.1 L32.8,0.1 L33.1,-0.1 L33.2,0.2 L26.2,-8.4 L21.0,-19.4 L14.8,-28.7 L11.4,-72.6 L6.7,-114.3 L3.5,-159.7 L15.9,-113.4 L27.0,-66.2 L40.1,-18.6 L37.4,-12.8 L35.3,-6.2Z" fill="#b6bccf" fill-opacity="0.72"/>
<path d="M-7.8,75.2 L-12.9,73.2 L-20.0,69.2 L-25.4,67.0 L-28.8,65.8 L-33.3,64.6 L-36.3,64.3 L-37.9,63.6 L-38.0,63.8 L-38.4,64.1 L-55.3,62.3 L-72.4,62.2 L-91.0,60.0 L-126.2,60.1 L-159.8,59.4 L-195.2,59.5 L-124.4,130.7 L-53.5,200.5 L18.9,273.7 L19.0,261.0 L17.1,249.5 L17.3,236.8 L9.3,183.8 L1.2,131.7 L-6.6,77.1 L-7.1,75.7 L-7.8,75.7Z" fill="#b6bccf" fill-opacity="0.54"/>
<path d="M12.3,19.3 L12.6,18.9 L11.7,18.0 L11.3,18.1 L9.4,18.5 L9.5,16.3 L8.3,16.8 L6.3,17.8 L3.8,17.4 L2.7,17.7 L3.0,18.1 L3.1,19.2 L2.1,20.9 L1.5,20.5 L2.2,21.0 L2.2,21.5 L2.9,23.5 L4.0,24.2 L6.0,25.8 L6.1,25.8 L6.5,25.5 L7.6,26.4 L8.5,25.5 L8.5,26.7 L8.0,26.3 L8.9,25.1 L10.3,23.5 L11.5,21.1 L11.5,21.3 L12.4,19.1Z" fill="#b6bccf" fill-opacity="0.83"/>
<path d="M27.7,38.5 L26.9,38.5 L24.9,38.4 L23.2,39.2 L23.3,40.2 L21.7,41.6 L21.0,41.8 L21.0,43.5 L21.7,45.9 L22.3,46.9 L23.9,48.0 L26.0,46.7 L27.0,47.7 L28.0,47.8 L28.1,48.6 L29.6,48.1 L30.5,48.6 L30.2,46.8 L30.6,47.1 L31.6,46.8 L31.7,45.8 L32.8,44.5 L32.7,43.2 L33.5,42.7 L32.5,41.3 L32.3,41.0 L31.0,39.2 L29.4,38.9 L29.3,38.0 L28.8,39.0Z" fill="#c0c0d2" fill-opacity="0.57"/>
<path d="M6.8,28.4 L6.6,29.1 L5.0,28.3 L5.3,27.9 L5.1,29.2 L2.7,29.0 L2.6,29.8 L2.4,30.4 L1.7,33.0 L0.4,33.6 L1.2,34.2 L0.5,35.7 L1.4,35.6 L1.4,36.6 L2.6,37.1 L4.0,37.3 L3.6,36.7 L3.5,36.5 L4.4,36.9 L5.8,34.6 L6.3,31.1Z" fill="#b4aebe" fill-opacity="0.66"/>
<path d="M31.6,64.9 L33.5,62.6 L34.6,61.8 L37.4,59.8 L37.9,59.6 L38.6,60.1 L40.2,60.1 L38.5,62.2 L37.3,66.5 L35.4,68.8 L33.6,67.2 L33.1,66.6Z" fill="#a9b3cc" fill-opacity="0.52"/>
<path d="M-18.7,23.4 L-21.3,25.1 L-24.5,27.3 L-27.8,29.7 L-29.7,30.9 L-29.8,30.5 L-31.8,31.3 L-54.6,35.5 L-77.1,40.5 L-100.1,45.5 L-133.8,46.1 L-166.3,44.7 L-200.3,45.0 L-205.0,41.0 L-208.8,38.2 L-213.2,34.9 L-208.2,30.7 L-204.9,26.6 L-199.8,23.2 L-142.7,21.9 L-87.0,21.1 L-27.9,21.1 L-24.8,21.4 L-21.4,22.1 L-18.8,22.9 L-18.1,22.6 L-18.9,23.7Z" fill="#b4aebe" fill-opacity="0.74"/>
<path d="M32.3,118.2 L34.3,112.1 L36.7,106.0 L38.9,98.6 L40.8,96.8 L43.8,93.1 L45.7,91.2 L50.2,94.0 L54.0,96.0 L57.2,98.5 L60.2,113.8 L62.5,129.5 L64.2,144.7 L61.7,195.0 L59.7,243.9 L58.2,295.0 L54.9,298.7 L51.8,302.3 L49.1,306.6 L44.6,300.3 L39.4,293.7 L34.4,288.0 L33.2,276.1 L33.1,263.7 L32.8,251.0 L33.4,206.4 L32.1,164.0Z" fill="#bcb0b4" fill-opacity="0.56"/>
<path d="M-3.6,34.5 L-3.9,35.0 L-3.1,36.6 L-2.4,36.8 L-14.1,42.3 L-24.5,46.9 L-37.2,53.0 L-56.7,51.0 L-75.8,49.7 L-94.6,48.6 L-68.7,42.8 L-43.8,38.8 L-17.0,32.5 L-12.6,32.7 L-8.1,33.4Z" fill="#a4afca" fill-opacity="0.85"/>
<path d="M19.3,50.0 L19.4,49.4 L21.5,48.8 L21.5,47.9 L23.0,48.4 L23.6,48.1 L26.0,48.7 L24.1,50.6 L22.8,51.3 L20.8,52.6 L20.4,51.9 L19.7,51.6Z" fill="#c0c0d2" fill-opacity="0.65"/>
<path d="M90.3,12.6 L93.7,13.0 L96.4,14.5 L98.3,14.4 L99.2,13.8 L99.9,14.9 L99.6,15.0 L95.1,20.1 L91.0,24.7 L86.4,28.9 L85.1,28.2 L84.3,28.2 L82.0,28.7 L81.6,25.5 L80.3,23.4 L80.7,20.7 L83.7,17.3 L87.7,15.4Z" fill="#b4aebe" fill-opacity="0.69"/>
<path d="M54.3,24.5 L54.8,22.3 L54.2,22.1 L53.8,20.1 L55.4,18.1 L58.6,17.9 L60.5,16.6 L60.8,18.7 L63.4,19.8 L63.9,22.8 L61.8,24.4 L60.0,25.7 L58.1,26.2 L56.2,26.0 L55.6,25.0Z" fill="#bcb0b4" fill-opacity="0.84"/>
<path d="M17.1,18.5 L17.1,17.4 L18.3,16.8 L18.0,17.2 L20.1,17.5 L22.2,16.4 L25.4,15.5 L25.6,17.0 L25.6,18.4 L25.3,20.7 L24.9,22.1 L23.8,21.4 L22.4,23.0 L20.4,20.9 L19.8,19.1Z" fill="#b6bccf" fill-opacity="0.58"/>
<path d="M13.9,19.5 L15.4,18.4 L15.9,19.9 L16.3,19.0 L18.4,19.8 L20.2,21.4 L21.9,23.7 L21.7,25.0 L21.7,24.7 L21.2,26.0 L21.4,26.2 L20.1,26.3 L20.0,26.8 L17.5,25.2 L15.4,23.1 L13.1,21.3 L13.1,20.2 L13.9,19.4Z" fill="#b6bccf" fill-opacity="0.54"/>
<path d="M1.0,22.4 L-2.3,23.9 L-5.8,27.6 L-8.4,28.8 L-5.0,29.4 L-1.1,28.2 L1.8,28.6 L3.2,28.5 L2.9,27.0 L4.6,26.6 L3.2,25.3 L2.3,23.8Z" fill="#b6bccf" fill-opacity="0.84"/>
<path d="M-0.7,66.9 L1.2,63.9 L5.0,60.4 L7.7,56.5 L6.1,55.8 L5.1,54.1 L3.9,53.6 L0.3,54.4 L-2.3,55.4 L-6.8,55.3 L-10.9,56.2 L-15.3,56.7 L-20.3,58.1 L-14.1,61.6 L-7.8,63.2 L-0.9,67.1 L-1.7,66.2 L-0.4,66.2Z" fill="#c0c0d2" fill-opacity="0.66"/>
<path d="M48.9,-17.1 L48.0,-19.0 L46.1,-21.0 L45.2,-23.1 L32.1,-73.3 L20.0,-123.4 L5.7,-175.2 L6.0,-177.0 L5.0,-178.1 L4.8,-180.5 L19.5,-200.3 L35.5,-221.6 L50.7,-242.0 L71.9,-214.6 L95.0,-188.5 L116.8,-160.8 L108.4,-133.5 L101.3,-105.6 L93.1,-76.5 L87.2,-59.9 L83.7,-44.6 L77.8,-27.0 L75.2,-23.0 L70.4,-17.9 L67.4,-12.3 L65.2,-11.9 L63.0,-11.3 L60.8,-10.1 L56.9,-12.0 L52.7,-15.2Z" fill="#bcb0b4" fill-opacity="0.79"/>
<path d="M84.3,7.1 L84.0,7.2 L84.6,6.1 L84.1,6.5 L83.4,5.3 L83.9,5.0 L82.6,4.2 L79.7,6.9 L77.1,9.9 L74.0,11.8 L76.6,14.8 L76.8,16.2 L79.4,18.8 L80.9,15.0 L83.3,11.9Z" fill="#a4afca" fill-opacity="0.61"/>
<path d="M26.8,20.1 L27.5,21.0 L29.1,21.1 L29.6,21.2 L31.9,17.8 L33.4,15.6 L34.5,11.9 L34.4,11.3 L34.0,12.0 L34.0,11.2 L32.8,11.2 L30.3,12.6 L28.0,12.1 L28.4,12.4 L27.2,13.3 L26.9,14.8 L27.4,17.0 L27.6,18.1Z" fill="#bcb0b4" fill-opacity="0.85"/>
<path d="M48.2,4.8 L44.0,6.7 L40.9,7.5 L36.2,8.2 L39.2,2.3 L40.2,-4.5 L43.6,-12.2 L44.0,-9.6 L45.4,-7.3 L47.4,-6.0 L47.1,-3.1 L47.3,1.3Z" fill="#c0c0d2" fill-opacity="0.65"/>
<path d="M85.3,2.1 L87.1,1.0 L89.3,1.3 L91.3,1.2 L92.5,-19.7 L94.9,-42.3 L96.3,-64.0 L92.2,-48.1 L86.0,-34.0 L82.0,-17.4 L81.8,-11.0 L83.6,-5.9 L83.8,-0.1 L84.5,1.5 L84.8,0.5Z" fill="#b6bccf" fill-opacity="0.51"/>
<path d="M23.4,24.2 L24.4,22.9 L26.1,23.3 L26.3,21.9 L26.8,22.4 L29.0,22.4 L29.1,23.0 L30.2,23.5 L31.9,23.8 L32.1,24.7 L30.8,26.2 L30.8,26.7 L30.1,28.6 L30.9,27.9 L29.9,28.4 L30.1,28.7 L28.5,27.5 L25.3,27.8 L23.2,26.8 L22.6,26.0 L23.2,25.8 L22.8,26.4 L22.8,24.9 L23.5,25.4Z" fill="#b4aebe" fill-opacity="0.80"/>
<path d="M-9.5,-7.9 L-51.1,-21.1 L-90.3,-33.8 L-133.1,-46.8 L-91.8,-87.5 L-49.3,-127.6 L-6.9,-168.5 L-7.2,-166.6 L-6.0,-165.8 L-6.1,-163.7 L-2.0,-121.2 L1.1,-78.4 L5.0,-35.7 L5.4,-32.0 L4.4,-26.4 L5.3,-22.3 L0.6,-18.2 L-3.8,-13.4Z" fill="#b6bccf" fill-opacity="0.63"/>
<path d="M31.5,30.3 L31.6,29.9 L31.6,30.9 L31.6,30.3 L34.7,31.3 L38.8,32.7 L41.1,33.6 L41.9,34.4 L40.3,34.1 L41.1,33.6 L39.4,35.7 L35.3,36.8 L33.6,39.6 L32.0,38.2 L31.2,38.9 L30.7,37.3 L30.5,34.8 L30.5,31.9Z" fill="#a4afca" fill-opacity="0.83"/>
<path d="M91.5,75.6 L89.9,77.0 L86.4,78.2 L85.1,79.5 L82.4,91.0 L78.9,103.2 L75.5,114.6 L73.8,121.3 L73.6,128.8 L71.6,134.8 L70.1,188.0 L67.5,243.3 L65.0,298.7 L116.2,245.5 L166.1,190.8 L218.2,135.5 L177.7,116.4 L139.1,96.9 L97.6,76.0 L95.3,75.4 L93.3,76.0Z" fill="#b6bccf" fill-opacity="0.52"/>
<path d="M0.9,39.8 L-0.7,40.0 L-1.2,38.3 L-1.7,38.0 L-11.2,42.2 L-23.1,48.5 L-33.2,52.7 L-32.1,52.1 L-32.4,52.9 L-31.2,52.9 L-20.5,50.4 L-10.7,45.9 L0.9,42.9 L1.2,41.7 L0.3,40.0Z" fill="#b4aebe" fill-opacity="0.61"/>
<path d="M30.8,67.6 L30.2,66.7 L29.3,67.5 L28.4,66.8 L26.9,70.6 L25.0,74.5 L23.3,77.2 L25.3,83.4 L27.1,91.1 L29.6,97.2 L32.1,91.5 L34.0,85.2 L35.8,78.6 L34.9,76.8 L35.4,73.8 L34.3,71.0 L34.0,70.3 L31.4,69.5Z" fill="#bcb0b4" fill-opacity="0.71"/>
<path d="M49.3,5.3 L49.4,1.2 L48.2,-2.1 L48.5,-5.2 L53.2,-3.4 L55.7,-1.0 L60.2,1.7 L59.1,4.1 L58.1,5.3 L58.3,8.6 L55.9,7.8 L53.3,6.9 L49.9,6.8 L49.9,5.4 L49.2,5.4Z" fill="#c0c0d2" fill-opacity="0.52"/>
<path d="M-7.5,12.6 L-7.1,11.7 L-7.4,11.9 L-7.7,11.3 L-9.7,11.3 L-10.7,8.9 L-12.9,8.8 L-59.0,-5.3 L-103.8,-19.6 L-150.2,-34.4 L-169.3,-16.7 L-189.1,1.8 L-209.5,19.3 L-145.6,18.5 L-82.2,18.7 L-17.1,17.1 L-14.0,16.1 L-10.7,13.4Z" fill="#bcb0b4" fill-opacity="0.81"/>
<path d="M86.0,6.9 L86.6,6.9 L86.8,5.8 L85.9,6.4 L87.9,6.7 L90.1,6.6 L91.8,5.5 L93.6,7.4 L95.7,9.6 L97.9,12.5 L95.2,11.4 L93.5,10.7 L90.4,10.8 L89.5,9.5 L88.0,8.5Z" fill="#b6bccf" fill-opacity="0.81"/>
<path d="M50.9,27.5 L49.1,28.9 L46.4,30.0 L43.7,31.0 L43.2,28.2 L40.9,26.5 L40.6,23.2 L41.4,21.0 L42.6,21.2 L42.4,19.0 L43.8,18.3 L45.5,18.9 L46.4,18.0 L48.8,18.9 L50.5,20.4 L51.8,20.4 L52.4,21.7 L51.5,22.8 L52.3,24.7 L51.9,26.4 L50.7,26.8Z" fill="#c0c0d2" fill-opacity="0.63"/>
<path d="M31.0,64.1 L29.9,63.0 L30.2,63.4 L28.6,63.3 L28.7,61.2 L27.2,60.8 L26.8,59.0 L26.6,58.4 L27.6,57.2 L28.2,57.6 L30.5,59.1 L33.3,58.1 L36.1,59.6 L36.4,59.3 L36.0,60.3 L36.1,59.6 L33.8,60.4 L32.5,62.6Z" fill="#c0c0d2" fill-opacity="0.69"/>
<path d="M16.8,51.0 L16.1,53.7 L14.2,55.8 L13.6,57.1 L14.8,57.0 L14.8,58.2 L15.1,59.1 L15.8,59.2 L18.6,59.1 L19.1,59.5 L20.3,58.4 L21.5,57.9 L22.5,58.0 L21.4,57.5 L21.4,55.5 L20.1,53.6 L20.1,53.2 L20.0,52.3 L18.6,50.9 L18.6,51.0 L17.9,51.2Z" fill="#b6bccf" fill-opacity="0.54"/>
<path d="M66.4,70.6 L63.7,71.4 L63.3,72.1 L60.8,74.1 L61.2,76.2 L59.7,77.4 L60.4,80.2 L62.5,96.9 L66.1,113.5 L68.0,130.0 L68.4,123.6 L70.6,116.8 L71.9,110.1 L71.2,98.0 L71.3,85.6 L70.6,71.8 L68.6,71.1 L67.2,70.5Z" fill="#b6bccf" fill-opacity="0.51"/>
<path d="M58.8,77.7 L55.4,75.4 L51.1,72.2 L46.6,70.1 L46.8,68.9 L47.5,66.4 L48.3,65.6 L50.0,64.3 L51.0,64.4 L52.6,64.4 L52.9,64.0 L55.2,65.3 L55.3,65.1 L55.7,67.0 L57.1,70.2 L59.3,71.8 L59.8,73.5 L59.7,75.8Z" fill="#bcb0b4" fill-opacity="0.78"/>
<path d="M42.1,35.6 L43.4,39.0 L44.7,42.8 L46.4,47.9 L45.8,47.8 L44.8,48.2 L42.7,49.2 L40.2,47.3 L37.4,45.3 L35.1,44.5 L34.1,44.4 L35.1,41.9 L34.7,41.5 L38.0,39.2 L39.8,37.4Z" fill="#b6bccf" fill-opacity="0.65"/>
<path d="M60.6,61.0 L59.5,61.9 L59.0,64.1 L56.9,64.6 L57.5,65.9 L59.2,68.0 L60.5,70.5 L61.3,69.4 L63.4,68.2 L65.4,67.4 L65.5,64.4 L65.5,62.9 L66.3,59.9 L64.0,61.1 L62.3,61.0Z" fill="#b4aebe" fill-opacity="0.51"/>
<path d="M105.0,4.0 L106.3,3.6 L106.0,5.2 L106.3,4.6 L151.0,-8.3 L194.9,-18.8 L240.8,-31.9 L202.4,-70.5 L165.7,-107.8 L126.0,-147.6 L118.3,-121.1 L111.3,-94.6 L103.7,-68.3 L101.2,-47.6 L101.0,-24.7 L98.7,-3.2 L100.7,-0.5 L102.0,1.3Z" fill="#b6bccf" fill-opacity="0.67"/>
<ellipse cx="18.2" cy="49.5" rx="2.1" ry="1.9" transform="rotate(85 18.2 49.5)" fill="#b58068" fill-opacity="0.32"/>
<ellipse cx="94.0" cy="22.3" rx="5.0" ry="3.2" transform="rotate(153 94.0 22.3)" fill="#c09080" fill-opacity="0.28"/>
<ellipse cx="15.3" cy="59.5" rx="3.8" ry="4.0" transform="rotate(60 15.3 59.5)" fill="#b58068" fill-opacity="0.29"/>
<ellipse cx="62.9" cy="56.0" rx="3.6" ry="2.8" transform="rotate(91 62.9 56.0)" fill="#8c5a48" fill-opacity="0.34"/>
<ellipse cx="2.1" cy="60.9" rx="2.9" ry="2.0" transform="rotate(170 2.1 60.9)" fill="#a46a50" fill-opacity="0.20"/>
<ellipse cx="67.1" cy="27.8" rx="3.6" ry="3.8" transform="rotate(152 67.1 27.8)" fill="#b58068" fill-opacity="0.35"/>
<ellipse cx="35.8" cy="64.5" rx="4.5" ry="2.3" transform="rotate(100 35.8 64.5)" fill="#8c5a48" fill-opacity="0.23"/>
<ellipse cx="61.5" cy="0.5" rx="5.0" ry="2.0" transform="rotate(11 61.5 0.5)" fill="#b58068" fill-opacity="0.38"/>
<ellipse cx="7.7" cy="60.2" rx="4.5" ry="3.5" transform="rotate(54 7.7 60.2)" fill="#b58068" fill-opacity="0.40"/>
<ellipse cx="52.6" cy="67.7" rx="2.3" ry="3.7" transform="rotate(126 52.6 67.7)" fill="#8c5a48" fill-opacity="0.36"/>
<ellipse cx="56.5" cy="16.4" rx="5.5" ry="3.6" transform="rotate(131 56.5 16.4)" fill="#c09080" fill-opacity="0.39"/>
<ellipse cx="57.0" cy="41.9" rx="3.5" ry="3.3" transform="rotate(43 57.0 41.9)" fill="#b58068" fill-opacity="0.27"/>
<ellipse cx="40.6" cy="61.7" rx="4.8" ry="1.9" transform="rotate(90 40.6 61.7)" fill="#b58068" fill-opacity="0.20"/>
<ellipse cx="16.2" cy="60.0" rx="5.5" ry="1.8" transform="rotate(77 16.2 60.0)" fill="#c09080" fill-opacity="0.25"/>
<ellipse cx="38.9" cy="64.6" rx="4.7" ry="3.5" transform="rotate(16 38.9 64.6)" fill="#b58068" fill-opacity="0.22"/>
<ellipse cx="82.5" cy="13.7" rx="2.3" ry="3.8" transform="rotate(164 82.5 13.7)" fill="#a46a50" fill-opacity="0.33"/>
<ellipse cx="9.5" cy="59.9" rx="4.7" ry="2.6" transform="rotate(79 9.5 59.9)" fill="#b58068" fill-opacity="0.28"/>
<ellipse cx="25.1" cy="46.9" rx="5.2" ry="2.3" transform="rotate(116 25.1 46.9)" fill="#b58068" fill-opacity="0.33"/>
<ellipse cx="37.0" cy="7.2" rx="4.6" ry="3.9" transform="rotate(81 37.0 7.2)" fill="#b58068" fill-opacity="0.37"/>
<ellipse cx="93.5" cy="26.2" rx="2.1" ry="1.7" transform="rotate(122 93.5 26.2)" fill="#a46a50" fill-opacity="0.26"/>
<ellipse cx="23.4" cy="54.4" rx="2.1" ry="1.9" transform="rotate(102 23.4 54.4)" fill="#b58068" fill-opacity="0.35"/>
<ellipse cx="17.1" cy="66.7" rx="2.0" ry="3.6" transform="rotate(101 17.1 66.7)" fill="#b58068" fill-opacity="0.23"/>
<ellipse cx="63.5" cy="20.7" rx="5.4" ry="2.7" transform="rotate(54 63.5 20.7)" fill="#b58068" fill-opacity="0.34"/>
<ellipse cx="44.3" cy="28.9" rx="3.0" ry="2.0" transform="rotate(61 44.3 28.9)" fill="#b58068" fill-opacity="0.20"/>
<ellipse cx="43.7" cy="54.4" rx="3.2" ry="3.2" transform="rotate(13 43.7 54.4)" fill="#a46a50" fill-opacity="0.30"/>
<ellipse cx="29.5" cy="54.4" rx="3.4" ry="2.6" transform="rotate(47 29.5 54.4)" fill="#c09080" fill-opacity="0.38"/>
<ellipse cx="52.2" cy="58.6" rx="2.2" ry="2.0" transform="rotate(106 52.2 58.6)" fill="#a46a50" fill-opacity="0.24"/>
<ellipse cx="40.8" cy="43.1" rx="4.0" ry="3.2" transform="rotate(90 40.8 43.1)" fill="#8c5a48" fill-opacity="0.24"/>
<ellipse cx="5.1" cy="9.1" rx="4.9" ry="2.2" transform="rotate(77 5.1 9.1)" fill="#c09080" fill-opacity="0.24"/>
<ellipse cx="2.6" cy="51.9" rx="3.3" ry="2.5" transform="rotate(10 2.6 51.9)" fill="#a46a50" fill-opacity="0.31"/>
<ellipse cx="66.8" cy="60.7" rx="4.0" ry="3.9" transform="rotate(90 66.8 60.7)" fill="#a46a50" fill-opacity="0.27"/>
<ellipse cx="67.8" cy="65.1" rx="2.4" ry="2.9" transform="rotate(139 67.8 65.1)" fill="#a46a50" fill-opacity="0.30"/>
<path d="M13.0 -8.9L6.9 -2.3L0.2 2.4L-5.7 9.2" fill="none" stroke="#8c5a48" stroke-width="0.85" stroke-opacity="0.8" stroke-linecap="round"/>
<path d="M8.4 3.2L6.0 6.7L2.8 8.4L0.2 12.1" fill="none" stroke="#8c5a48" stroke-width="1.1" stroke-opacity="0.95" stroke-linecap="round"/>
<path d="M43.6 -13.4L40.6 -5.6L38.4 1.4L35.3 9.3" fill="none" stroke="#8c5a48" stroke-width="0.6" stroke-opacity="0.6" stroke-linecap="round"/>
<path d="M0.2 12.1L0.3 12.3L-0.1 13.7L0.5 13.6M59.1 9.3L55.7 8.0L53.3 7.4L49.3 7.3M-10.3 29.4L-5.7 27.3L-1.9 24.5L1.3 21.5M4.1 38.5L4.0 38.0L3.6 38.3L4.6 37.9M73.4 37.7L73.6 40.1L73.5 43.2L73.0 46.2" fill="none" stroke="#c09080" stroke-width="1.1" stroke-opacity="0.6" stroke-linecap="round"/>
<path d="M61.3 1.5L61.0 4.1L59.9 6.7L59.1 9.3M27.6 11.4L24.6 9.0L21.1 6.3L18.3 3.3" fill="none" stroke="#c09080" stroke-width="0.6" stroke-opacity="0.6" stroke-linecap="round"/>
<path d="M61.3 1.5L56.3 -0.7L51.9 -3.9L47.8 -6.5M60.1 72.1L62.1 71.1L64.1 69.1L66.4 68.2M75.2 55.5L74.1 54.0L74.2 54.1L73.9 53.2" fill="none" stroke="#b58068" stroke-width="0.85" stroke-opacity="0.95" stroke-linecap="round"/>
<path d="M59.1 9.3L60.2 11.8L60.4 12.5L61.2 14.9" fill="none" stroke="#c09080" stroke-width="0.85" stroke-opacity="0.95" stroke-linecap="round"/>
<path d="M68.9 -1.1L69.3 3.1L71.2 7.1L71.8 11.7M90.5 51.2L85.6 51.3L80.3 49.4L74.2 49.4" fill="none" stroke="#a46a50" stroke-width="1.1" stroke-opacity="0.6" stroke-linecap="round"/>
<path d="M99.3 39.8L98.3 42.0L97.2 45.1L96.3 46.9M27.8 64.1L29.6 65.2L29.7 65.2L31.0 65.1" fill="none" stroke="#8c5a48" stroke-width="0.6" stroke-opacity="0.95" stroke-linecap="round"/>
<path d="M34.8 10.4L35.3 11.3L34.8 11.7L35.4 11.2M47.5 65.1L47.6 67.3L47.0 67.9L45.6 70.2M29.9 48.8L28.6 50.7L27.8 54.8L27.4 56.7" fill="none" stroke="#8c5a48" stroke-width="0.6" stroke-opacity="0.8" stroke-linecap="round"/>
<path d="M49.3 7.3L48.4 9.9L48.0 13.6L46.3 16.8M96.2 59.7L96.2 63.2L97.6 66.1L97.3 69.7M23.4 58.5L23.6 59.0L25.2 58.3L25.6 58.5M80.7 30.1L80.3 27.1L79.0 24.2L79.2 20.8M42.9 32.7L42.3 33.7L43.5 32.9L42.8 33.2" fill="none" stroke="#b58068" stroke-width="0.85" stroke-opacity="0.8" stroke-linecap="round"/>
<path d="M46.3 16.8L44.4 16.8L42.5 18.0L41.4 18.0" fill="none" stroke="#a46a50" stroke-width="0.85" stroke-opacity="0.8" stroke-linecap="round"/>
<path d="M0.9 36.3L0.1 35.1L0.4 35.0L-0.4 33.8M15.8 31.4L17.0 30.4L18.4 28.8L20.4 27.5" fill="none" stroke="#a46a50" stroke-width="0.85" stroke-opacity="0.95" stroke-linecap="round"/>
<path d="M51.3 48.9L50.8 49.6L48.6 48.7L48.0 49.0" fill="none" stroke="#c09080" stroke-width="0.6" stroke-opacity="0.95" stroke-linecap="round"/>
<path d="M48.0 49.0L47.3 49.3L44.9 49.8L43.4 50.6M92.1 4.7L89.1 5.1L87.7 5.8L84.8 5.9M30.7 29.3L35.4 30.9L38.8 31.4L42.6 33.5M73.9 53.2L71.6 54.3L70.1 56.3L67.5 58.6" fill="none" stroke="#b58068" stroke-width="0.6" stroke-opacity="0.8" stroke-linecap="round"/>
<path d="M61.2 14.9L60.6 14.5L60.4 15.9L60.9 15.5M14.3 31.5L12.7 29.9L10.5 29.3L8.1 27.3" fill="none" stroke="#a46a50" stroke-width="1.1" stroke-opacity="0.8" stroke-linecap="round"/>
<path d="M35.4 11.2L32.9 14.6L30.8 18.6L29.5 22.5M22.5 38.5L20.0 36.2L18.7 33.9L15.8 31.4" fill="none" stroke="#a46a50" stroke-width="0.6" stroke-opacity="0.6" stroke-linecap="round"/>
<path d="M8.5 15.9L6.2 16.7L4.8 17.3L1.8 17.0M37.3 79.2L36.2 75.6L36.7 73.3L35.3 69.5M22.6 23.9L19.7 22.1L17.6 20.6L16.1 18.3" fill="none" stroke="#b58068" stroke-width="0.85" stroke-opacity="0.6" stroke-linecap="round"/>
<path d="M-10.5 18.5L-6.7 19.3L-2.4 20.5L1.1 20.8M71.1 69.5L70.0 68.7L68.0 69.2L66.4 68.2" fill="none" stroke="#c09080" stroke-width="0.85" stroke-opacity="0.8" stroke-linecap="round"/>
<path d="M1.1 20.8L1.4 20.3L1.4 21.2L1.3 21.5M-7.2 54.9L-3.8 54.9L0.3 53.8L4.6 52.9M4.1 42.3L4.9 43.3L6.5 43.7L7.1 44.7" fill="none" stroke="#c09080" stroke-width="1.1" stroke-opacity="0.95" stroke-linecap="round"/>
<path d="M4.6 37.9L7.6 37.7L10.1 37.6L12.7 36.3M58.1 26.9L56.7 26.5L55.3 25.1L53.5 25.0" fill="none" stroke="#8c5a48" stroke-width="0.85" stroke-opacity="0.6" stroke-linecap="round"/>
<path d="M20.5 53.3L20.9 55.4L22.5 56.6L23.4 58.5M76.9 62.0L76.7 62.8L77.3 65.4L77.2 66.1" fill="none" stroke="#8c5a48" stroke-width="1.1" stroke-opacity="0.8" stroke-linecap="round"/>
<path d="M18.7 50.1L17.7 49.7L16.6 49.8L16.5 50.1M75.2 55.5L78.3 55.9L79.9 57.9L83.0 58.4M37.3 79.2L39.7 77.0L42.5 73.6L45.6 70.2M22.4 27.1L22.3 26.2L22.1 26.6L21.8 26.6" fill="none" stroke="#a46a50" stroke-width="0.85" stroke-opacity="0.6" stroke-linecap="round"/>
<path d="M26.9 48.4L24.6 48.3L22.7 47.1L21.5 47.5M65.2 36.3L60.4 39.9L56.1 41.7L52.4 45.1" fill="none" stroke="#8c5a48" stroke-width="0.85" stroke-opacity="0.95" stroke-linecap="round"/>
<path d="M9.8 56.2L10.1 56.8L11.5 56.7L12.7 57.4M83.3 73.6L80.9 70.7L78.7 69.4L77.2 66.1" fill="none" stroke="#b58068" stroke-width="0.6" stroke-opacity="0.6" stroke-linecap="round"/>
<path d="M19.9 41.5L20.4 43.3L21.4 46.0L21.5 47.5M12.7 63.2L12.7 66.7L13.7 69.4L14.8 72.0M17.2 16.8L17.6 13.0L17.9 8.5L18.3 3.3" fill="none" stroke="#b58068" stroke-width="1.1" stroke-opacity="0.6" stroke-linecap="round"/>
<path d="M31.1 47.7L33.4 51.8L34.6 54.7L37.5 59.3M75.2 55.5L75.4 57.2L76.3 60.1L76.9 62.0" fill="none" stroke="#b58068" stroke-width="0.6" stroke-opacity="0.95" stroke-linecap="round"/>
<path d="M84.8 5.9L85.2 5.3L84.4 5.7L85.0 6.6M39.3 23.1L40.2 26.2L42.2 29.6L42.9 32.7" fill="none" stroke="#8c5a48" stroke-width="1.1" stroke-opacity="0.6" stroke-linecap="round"/>
<path d="M33.7 44.7L33.2 44.0L33.3 42.7L33.3 40.9" fill="none" stroke="#b58068" stroke-width="1.1" stroke-opacity="0.8" stroke-linecap="round"/>
<path d="M42.6 33.5L43.3 32.8L43.3 33.5L42.6 33.5" fill="none" stroke="#a46a50" stroke-width="1.1" stroke-opacity="0.95" stroke-linecap="round"/>
<path d="M42.9 32.7L46.5 31.7L48.8 29.6L51.8 28.4" fill="none" stroke="#c09080" stroke-width="0.6" stroke-opacity="0.8" stroke-linecap="round"/>
<ellipse cx="23.0" cy="51.7" rx="2.2" ry="1.9" transform="rotate(39 23.0 51.7)" fill="#27407e" fill-opacity="0.92"/>
<ellipse cx="68.9" cy="65.4" rx="1.4" ry="1.4" transform="rotate(110 68.9 65.4)" fill="#6a90cc" fill-opacity="0.78"/>
<ellipse cx="15.3" cy="14.0" rx="2.4" ry="1.7" transform="rotate(19 15.3 14.0)" fill="#27407e" fill-opacity="0.73"/>
<ellipse cx="10.0" cy="11.6" rx="2.2" ry="2.1" transform="rotate(165 10.0 11.6)" fill="#2e4c90" fill-opacity="0.73"/>
<ellipse cx="76.0" cy="5.3" rx="2.2" ry="1.8" transform="rotate(1 76.0 5.3)" fill="#2e4c90" fill-opacity="0.70"/>
<ellipse cx="52.6" cy="12.6" rx="1.7" ry="1.6" transform="rotate(18 52.6 12.6)" fill="#4f7cc0" fill-opacity="0.63"/>
<ellipse cx="87.2" cy="43.8" rx="2.6" ry="2.7" transform="rotate(36 87.2 43.8)" fill="#4f7cc0" fill-opacity="0.75"/>
<ellipse cx="-4.3" cy="17.9" rx="1.3" ry="1.1" transform="rotate(176 -4.3 17.9)" fill="#27407e" fill-opacity="0.71"/>
<ellipse cx="11.5" cy="66.3" rx="2.2" ry="1.8" transform="rotate(60 11.5 66.3)" fill="#4f7cc0" fill-opacity="0.76"/>
<ellipse cx="100.8" cy="59.8" rx="1.7" ry="1.5" transform="rotate(115 100.8 59.8)" fill="#27407e" fill-opacity="0.77"/>
<ellipse cx="24.1" cy="64.3" rx="2.7" ry="1.9" transform="rotate(178 24.1 64.3)" fill="#4f7cc0" fill-opacity="0.92"/>
<ellipse cx="48.8" cy="58.7" rx="2.7" ry="2.4" transform="rotate(106 48.8 58.7)" fill="#5f8ac8" fill-opacity="0.88"/>
<ellipse cx="35.7" cy="31.2" rx="1.7" ry="1.5" transform="rotate(52 35.7 31.2)" fill="#2e4c90" fill-opacity="0.83"/>
<ellipse cx="28.8" cy="4.4" rx="1.4" ry="1.3" transform="rotate(144 28.8 4.4)" fill="#5f8ac8" fill-opacity="0.68"/>
<ellipse cx="86.1" cy="60.1" rx="1.8" ry="1.2" transform="rotate(179 86.1 60.1)" fill="#4f7cc0" fill-opacity="0.91"/>
<ellipse cx="103.6" cy="52.6" rx="2.5" ry="2.5" transform="rotate(17 103.6 52.6)" fill="#5f8ac8" fill-opacity="0.80"/>
<ellipse cx="56.7" cy="57.9" rx="1.4" ry="1.4" transform="rotate(88 56.7 57.9)" fill="#2e4c90" fill-opacity="0.81"/>
<ellipse cx="44.9" cy="7.6" rx="1.5" ry="1.2" transform="rotate(103 44.9 7.6)" fill="#27407e" fill-opacity="0.86"/>
<ellipse cx="16.9" cy="37.8" rx="1.8" ry="1.7" transform="rotate(110 16.9 37.8)" fill="#2e4c90" fill-opacity="0.62"/>
<ellipse cx="22.0" cy="33.8" rx="2.5" ry="2.5" transform="rotate(4 22.0 33.8)" fill="#3e68b0" fill-opacity="0.64"/>
<ellipse cx="60.9" cy="26.4" rx="1.6" ry="1.4" transform="rotate(130 60.9 26.4)" fill="#6a90cc" fill-opacity="0.67"/>
<ellipse cx="17.1" cy="24.7" rx="2.6" ry="2.0" transform="rotate(21 17.1 24.7)" fill="#2e4c90" fill-opacity="0.89"/>
<ellipse cx="2.3" cy="47.7" rx="2.1" ry="1.9" transform="rotate(1 2.3 47.7)" fill="#4f7cc0" fill-opacity="0.60"/>
<ellipse cx="74.2" cy="72.0" rx="2.1" ry="2.0" transform="rotate(168 74.2 72.0)" fill="#5f8ac8" fill-opacity="0.80"/>
<ellipse cx="0.3" cy="6.6" rx="1.8" ry="1.6" transform="rotate(54 0.3 6.6)" fill="#4f7cc0" fill-opacity="0.78"/>
<ellipse cx="84.9" cy="64.1" rx="2.2" ry="1.9" transform="rotate(38 84.9 64.1)" fill="#5f8ac8" fill-opacity="0.83"/>
<ellipse cx="41.3" cy="67.1" rx="1.8" ry="1.3" transform="rotate(105 41.3 67.1)" fill="#4f7cc0" fill-opacity="0.68"/>
<ellipse cx="93.8" cy="61.3" rx="2.6" ry="1.8" transform="rotate(139 93.8 61.3)" fill="#2e4c90" fill-opacity="0.87"/>
<ellipse cx="16.3" cy="65.7" rx="1.4" ry="1.3" transform="rotate(147 16.3 65.7)" fill="#3e68b0" fill-opacity="0.77"/>
<ellipse cx="37.0" cy="53.4" rx="2.6" ry="2.6" transform="rotate(64 37.0 53.4)" fill="#2e4c90" fill-opacity="0.88"/>
<ellipse cx="8.1" cy="74.7" rx="2.3" ry="2.3" transform="rotate(100 8.1 74.7)" fill="#4f7cc0" fill-opacity="0.64"/>
<ellipse cx="62.2" cy="54.1" rx="2.4" ry="1.7" transform="rotate(4 62.2 54.1)" fill="#27407e" fill-opacity="0.78"/>
<ellipse cx="17.4" cy="47.3" rx="2.5" ry="2.0" transform="rotate(45 17.4 47.3)" fill="#6a90cc" fill-opacity="0.63"/>
<ellipse cx="57.9" cy="43.1" rx="1.6" ry="1.5" transform="rotate(144 57.9 43.1)" fill="#27407e" fill-opacity="0.74"/>
<ellipse cx="32.6" cy="19.9" rx="2.2" ry="1.7" transform="rotate(35 32.6 19.9)" fill="#6a90cc" fill-opacity="0.71"/>
<ellipse cx="12.6" cy="52.9" rx="2.3" ry="1.8" transform="rotate(167 12.6 52.9)" fill="#2e4c90" fill-opacity="0.89"/>
<ellipse cx="5.2" cy="14.0" rx="2.7" ry="2.7" transform="rotate(161 5.2 14.0)" fill="#2e4c90" fill-opacity="0.90"/>
<ellipse cx="1.7" cy="48.6" rx="1.4" ry="0.9" transform="rotate(175 1.7 48.6)" fill="#6a90cc" fill-opacity="0.84"/>
<ellipse cx="57.0" cy="40.0" rx="2.1" ry="1.5" transform="rotate(82 57.0 40.0)" fill="#27407e" fill-opacity="0.60"/>
<ellipse cx="30.8" cy="1.9" rx="2.4" ry="1.9" transform="rotate(105 30.8 1.9)" fill="#2e4c90" fill-opacity="0.72"/>
<ellipse cx="-6.1" cy="77.3" rx="1.9" ry="1.5" transform="rotate(138 -6.1 77.3)" fill="#5f8ac8" fill-opacity="0.63"/>
<ellipse cx="8.7" cy="20.3" rx="2.6" ry="1.9" transform="rotate(14 8.7 20.3)" fill="#27407e" fill-opacity="0.61"/>
<ellipse cx="24.5" cy="44.8" rx="1.5" ry="1.0" transform="rotate(173 24.5 44.8)" fill="#6a90cc" fill-opacity="0.79"/>
<ellipse cx="2.8" cy="34.8" rx="2.5" ry="2.1" transform="rotate(80 2.8 34.8)" fill="#3e68b0" fill-opacity="0.66"/>
<ellipse cx="34.5" cy="63.9" rx="2.6" ry="2.1" transform="rotate(128 34.5 63.9)" fill="#6a90cc" fill-opacity="0.71"/>
<ellipse cx="-5.4" cy="21.9" rx="2.1" ry="1.4" transform="rotate(118 -5.4 21.9)" fill="#3e68b0" fill-opacity="0.89"/>
<ellipse cx="48.9" cy="76.1" rx="2.3" ry="2.1" transform="rotate(58 48.9 76.1)" fill="#3e68b0" fill-opacity="0.61"/>
<ellipse cx="-1.1" cy="37.3" rx="2.7" ry="2.6" transform="rotate(2 -1.1 37.3)" fill="#3e68b0" fill-opacity="0.62"/>
<ellipse cx="22.2" cy="51.9" rx="1.3" ry="1.2" transform="rotate(122 22.2 51.9)" fill="#5f8ac8" fill-opacity="0.70"/>
<ellipse cx="88.4" cy="17.1" rx="1.8" ry="1.7" transform="rotate(98 88.4 17.1)" fill="#27407e" fill-opacity="0.61"/>
<ellipse cx="58.6" cy="22.5" rx="1.4" ry="1.3" transform="rotate(156 58.6 22.5)" fill="#4f7cc0" fill-opacity="0.65"/>
<ellipse cx="21.4" cy="18.3" rx="1.7" ry="1.3" transform="rotate(113 21.4 18.3)" fill="#6a90cc" fill-opacity="0.70"/>
<ellipse cx="17.9" cy="24.2" rx="2.5" ry="2.4" transform="rotate(70 17.9 24.2)" fill="#27407e" fill-opacity="0.87"/>
<ellipse cx="-1.8" cy="28.6" rx="2.5" ry="2.5" transform="rotate(175 -1.8 28.6)" fill="#4f7cc0" fill-opacity="0.91"/>
<ellipse cx="3.7" cy="57.3" rx="1.9" ry="1.5" transform="rotate(126 3.7 57.3)" fill="#2e4c90" fill-opacity="0.72"/>
<ellipse cx="59.4" cy="-5.2" rx="1.4" ry="1.3" transform="rotate(67 59.4 -5.2)" fill="#2e4c90" fill-opacity="0.62"/>
<ellipse cx="81.2" cy="9.1" rx="2.5" ry="2.6" transform="rotate(48 81.2 9.1)" fill="#2e4c90" fill-opacity="0.61"/>
<ellipse cx="29.9" cy="17.7" rx="2.1" ry="1.6" transform="rotate(59 29.9 17.7)" fill="#4f7cc0" fill-opacity="0.90"/>
<ellipse cx="42.2" cy="4.7" rx="1.8" ry="1.5" transform="rotate(87 42.2 4.7)" fill="#27407e" fill-opacity="0.86"/>
<ellipse cx="89.4" cy="4.3" rx="2.1" ry="1.7" transform="rotate(107 89.4 4.3)" fill="#5f8ac8" fill-opacity="0.79"/>
<ellipse cx="27.9" cy="26.3" rx="1.8" ry="1.7" transform="rotate(7 27.9 26.3)" fill="#6a90cc" fill-opacity="0.71"/>
<ellipse cx="-1.9" cy="5.1" rx="2.1" ry="1.5" transform="rotate(174 -1.9 5.1)" fill="#4f7cc0" fill-opacity="0.66"/>
<ellipse cx="34.0" cy="31.0" rx="2.1" ry="1.8" transform="rotate(147 34.0 31.0)" fill="#4f7cc0" fill-opacity="0.70"/>
<ellipse cx="91.9" cy="76.2" rx="1.3" ry="1.3" transform="rotate(101 91.9 76.2)" fill="#6a90cc" fill-opacity="0.62"/>
<ellipse cx="-1.3" cy="37.8" rx="2.2" ry="1.5" transform="rotate(44 -1.3 37.8)" fill="#2e4c90" fill-opacity="0.82"/>
<ellipse cx="30.8" cy="69.5" rx="2.5" ry="2.3" transform="rotate(134 30.8 69.5)" fill="#3e68b0" fill-opacity="0.62"/>
<ellipse cx="55.5" cy="3.5" rx="2.6" ry="2.1" transform="rotate(11 55.5 3.5)" fill="#5f8ac8" fill-opacity="0.92"/>
<ellipse cx="-5.8" cy="14.3" rx="2.2" ry="2.0" transform="rotate(51 -5.8 14.3)" fill="#4f7cc0" fill-opacity="0.74"/>
<ellipse cx="91.0" cy="7.8" rx="2.2" ry="2.2" transform="rotate(17 91.0 7.8)" fill="#4f7cc0" fill-opacity="0.61"/>
<ellipse cx="47.2" cy="26.0" rx="2.5" ry="2.0" transform="rotate(38 47.2 26.0)" fill="#4f7cc0" fill-opacity="0.76"/>
<ellipse cx="32.7" cy="59.9" rx="1.8" ry="1.3" transform="rotate(107 32.7 59.9)" fill="#27407e" fill-opacity="0.76"/>
<ellipse cx="18.9" cy="54.2" rx="2.2" ry="1.7" transform="rotate(73 18.9 54.2)" fill="#6a90cc" fill-opacity="0.82"/>
<ellipse cx="67.1" cy="73.2" rx="2.3" ry="2.1" transform="rotate(123 67.1 73.2)" fill="#3e68b0" fill-opacity="0.70"/>
<ellipse cx="50.6" cy="71.3" rx="2.2" ry="1.4" transform="rotate(17 50.6 71.3)" fill="#4f7cc0" fill-opacity="0.69"/>
<ellipse cx="43.0" cy="43.0" rx="1.5" ry="1.5" transform="rotate(112 43.0 43.0)" fill="#3e68b0" fill-opacity="0.76"/>
<ellipse cx="62.9" cy="64.1" rx="1.8" ry="1.2" transform="rotate(12 62.9 64.1)" fill="#2e4c90" fill-opacity="0.81"/>
<ellipse cx="95.3" cy="4.7" rx="1.6" ry="1.3" transform="rotate(65 95.3 4.7)" fill="#2e4c90" fill-opacity="0.83"/>
<ellipse cx="43.4" cy="57.8" rx="1.4" ry="1.0" transform="rotate(144 43.4 57.8)" fill="#5f8ac8" fill-opacity="0.92"/>
<ellipse cx="16.0" cy="29.3" rx="1.6" ry="1.4" transform="rotate(46 16.0 29.3)" fill="#2e4c90" fill-opacity="0.67"/>
<ellipse cx="4.2" cy="7.0" rx="2.0" ry="1.6" transform="rotate(153 4.2 7.0)" fill="#4f7cc0" fill-opacity="0.70"/>
<ellipse cx="36.8" cy="18.2" rx="1.4" ry="1.1" transform="rotate(57 36.8 18.2)" fill="#4f7cc0" fill-opacity="0.72"/>
<ellipse cx="82.7" cy="48.6" rx="1.3" ry="1.4" transform="rotate(68 82.7 48.6)" fill="#3e68b0" fill-opacity="0.77"/>
<ellipse cx="13.5" cy="61.1" rx="2.4" ry="1.8" transform="rotate(26 13.5 61.1)" fill="#6a90cc" fill-opacity="0.73"/>
<ellipse cx="6.4" cy="11.8" rx="1.8" ry="1.3" transform="rotate(136 6.4 11.8)" fill="#2e4c90" fill-opacity="0.68"/>
<ellipse cx="51.5" cy="43.4" rx="2.1" ry="2.1" transform="rotate(103 51.5 43.4)" fill="#3e68b0" fill-opacity="0.68"/>
<ellipse cx="45.1" cy="7.3" rx="2.7" ry="1.9" transform="rotate(164 45.1 7.3)" fill="#27407e" fill-opacity="0.65"/>
<ellipse cx="43.7" cy="53.2" rx="1.8" ry="1.5" transform="rotate(49 43.7 53.2)" fill="#6a90cc" fill-opacity="0.65"/>
<ellipse cx="67.2" cy="12.9" rx="1.6" ry="1.4" transform="rotate(124 67.2 12.9)" fill="#3e68b0" fill-opacity="0.72"/>
<ellipse cx="60.7" cy="39.7" rx="1.7" ry="1.5" transform="rotate(104 60.7 39.7)" fill="#4f7cc0" fill-opacity="0.65"/>
<ellipse cx="49.5" cy="20.8" rx="2.1" ry="2.2" transform="rotate(161 49.5 20.8)" fill="#2e4c90" fill-opacity="0.85"/>
<ellipse cx="53.0" cy="44.2" rx="2.5" ry="2.2" transform="rotate(23 53.0 44.2)" fill="#27407e" fill-opacity="0.88"/>
<ellipse cx="19.7" cy="41.1" rx="2.1" ry="1.5" transform="rotate(83 19.7 41.1)" fill="#2e4c90" fill-opacity="0.66"/>
<ellipse cx="67.0" cy="10.4" rx="2.6" ry="2.1" transform="rotate(151 67.0 10.4)" fill="#2e4c90" fill-opacity="0.65"/>
<ellipse cx="42.0" cy="34.1" rx="2.1" ry="1.7" transform="rotate(131 42.0 34.1)" fill="#5f8ac8" fill-opacity="0.71"/>
<ellipse cx="59.9" cy="31.1" rx="2.2" ry="1.6" transform="rotate(154 59.9 31.1)" fill="#2e4c90" fill-opacity="0.72"/>
<ellipse cx="90.8" cy="49.5" rx="1.9" ry="1.6" transform="rotate(67 90.8 49.5)" fill="#3e68b0" fill-opacity="0.91"/>
<ellipse cx="65.4" cy="30.3" rx="1.8" ry="1.6" transform="rotate(153 65.4 30.3)" fill="#27407e" fill-opacity="0.71"/>
<ellipse cx="44.7" cy="57.0" rx="1.7" ry="1.6" transform="rotate(178 44.7 57.0)" fill="#5f8ac8" fill-opacity="0.72"/>
<ellipse cx="16.3" cy="70.6" rx="2.1" ry="1.7" transform="rotate(106 16.3 70.6)" fill="#5f8ac8" fill-opacity="0.77"/>
<ellipse cx="29.0" cy="45.1" rx="1.4" ry="1.2" transform="rotate(78 29.0 45.1)" fill="#27407e" fill-opacity="0.85"/>
<ellipse cx="65.4" cy="70.8" rx="2.3" ry="1.7" transform="rotate(56 65.4 70.8)" fill="#4f7cc0" fill-opacity="0.65"/>
<ellipse cx="99.1" cy="12.2" rx="1.4" ry="1.1" transform="rotate(11 99.1 12.2)" fill="#5f8ac8" fill-opacity="0.80"/>
</g></svg>
<rect x="337.6" y="363.3" width="99.4" height="72.0" filter="url(#tb2)"/>
<svg x="337.6" y="363.3" width="99.4" height="72.0" viewBox="0 0 99.4 72.0" overflow="hidden"><g filter="url(#soft)">
<path d="M11.0,54.2 L11.0,55.8 L10.9,56.6 L11.3,57.8 L11.4,58.2 L9.7,59.6 L9.8,60.1 L7.4,60.6 L6.0,60.5 L4.6,59.7 L3.6,58.9 L2.5,59.7 L1.4,59.2 L1.4,59.1 L1.2,59.3 L1.4,58.0 L2.3,54.7 L3.5,50.3 L5.8,46.3 L6.7,48.3 L9.4,52.3Z" fill="#bccbe0" fill-opacity="0.80"/>
<path d="M71.7,67.4 L67.0,79.2 L63.4,89.5 L58.7,101.3 L57.7,94.6 L56.0,85.4 L55.6,78.5 L60.5,74.5 L63.6,71.8 L68.3,67.5 L68.9,67.5 L71.0,68.2Z" fill="#bccbe0" fill-opacity="0.71"/>
<path d="M29.2,21.0 L29.6,18.2 L29.6,17.4 L29.0,14.7 L26.3,13.5 L24.1,12.1 L22.4,10.6 L22.8,13.5 L22.4,16.1 L22.3,19.9 L25.2,20.6 L27.4,20.0 L29.1,21.1 L29.6,20.3 L29.3,20.6Z" fill="#c4d2e6" fill-opacity="0.55"/>
<path d="M86.4,52.2 L87.1,53.1 L85.8,52.6 L86.5,52.9 L84.6,55.0 L81.4,58.8 L78.8,61.3 L77.0,59.9 L76.6,58.8 L75.4,58.0 L74.6,54.5 L72.4,51.0 L71.6,47.3 L71.7,47.4 L73.2,46.3 L72.8,46.7 L76.9,47.7 L82.2,49.5Z" fill="#bccbe0" fill-opacity="0.67"/>
<path d="M27.8,45.4 L26.7,46.8 L26.0,47.6 L24.9,48.0 L24.6,51.1 L25.2,52.8 L24.5,56.1 L26.5,57.1 L27.3,57.6 L29.4,58.4 L29.2,57.1 L30.4,56.4 L31.3,56.5 L31.0,53.0 L32.0,51.1 L31.9,47.6 L29.7,46.5 L28.7,45.9Z" fill="#ced9ea" fill-opacity="0.58"/>
<path d="M4.3,17.5 L4.1,18.3 L3.8,17.1 L3.7,17.6 L2.7,18.1 L3.3,17.6 L3.3,17.1 L4.4,15.7 L5.8,13.4 L6.0,10.3 L6.6,12.5 L6.9,12.5 L7.8,14.6 L6.9,14.7 L6.4,16.2Z" fill="#d8dfeb" fill-opacity="0.61"/>
<path d="M92.3,20.5 L95.7,20.5 L96.6,21.5 L99.8,22.9 L99.1,23.4 L99.6,24.5 L99.0,24.6 L96.3,26.3 L96.0,27.0 L93.5,29.4 L90.6,28.6 L88.7,27.8 L87.0,26.5 L87.0,27.3 L87.5,27.1 L87.0,26.3 L87.4,25.5 L87.7,23.3 L88.6,22.1 L89.9,21.9 L90.6,20.7Z" fill="#ced9ea" fill-opacity="0.51"/>
<path d="M23.9,67.0 L23.3,67.7 L21.8,66.2 L20.3,66.5 L21.4,62.5 L20.8,60.8 L21.3,56.7 L23.0,56.8 L24.1,55.9 L24.5,56.3 L25.3,56.7 L28.4,57.0 L29.3,58.5 L29.2,60.7 L29.3,63.4 L30.0,64.9 L29.0,64.5 L30.2,64.7 L28.9,65.9 L26.7,66.1 L26.2,66.4Z" fill="#c8d2e2" fill-opacity="0.71"/>
<path d="M67.9,8.4 L64.6,11.3 L60.6,13.6 L58.0,15.1 L57.7,13.0 L56.9,12.7 L56.1,10.6 L55.6,9.9 L55.6,10.0 L56.6,9.5 L58.9,6.9 L62.7,3.9 L65.4,1.8 L66.0,3.2 L68.1,5.4 L68.3,7.3 L67.6,7.7 L68.5,7.5Z" fill="#ced9ea" fill-opacity="0.77"/>
<path d="M60.1,53.7 L58.1,54.0 L54.9,55.5 L53.1,55.6 L52.5,52.3 L52.5,50.4 L51.0,46.5 L52.7,47.0 L53.7,47.0 L56.4,47.6 L58.5,49.6 L59.8,50.8Z" fill="#c4d2e6" fill-opacity="0.82"/>
<path d="M13.8,41.0 L14.4,42.9 L15.9,45.0 L16.4,46.8 L14.3,48.3 L12.2,51.7 L11.1,52.9 L10.3,50.3 L7.4,47.4 L6.3,45.6 L6.8,44.0 L5.0,42.6 L5.5,41.5 L6.4,40.6 L7.6,40.1 L8.3,39.9 L10.0,39.4 L12.4,40.8Z" fill="#d8dfeb" fill-opacity="0.54"/>
<path d="M15.1,20.9 L14.5,21.4 L14.8,21.9 L15.4,21.4 L11.1,22.2 L7.7,24.2 L3.8,25.8 L3.8,24.7 L2.4,24.0 L2.3,23.6 L2.8,21.0 L3.2,20.3 L3.5,17.7 L4.1,17.3 L4.0,17.0 L4.3,17.7 L7.8,19.2 L10.5,20.1Z" fill="#d8dfeb" fill-opacity="0.60"/>
<path d="M5.7,10.0 L6.2,9.2 L5.7,7.7 L6.7,7.3 L4.5,8.8 L1.8,9.2 L0.2,9.7 L-0.8,10.4 L-2.0,12.5 L-2.9,13.1 L-1.7,14.3 L1.0,14.7 L3.0,16.6 L3.8,13.8 L4.6,11.4Z" fill="#c8d2e2" fill-opacity="0.76"/>
<path d="M100.1,26.5 L100.4,26.1 L99.3,25.1 L99.4,24.6 L100.5,23.6 L99.5,24.0 L100.2,22.8 L100.5,22.1 L101.6,22.0 L101.6,21.8 L102.8,22.4 L103.3,21.1 L104.0,20.9 L107.8,22.2 L113.5,21.8 L117.4,22.8 L113.6,25.0 L107.3,27.7 L103.4,29.4 L103.2,27.8 L102.1,28.2Z" fill="#c4d2e6" fill-opacity="0.71"/>
<path d="M109.8,29.8 L113.6,27.2 L119.1,24.9 L122.9,23.7 L191.5,25.7 L258.0,29.6 L328.9,31.8 L330.3,33.3 L331.5,34.5 L333.7,35.9 L327.1,41.0 L321.3,46.2 L315.4,50.8 L248.2,47.0 L181.9,41.3 L113.8,37.1 L111.7,35.8 L110.1,35.9 L107.2,34.6 L106.8,34.2 L107.7,33.7 L107.5,33.3 L107.4,32.0 L109.6,30.6Z" fill="#c8d2e2" fill-opacity="0.51"/>
<path d="M57.1,65.7 L58.9,65.7 L60.8,64.6 L62.7,62.9 L64.1,63.2 L66.4,65.1 L68.5,66.2 L64.3,69.5 L59.8,73.7 L54.7,78.2 L55.3,78.0 L54.7,76.0 L53.9,76.2 L53.3,74.5 L54.2,73.7 L54.5,73.7 L54.7,70.3 L57.1,68.4Z" fill="#bccbe0" fill-opacity="0.54"/>
<path d="M68.8,6.7 L67.5,5.8 L66.4,3.2 L66.1,1.5 L66.6,1.2 L66.1,0.3 L66.2,0.2 L69.3,-0.8 L71.2,-2.0 L73.3,-3.3 L73.3,-0.4 L72.4,0.3 L73.1,3.5 L73.1,4.0 L72.4,4.3 L71.4,5.9 L69.9,6.6 L70.2,6.5Z" fill="#c8d2e2" fill-opacity="0.55"/>
<path d="M63.7,44.8 L62.1,48.6 L62.8,50.3 L61.1,53.9 L61.1,53.4 L60.3,53.1 L60.9,53.9 L60.3,51.1 L57.7,48.8 L56.9,47.1 L58.1,46.4 L59.5,43.4 L61.7,42.4 L61.6,43.6 L62.3,44.6Z" fill="#bccbe0" fill-opacity="0.76"/>
<path d="M17.9,1.9 L17.7,2.1 L18.0,1.9 L18.0,1.0 L14.5,-1.1 L11.1,-2.3 L6.1,-3.5 L6.9,-0.5 L7.2,3.2 L9.0,5.4 L9.7,5.2 L10.6,7.6 L12.2,7.5 L11.7,7.9 L12.1,7.9 L12.7,7.4 L13.7,5.8 L15.7,4.0Z" fill="#ced9ea" fill-opacity="0.74"/>
<path d="M93.5,41.1 L91.5,41.7 L89.4,43.3 L86.7,44.8 L84.7,43.1 L83.5,41.5 L83.2,39.3 L86.3,37.2 L90.4,36.1 L95.1,33.8 L96.1,34.7 L96.1,34.8 L95.8,34.6 L94.9,37.3 L93.8,38.3Z" fill="#d8dfeb" fill-opacity="0.63"/>
<path d="M19.3,30.9 L18.9,33.8 L18.9,35.4 L18.1,37.7 L16.9,37.5 L16.2,38.8 L14.3,39.5 L13.3,38.9 L10.4,39.6 L8.8,38.5 L8.5,37.3 L9.2,35.7 L9.3,33.0 L12.1,30.4 L13.6,29.3 L15.6,26.2 L16.2,25.6 L15.5,26.7 L15.8,26.4 L17.8,27.2 L18.7,29.7Z" fill="#c4d2e6" fill-opacity="0.68"/>
<path d="M13.9,67.5 L13.2,64.8 L11.3,62.6 L10.9,60.4 L12.0,60.2 L11.7,59.7 L12.2,58.3 L14.6,57.2 L17.2,58.0 L19.2,56.8 L20.0,56.5 L20.0,56.4 L20.4,57.2 L19.7,59.3 L20.6,63.3 L19.5,65.9 L17.6,66.7 L16.1,66.9Z" fill="#bccbe0" fill-opacity="0.57"/>
<path d="M49.2,-3.9 L50.1,0.5 L51.7,3.7 L52.7,8.6 L51.4,7.6 L49.3,8.1 L46.7,7.1 L45.2,1.4 L44.0,-5.7 L41.8,-11.4 L44.8,-9.5 L47.5,-7.2Z" fill="#c8d2e2" fill-opacity="0.71"/>
<path d="M92.0,6.1 L90.1,-5.2 L89.0,-17.6 L86.8,-30.4 L83.4,-22.7 L82.0,-15.4 L78.3,-8.6 L80.4,-3.1 L81.3,2.9 L82.4,8.6 L81.9,9.2 L82.4,9.1 L82.8,9.3 L86.3,9.2 L88.4,7.5Z" fill="#ced9ea" fill-opacity="0.64"/>
<path d="M32.3,-7.0 L32.2,-6.3 L32.4,-7.3 L32.1,-6.9 L28.1,-8.7 L26.0,-9.5 L22.0,-10.1 L20.7,-74.1 L19.6,-137.8 L17.9,-202.5 L21.7,-207.0 L25.6,-211.8 L29.5,-215.8 L33.1,-156.7 L35.6,-100.1 L39.5,-39.3 L39.1,-33.4 L40.1,-27.8 L39.5,-20.6 L36.3,-16.0 L34.7,-12.1Z" fill="#bccbe0" fill-opacity="0.64"/>
<path d="M78.0,-7.7 L76.0,-5.5 L76.1,-4.5 L74.1,-3.5 L74.1,-1.0 L73.5,0.3 L73.9,3.2 L76.0,4.3 L78.8,6.3 L81.6,7.8 L80.0,2.4 L79.8,-1.9Z" fill="#bccbe0" fill-opacity="0.75"/>
<path d="M49.9,-3.3 L52.1,-1.4 L55.0,-0.1 L56.2,1.0 L56.6,3.6 L56.6,6.8 L56.1,9.1 L56.1,8.9 L55.0,9.5 L55.7,10.1 L55.6,9.6 L53.4,9.0 L53.3,9.0 L52.2,4.2 L50.4,0.2Z" fill="#c8d2e2" fill-opacity="0.63"/>
<path d="M50.4,57.2 L48.8,56.7 L45.6,55.1 L44.4,54.8 L43.9,52.5 L45.2,50.0 L44.9,46.3 L46.5,46.2 L46.8,45.5 L48.1,45.3 L48.6,46.1 L49.7,45.4 L49.7,45.5 L49.6,45.2 L49.9,46.5 L50.3,46.2 L51.6,49.7 L52.1,51.8 L52.5,56.0 L52.7,56.1 L52.4,57.1 L52.0,56.6 L51.4,57.3 L51.5,56.1Z" fill="#ced9ea" fill-opacity="0.81"/>
<path d="M58.6,21.0 L57.0,22.4 L54.2,24.5 L52.6,25.6 L52.2,28.5 L50.6,30.5 L50.2,34.2 L51.9,36.1 L54.2,37.0 L55.3,37.8 L56.1,38.2 L57.9,37.0 L58.2,37.1 L58.8,31.9 L58.8,27.1 L59.9,22.0 L59.0,22.5 L59.9,20.9Z" fill="#ced9ea" fill-opacity="0.69"/>
<path d="M43.1,27.7 L43.4,30.6 L42.9,32.5 L43.6,33.9 L45.1,35.1 L44.6,35.0 L45.5,34.8 L47.8,34.8 L47.8,33.8 L49.8,34.1 L51.2,32.1 L50.7,28.6 L52.1,25.8 L49.2,26.0 L46.7,26.2Z" fill="#ced9ea" fill-opacity="0.67"/>
<path d="M65.3,1.4 L63.1,4.2 L59.7,6.9 L56.6,9.0 L55.8,5.7 L57.1,4.3 L56.8,0.5 L57.2,-0.3 L59.0,-0.7 L59.6,-1.6 L61.1,-2.5 L61.3,-1.5 L62.9,-1.9 L64.2,-1.0 L65.1,-0.1 L65.5,-0.0 L64.5,0.1 L64.6,0.3Z" fill="#bccbe0" fill-opacity="0.64"/>
<path d="M58.0,19.0 L52.9,19.0 L48.9,18.9 L43.2,18.0 L43.4,14.9 L44.7,12.0 L44.8,8.9 L45.2,9.3 L45.5,8.5 L46.6,7.8 L48.5,8.6 L51.4,9.6 L53.2,9.5 L54.6,9.9 L55.1,10.6 L55.9,10.7 L56.9,13.0 L56.3,12.9 L57.8,15.4 L58.7,16.8 L57.2,17.4Z" fill="#ced9ea" fill-opacity="0.68"/>
<path d="M95.4,78.6 L96.6,78.7 L96.0,79.8 L97.3,80.9 L101.1,135.9 L104.2,190.8 L108.1,246.4 L107.3,247.2 L106.0,248.6 L106.2,248.4 L98.1,192.0 L90.1,133.6 L82.5,75.3 L84.8,75.4 L88.1,76.3 L91.1,76.2 L92.3,76.6 L94.0,78.1Z" fill="#c8d2e2" fill-opacity="0.78"/>
<path d="M7.0,6.7 L4.5,7.9 L1.9,8.0 L0.0,9.3 L0.1,6.9 L-0.2,6.3 L-0.4,4.2 L-0.6,-1.3 L1.4,-4.6 L1.5,-9.9 L3.5,-8.8 L4.4,-6.1 L5.0,-4.4 L6.2,-1.7 L6.9,1.7 L8.2,5.6 L7.0,6.4 L6.7,5.6Z" fill="#c4d2e6" fill-opacity="0.79"/>
<path d="M80.4,38.0 L79.9,36.8 L79.4,36.4 L79.3,35.6 L77.7,34.4 L74.8,34.1 L73.4,33.4 L72.4,33.5 L71.5,35.2 L71.5,35.2 L71.3,37.7 L70.3,41.5 L69.3,44.9 L69.0,44.5 L71.2,45.0 L70.8,46.2 L71.1,46.6 L71.7,46.7 L71.5,46.4 L71.1,46.0 L71.5,46.4 L72.6,45.8 L75.7,42.8 L77.9,40.2Z" fill="#bccbe0" fill-opacity="0.70"/>
<path d="M-15.9,40.8 L-14.4,41.4 L-13.5,41.0 L-12.7,41.7 L-10.9,47.5 L-8.7,51.4 L-5.6,57.8 L-6.3,58.5 L-6.2,58.1 L-5.6,58.9 L-45.7,81.5 L-85.1,106.4 L-127.3,130.1 L-161.4,98.7 L-195.5,69.7 L-230.7,37.4 L-226.8,34.2 L-221.1,30.5 L-217.4,27.0 L-166.8,30.6 L-114.1,32.3 L-62.0,35.3 L-47.3,37.7 L-31.9,38.4Z" fill="#c4d2e6" fill-opacity="0.63"/>
<path d="M100.0,26.7 L100.0,25.6 L99.5,26.2 L99.3,24.9 L97.4,26.4 L95.2,27.9 L93.7,29.7 L94.1,30.3 L95.1,31.3 L95.5,33.4 L95.3,32.8 L96.6,33.8 L96.3,34.2 L97.3,35.0 L99.2,34.0 L99.9,34.6 L100.4,34.1 L100.1,33.8 L100.5,34.5 L100.7,34.3 L100.3,33.3 L100.9,33.1 L100.1,31.3 L101.1,29.5Z" fill="#ced9ea" fill-opacity="0.78"/>
<path d="M26.2,39.7 L27.1,41.1 L26.4,43.7 L27.7,45.4 L28.4,46.7 L29.9,46.4 L31.9,47.6 L33.1,47.6 L35.0,46.0 L37.4,46.1 L37.7,44.9 L37.7,45.9 L39.0,44.6 L38.8,44.0 L38.4,44.6 L38.9,44.0 L35.3,41.0 L33.3,38.1 L30.6,35.0 L28.9,37.3 L26.9,38.6Z" fill="#ced9ea" fill-opacity="0.62"/>
<path d="M95.1,11.3 L95.1,9.6 L94.9,10.0 L95.5,8.4 L96.9,7.5 L98.4,7.9 L99.2,8.2 L100.7,12.3 L101.3,15.5 L103.7,20.5 L103.0,20.2 L101.6,21.5 L101.4,21.3 L98.9,18.5 L97.7,17.6 L95.1,14.7 L95.3,12.9 L94.2,12.2Z" fill="#bccbe0" fill-opacity="0.51"/>
<path d="M22.6,10.3 L23.0,10.0 L24.0,8.5 L23.7,7.5 L27.1,5.2 L28.7,4.8 L32.1,2.3 L31.9,2.1 L31.6,2.4 L32.3,2.3 L33.4,3.4 L33.3,5.2 L34.4,7.9 L32.5,9.5 L31.0,12.4 L29.0,14.3 L26.7,12.9 L25.6,12.0 L22.6,10.3 L21.9,10.8 L22.5,11.0Z" fill="#ced9ea" fill-opacity="0.75"/>
<path d="M28.1,28.9 L24.9,29.7 L23.4,30.1 L20.4,30.2 L18.6,29.4 L18.5,26.8 L17.0,25.8 L20.4,25.9 L24.1,26.3 L28.0,26.3 L27.4,27.5 L27.4,28.9Z" fill="#bccbe0" fill-opacity="0.66"/>
<path d="M-3.4,23.3 L-22.5,25.8 L-41.6,29.6 L-60.5,32.6 L-110.7,29.3 L-161.9,27.9 L-214.9,24.4 L-213.9,24.3 L-212.4,23.1 L-212.2,22.1 L-146.9,19.3 L-83.2,16.5 L-15.8,13.9 L-13.5,13.4 L-11.6,13.7 L-8.7,13.9 L-5.9,16.0 L-5.3,16.9 L-2.6,17.5 L-2.9,17.5 L-1.7,18.1 L-2.3,18.0 L-2.0,19.0 L-3.0,21.0Z" fill="#d8dfeb" fill-opacity="0.51"/>
<path d="M103.6,43.9 L105.1,45.5 L105.0,47.7 L105.5,50.5 L108.9,51.9 L113.3,52.7 L117.0,54.1 L121.5,54.9 L127.4,56.0 L132.6,56.6 L193.2,54.8 L253.5,54.1 L315.5,52.4 L315.3,52.8 L315.3,52.9 L316.1,51.9 L249.4,48.2 L180.1,42.5 L111.4,38.0 L108.1,40.4 L106.4,42.3Z" fill="#c4d2e6" fill-opacity="0.51"/>
<path d="M23.6,75.1 L23.6,72.0 L23.2,70.7 L24.0,67.5 L26.3,67.7 L27.5,66.8 L28.7,66.5 L29.0,68.0 L29.4,70.2 L28.7,72.5 L26.4,73.3 L24.9,74.0Z" fill="#bccbe0" fill-opacity="0.51"/>
<path d="M39.2,19.7 L38.6,15.6 L37.9,13.3 L35.9,9.1 L35.4,9.6 L35.1,8.2 L34.7,8.2 L33.3,9.7 L31.5,11.9 L29.3,14.6 L30.1,16.9 L30.1,19.4 L29.5,20.8 L32.9,20.7 L35.3,20.8 L39.0,20.1 L39.6,19.9 L38.2,19.5Z" fill="#c8d2e2" fill-opacity="0.71"/>
<path d="M-3.6,13.1 L-1.9,11.0 L-1.0,11.4 L-0.3,9.5 L-1.1,8.6 L-0.9,6.4 L-0.7,4.6 L-4.5,6.6 L-8.1,9.8 L-10.8,13.0 L-8.1,13.3 L-6.2,12.3Z" fill="#bccbe0" fill-opacity="0.82"/>
<path d="M15.1,20.4 L17.1,17.8 L18.4,14.8 L20.0,10.8 L16.8,10.0 L16.0,9.0 L12.7,8.1 L11.7,7.9 L13.2,8.6 L12.2,8.2 L11.6,9.5 L12.8,10.8 L11.9,11.8 L13.1,14.4 L14.7,17.6Z" fill="#bccbe0" fill-opacity="0.68"/>
<path d="M94.7,11.4 L92.9,13.8 L89.8,16.4 L87.3,18.7 L87.1,20.2 L88.3,20.1 L88.5,21.8 L89.1,21.8 L91.8,20.6 L92.3,20.2 L92.2,19.3 L93.1,17.5 L94.8,14.8 L94.8,14.4 L94.2,12.6Z" fill="#c8d2e2" fill-opacity="0.73"/>
<path d="M18.7,38.5 L22.0,39.5 L23.9,39.2 L26.1,39.8 L26.4,42.2 L28.0,44.0 L27.6,45.3 L26.2,45.6 L25.4,47.9 L24.8,47.9 L23.2,47.4 L20.1,47.6 L18.4,47.9 L18.9,48.1 L18.5,47.5 L17.3,47.1 L16.2,44.6 L16.1,42.1 L14.5,40.5 L16.5,39.7 L16.9,38.9Z" fill="#bccbe0" fill-opacity="0.56"/>
<path d="M94.9,14.7 L97.6,17.2 L98.6,19.8 L101.6,21.7 L101.8,22.3 L101.2,22.8 L100.1,22.8 L97.1,22.7 L95.2,20.3 L92.4,20.3 L93.4,18.9 L94.0,16.5Z" fill="#c8d2e2" fill-opacity="0.83"/>
<path d="M82.1,23.9 L78.5,23.5 L75.2,22.6 L72.3,21.0 L72.0,21.1 L70.2,23.5 L69.1,23.8 L70.0,26.2 L71.4,29.9 L73.9,32.1 L76.7,32.1 L77.3,34.1 L79.7,34.3 L81.0,32.0 L84.7,28.4 L86.0,26.6 L85.8,27.0 L86.3,25.7 L86.0,26.5 L85.4,26.3 L83.4,25.3Z" fill="#c4d2e6" fill-opacity="0.55"/>
<path d="M61.7,42.1 L60.4,43.1 L57.8,44.4 L56.6,47.0 L55.4,46.9 L52.2,46.4 L50.4,45.8 L50.8,46.1 L50.4,45.8 L49.8,45.1 L50.9,42.0 L52.8,40.5 L55.3,38.1 L55.7,38.0 L57.7,37.1 L58.3,37.4 L59.0,38.6 L59.3,38.4 L60.8,39.2 L61.6,39.3 L61.3,40.3Z" fill="#c8d2e2" fill-opacity="0.70"/>
<path d="M95.7,61.2 L101.1,58.4 L107.1,56.2 L113.7,54.4 L110.2,53.9 L105.7,52.1 L101.6,50.5 L96.7,51.3 L93.3,53.2 L89.5,53.5 L91.5,55.5 L93.5,59.0 L95.6,61.1 L96.2,61.6 L94.8,60.4Z" fill="#c4d2e6" fill-opacity="0.55"/>
<path d="M50.0,60.4 L48.5,62.1 L46.7,63.6 L46.2,65.6 L47.9,68.0 L50.2,71.4 L52.7,75.1 L53.6,75.4 L53.9,74.9 L53.3,75.6 L52.7,74.8 L53.8,73.7 L53.9,73.3 L52.0,68.2 L51.6,65.3Z" fill="#c4d2e6" fill-opacity="0.52"/>
<path d="M38.4,20.8 L34.9,20.5 L32.0,22.1 L29.6,21.6 L29.2,21.6 L29.2,21.1 L29.5,21.6 L29.2,22.6 L28.7,24.9 L29.1,26.0 L29.6,27.5 L28.5,28.1 L29.2,28.7 L30.1,30.0 L30.7,31.2 L31.2,31.8 L33.6,29.1 L36.6,28.1 L40.0,25.8 L39.4,23.5 L39.6,22.1Z" fill="#d8dfeb" fill-opacity="0.69"/>
<path d="M99.4,42.8 L100.0,42.6 L99.0,43.7 L99.7,43.1 L103.0,41.9 L104.1,38.9 L107.2,37.4 L104.3,36.3 L103.6,36.3 L100.7,35.0 L100.2,35.7 L101.1,34.3 L100.2,35.1 L99.1,38.5 L100.1,41.0Z" fill="#ced9ea" fill-opacity="0.65"/>
<path d="M98.3,43.9 L97.9,43.6 L97.8,44.1 L98.6,44.2 L98.7,45.3 L100.5,47.6 L100.4,50.2 L96.1,50.8 L94.4,51.7 L90.0,52.7 L89.5,52.0 L88.3,53.1 L87.7,52.2 L87.3,52.5 L88.4,51.7 L87.6,51.5 L87.8,48.8 L86.7,47.9 L87.3,45.6 L88.8,44.5 L90.7,44.0 L93.6,42.2 L94.7,43.0 L97.0,43.7Z" fill="#bccbe0" fill-opacity="0.73"/>
<path d="M23.1,75.8 L13.2,90.5 L4.6,106.9 L-4.0,122.4 L-1.2,113.1 L2.1,104.4 L4.5,96.0 L7.2,87.3 L10.2,78.3 L13.5,69.0 L15.9,69.1 L17.1,67.7 L19.9,67.2 L21.0,68.1 L22.0,66.6 L23.5,67.7 L22.8,69.7 L23.9,73.7Z" fill="#d8dfeb" fill-opacity="0.62"/>
<path d="M57.0,19.3 L53.4,18.2 L48.0,19.2 L43.6,18.3 L42.4,18.7 L40.3,19.6 L40.0,20.1 L40.3,20.1 L39.7,20.4 L39.8,20.5 L41.2,21.4 L41.8,23.3 L41.5,25.5 L42.9,25.8 L42.5,27.4 L43.2,27.1 L46.3,25.7 L49.5,25.2 L52.0,25.2 L53.1,23.4 L55.3,22.9 L57.7,20.8 L57.9,21.2 L57.2,20.6Z" fill="#c8d2e2" fill-opacity="0.85"/>
<path d="M19.2,1.7 L18.8,2.3 L18.7,0.5 L19.3,0.8 L20.8,0.4 L19.7,-0.9 L21.0,-1.2 L24.0,-0.2 L28.3,1.8 L31.3,2.1 L29.2,3.9 L25.7,4.6 L23.4,6.9 L22.9,5.8 L20.8,3.7Z" fill="#d8dfeb" fill-opacity="0.83"/>
<path d="M17.1,47.6 L16.0,49.5 L13.8,51.2 L11.6,54.0 L11.3,55.6 L12.6,56.8 L11.9,57.5 L13.6,57.1 L16.6,55.7 L19.4,55.8 L19.2,53.8 L18.6,50.6 L18.1,48.3 L17.9,47.6 L17.0,48.2Z" fill="#bccbe0" fill-opacity="0.54"/>
<path d="M14.7,20.6 L12.1,18.9 L8.3,18.6 L4.9,17.6 L5.7,16.3 L6.4,16.4 L8.4,14.7 L10.3,14.5 L10.0,12.4 L11.8,12.2 L13.1,14.2 L13.9,16.6 L14.7,20.1 L15.3,20.5 L14.8,20.3Z" fill="#c4d2e6" fill-opacity="0.71"/>
<path d="M41.8,35.7 L41.2,38.3 L40.4,41.0 L39.3,43.6 L38.7,42.9 L40.0,43.4 L39.4,44.2 L41.3,44.6 L43.4,44.5 L44.5,45.4 L46.0,45.9 L47.2,44.7 L47.5,44.5 L46.9,41.9 L45.3,37.7 L45.2,35.6 L43.9,36.0 L44.2,34.6 L43.3,34.7 L42.5,35.0 L42.7,36.1Z" fill="#ced9ea" fill-opacity="0.83"/>
<path d="M35.6,56.8 L33.7,57.7 L32.6,57.2 L31.6,57.3 L31.3,58.4 L30.7,58.6 L30.0,58.9 L29.5,60.6 L29.7,62.5 L30.7,64.5 L31.5,64.4 L30.7,65.5 L31.2,64.7 L32.9,64.3 L35.3,66.3 L36.6,66.0 L37.5,65.2 L37.8,65.3 L38.4,64.7 L37.0,62.4 L36.7,59.1Z" fill="#c4d2e6" fill-opacity="0.67"/>
<path d="M28.3,25.9 L29.1,24.9 L29.0,22.4 L28.8,21.3 L26.0,21.0 L25.3,20.6 L22.1,20.2 L20.1,21.1 L17.7,20.8 L15.8,21.7 L15.7,22.3 L15.6,24.1 L16.1,25.1 L15.5,24.9 L16.0,25.4 L16.3,25.4 L20.3,25.8 L25.0,25.5Z" fill="#d8dfeb" fill-opacity="0.52"/>
<path d="M22.3,10.4 L21.9,8.8 L23.8,7.9 L23.4,7.5 L22.8,5.5 L19.5,4.4 L18.8,1.8 L16.2,4.5 L15.6,5.8 L12.8,8.1 L15.8,8.7 L18.1,10.3 L20.1,10.7 L20.3,9.9 L20.8,10.3Z" fill="#ced9ea" fill-opacity="0.69"/>
<path d="M79.5,12.2 L76.9,9.5 L73.9,8.1 L72.2,6.5 L72.1,5.3 L72.7,4.6 L73.9,4.0 L77.0,6.1 L79.4,7.3 L82.0,9.0 L81.7,10.1 L82.0,9.6 L82.4,9.7 L82.7,10.5 L81.4,10.0 L81.7,10.9 L81.2,11.6 L79.4,12.2Z" fill="#bccbe0" fill-opacity="0.71"/>
<path d="M68.2,8.4 L64.2,10.5 L60.6,12.7 L57.8,15.4 L58.2,16.8 L57.8,17.1 L58.0,19.0 L57.6,18.8 L59.3,21.0 L58.8,20.7 L59.8,21.7 L59.2,20.5 L60.1,21.7 L63.5,22.4 L64.9,22.7 L68.1,23.4 L69.1,23.1 L70.6,21.0 L71.7,20.4 L73.1,18.9 L73.9,17.7 L74.5,16.2 L72.7,14.2 L69.9,10.7Z" fill="#c4d2e6" fill-opacity="0.78"/>
<path d="M68.9,45.3 L69.5,45.2 L70.7,47.1 L70.6,46.7 L68.8,50.1 L66.8,52.4 L64.7,54.2 L62.6,54.8 L62.1,53.4 L61.1,54.3 L61.8,54.2 L60.8,54.8 L61.0,54.2 L61.6,51.5 L63.1,47.6 L63.9,44.6 L65.2,45.3 L66.5,44.9Z" fill="#d8dfeb" fill-opacity="0.57"/>
<path d="M37.1,66.9 L35.7,65.6 L32.5,65.6 L31.0,65.4 L33.0,69.7 L34.5,74.8 L34.9,79.2 L36.1,76.9 L37.0,74.5 L38.5,71.9 L37.8,69.6 L37.4,69.5Z" fill="#d8dfeb" fill-opacity="0.71"/>
<path d="M68.8,45.2 L68.9,42.2 L69.8,37.6 L71.2,34.8 L68.1,35.4 L64.9,37.8 L60.9,39.2 L61.0,40.4 L61.3,41.6 L61.8,42.0 L62.2,42.1 L63.5,43.1 L63.9,44.6 L65.8,44.9 L66.8,44.2Z" fill="#c4d2e6" fill-opacity="0.60"/>
<path d="M3.0,26.0 L2.2,24.5 L2.9,24.6 L1.6,23.9 L-18.8,27.4 L-37.4,30.0 L-57.6,33.5 L-41.7,35.3 L-25.7,38.1 L-10.2,39.2 L-6.3,35.2 L-1.8,30.0 L3.1,26.3 L3.3,26.7 L3.4,26.3Z" fill="#d8dfeb" fill-opacity="0.71"/>
<path d="M28.7,29.3 L29.0,31.1 L30.1,32.3 L30.9,32.7 L30.7,33.6 L30.9,32.8 L31.0,33.4 L30.4,34.1 L31.2,34.5 L30.5,35.0 L28.4,36.1 L28.4,38.5 L26.3,39.5 L23.2,39.6 L20.8,38.1 L18.9,38.3 L19.9,36.2 L19.3,32.6 L20.2,30.6 L22.7,30.1 L26.7,30.4Z" fill="#d8dfeb" fill-opacity="0.56"/>
<path d="M95.3,70.8 L95.4,70.9 L96.4,71.9 L97.4,73.3 L98.9,70.3 L100.8,68.5 L103.3,66.5 L100.5,64.9 L99.1,63.6 L96.9,63.1 L95.6,65.4 L95.0,68.2Z" fill="#ced9ea" fill-opacity="0.68"/>
<path d="M4.4,41.7 L1.9,42.2 L-1.6,41.4 L-5.7,41.2 L-3.9,45.8 L-1.2,51.7 L1.1,56.9 L2.4,52.9 L4.7,48.8 L5.3,45.8 L4.8,45.0 L4.9,43.7Z" fill="#bccbe0" fill-opacity="0.50"/>
<path d="M98.9,42.6 L99.2,39.9 L99.7,37.0 L99.6,35.2 L98.3,35.4 L97.0,35.6 L96.4,34.9 L95.9,37.3 L94.3,39.5 L94.2,40.9 L95.5,40.6 L98.1,42.3Z" fill="#c4d2e6" fill-opacity="0.66"/>
<path d="M4.7,93.2 L4.7,83.2 L5.6,72.2 L4.9,61.3 L6.1,62.2 L8.6,61.4 L9.7,61.7 L10.8,63.5 L11.6,67.1 L12.8,68.9 L10.9,76.6 L8.1,85.8Z" fill="#c8d2e2" fill-opacity="0.71"/>
<path d="M38.6,71.3 L36.8,73.1 L36.6,76.2 L34.8,78.9 L35.0,79.8 L33.7,79.9 L33.8,81.3 L30.0,154.3 L25.7,225.6 L22.2,300.9 L31.1,312.0 L39.8,322.5 L49.7,334.8 L55.2,327.6 L59.9,320.4 L65.3,314.2 L63.3,244.8 L60.9,174.7 L58.1,103.9 L57.1,95.8 L56.0,86.2 L54.6,77.9 L54.0,76.7 L53.8,77.4 L53.7,75.9 L53.4,74.9 L54.0,76.2 L53.0,75.3 L47.6,73.5 L42.7,73.4Z" fill="#bccbe0" fill-opacity="0.81"/>
<path d="M95.4,61.1 L93.4,58.1 L91.3,56.6 L89.5,53.7 L88.6,53.6 L88.1,53.0 L86.9,53.0 L85.0,56.0 L82.0,59.4 L79.0,61.7 L79.7,62.7 L79.5,62.7 L78.6,63.7 L79.6,65.7 L80.2,66.7 L80.7,67.0 L84.7,66.5 L86.3,67.4 L90.2,68.0 L92.7,66.0 L94.0,63.8Z" fill="#c4d2e6" fill-opacity="0.84"/>
<path d="M220.2,-60.0 L186.2,-95.0 L151.5,-129.3 L115.2,-166.1 L107.1,-122.7 L99.7,-77.6 L91.4,-32.9 L93.1,-22.7 L94.2,-11.1 L96.1,-0.2 L97.8,1.0 L97.1,1.3 L98.8,1.3 L100.0,1.9 L101.1,0.7 L102.1,1.1 L140.3,-18.7 L180.9,-38.4Z" fill="#d8dfeb" fill-opacity="0.72"/>
<path d="M87.1,18.8 L84.8,16.5 L84.2,14.3 L82.0,11.3 L80.5,12.4 L80.5,12.4 L79.7,12.6 L79.1,12.7 L79.5,12.4 L79.0,13.2 L80.6,16.8 L81.9,20.3 L82.5,23.4 L83.6,24.2 L85.2,24.8 L86.6,26.2 L86.6,24.1 L87.4,22.5 L88.2,21.8 L88.1,21.4 L88.1,19.7Z" fill="#c8d2e2" fill-opacity="0.70"/>
<path d="M15.0,25.3 L15.3,24.1 L14.9,23.1 L14.8,22.2 L14.8,21.8 L14.9,22.6 L14.7,22.0 L11.0,23.3 L8.9,24.9 L4.8,25.8 L4.0,25.5 L4.8,26.2 L4.9,26.0 L7.0,27.3 L7.5,29.3 L8.8,31.9 L11.2,28.9 L12.2,27.1Z" fill="#bccbe0" fill-opacity="0.76"/>
<path d="M62.8,-3.3 L57.9,-87.1 L52.7,-172.4 L48.3,-259.2 L42.3,-251.6 L35.9,-242.3 L29.6,-234.3 L32.7,-168.4 L36.2,-104.0 L40.8,-35.6 L47.1,-25.2 L53.7,-14.7 L59.4,-3.0 L60.5,-3.2 L61.6,-3.9Z" fill="#ced9ea" fill-opacity="0.57"/>
<path d="M41.7,56.1 L43.1,55.7 L43.2,56.0 L44.2,55.3 L46.9,55.4 L48.4,56.5 L50.1,57.8 L49.8,58.1 L50.1,59.3 L49.5,59.0 L48.8,60.7 L47.3,63.5 L45.4,64.5 L44.8,63.6 L42.3,64.0 L41.0,64.2 L41.9,62.4 L41.9,58.6Z" fill="#d8dfeb" fill-opacity="0.54"/>
<path d="M54.8,38.2 L53.6,40.0 L51.1,42.2 L49.8,44.7 L49.2,44.8 L48.6,45.4 L48.2,44.5 L47.3,41.6 L45.8,38.8 L45.8,35.4 L46.7,34.8 L49.2,34.4 L50.0,34.7 L51.3,35.5 L52.3,37.5Z" fill="#ced9ea" fill-opacity="0.82"/>
<path d="M23.3,75.9 L14.0,91.1 L4.6,107.7 L-4.5,123.6 L-17.7,156.4 L-30.1,189.0 L-42.9,223.7 L-21.2,247.9 L0.9,274.4 L22.4,299.1 L26.2,227.7 L29.7,155.9 L33.9,82.1 L32.6,78.8 L31.3,76.3 L28.9,73.0 L27.2,74.4 L25.7,75.5Z" fill="#c4d2e6" fill-opacity="0.62"/>
<path d="M24.8,48.1 L25.0,50.5 L24.7,53.4 L24.5,56.1 L23.2,55.7 L21.7,57.1 L21.2,56.5 L20.2,57.1 L20.2,55.4 L19.8,56.0 L19.1,52.7 L19.0,50.2 L18.4,48.0 L20.1,48.0 L22.0,48.2Z" fill="#c4d2e6" fill-opacity="0.52"/>
<path d="M66.7,-12.9 L69.7,-14.8 L70.6,-15.1 L73.6,-16.2 L75.3,-16.8 L76.6,-18.9 L77.4,-20.4 L79.1,-27.6 L83.0,-34.1 L84.9,-39.9 L93.4,-83.2 L99.8,-127.0 L108.7,-172.9 L89.7,-195.6 L71.4,-217.2 L52.8,-240.2 L51.9,-239.2 L52.3,-239.8 L51.5,-238.5 L55.2,-165.1 L59.4,-90.3 L64.3,-14.6 L65.8,-13.8 L65.1,-13.8Z" fill="#bccbe0" fill-opacity="0.55"/>
<path d="M111.4,19.2 L110.3,14.6 L108.1,10.6 L107.1,7.5 L148.2,-13.4 L188.3,-33.6 L230.1,-56.1 L260.5,-27.8 L292.1,0.6 L323.6,28.9 L257.7,27.1 L192.5,24.0 L123.6,21.0 L120.1,20.9 L115.7,20.7Z" fill="#c4d2e6" fill-opacity="0.53"/>
<path d="M132.3,61.0 L190.2,59.4 L249.7,58.0 L309.1,56.9 L245.1,119.9 L180.0,183.3 L113.5,247.9 L109.9,191.9 L106.4,135.1 L102.2,76.0 L104.2,74.3 L106.6,71.9 L107.9,69.6 L115.6,66.9 L123.8,64.4Z" fill="#ced9ea" fill-opacity="0.57"/>
<path d="M95.7,61.3 L96.1,61.5 L96.4,63.0 L96.8,62.9 L96.7,65.8 L95.0,67.5 L95.2,70.8 L93.5,70.2 L92.0,68.7 L90.4,68.1 L91.4,65.5 L93.6,64.4 L95.6,61.2 L96.4,61.8 L95.0,60.4Z" fill="#bccbe0" fill-opacity="0.54"/>
<path d="M41.0,25.9 L37.0,28.5 L35.3,29.5 L31.1,32.6 L30.9,33.3 L31.5,33.5 L31.2,33.3 L34.8,34.6 L38.0,34.7 L41.6,35.1 L41.8,35.2 L43.3,34.4 L43.3,34.0 L43.4,32.1 L42.6,30.1 L42.8,27.6 L42.3,27.7 L41.7,26.3Z" fill="#d8dfeb" fill-opacity="0.81"/>
<path d="M29.1,72.7 L30.8,75.9 L32.2,78.9 L33.9,81.6 L33.6,81.3 L34.5,80.8 L34.8,79.3 L33.4,74.7 L33.1,70.6 L30.9,65.3 L31.5,64.7 L29.7,65.8 L30.2,65.1 L30.0,66.2 L30.3,65.7 L29.0,66.2 L29.0,68.0 L29.2,69.6Z" fill="#d8dfeb" fill-opacity="0.58"/>
<path d="M-18.2,8.2 L-78.0,10.6 L-140.1,12.5 L-201.6,15.8 L-154.4,-29.5 L-106.6,-74.1 L-58.9,-121.1 L-41.5,-85.3 L-24.2,-48.5 L-7.4,-11.9 L-8.4,-7.3 L-8.6,-4.2 L-9.0,0.5 L-11.5,2.5 L-14.9,6.3Z" fill="#d8dfeb" fill-opacity="0.75"/>
<path d="M97.5,61.1 L102.6,58.3 L107.6,56.4 L112.9,55.2 L118.1,55.7 L121.9,56.1 L127.1,57.5 L118.7,60.8 L112.2,62.0 L104.2,65.6 L102.2,63.7 L101.1,63.0 L98.5,62.5 L98.6,61.5 L97.0,61.5Z" fill="#ced9ea" fill-opacity="0.84"/>
<path d="M78.3,74.0 L77.3,74.6 L74.8,75.9 L73.3,75.9 L68.3,86.3 L65.6,99.0 L60.4,109.5 L61.8,170.5 L65.3,230.5 L66.6,292.3 L79.5,278.7 L91.2,264.4 L103.7,249.6 L95.2,193.2 L88.1,135.8 L80.1,77.0 L80.4,76.1 L78.2,75.5Z" fill="#bccbe0" fill-opacity="0.51"/>
<path d="M50.7,58.0 L52.1,57.8 L51.6,57.6 L52.2,57.5 L53.8,59.6 L55.3,63.5 L56.7,65.3 L55.9,68.5 L54.9,70.4 L54.2,72.9 L53.4,68.2 L50.7,63.2 L50.1,59.2 L49.6,59.7 L50.9,58.8Z" fill="#c4d2e6" fill-opacity="0.80"/>
<path d="M40.7,64.7 L41.4,64.1 L44.1,65.8 L45.3,65.0 L47.8,69.0 L49.6,72.0 L52.5,75.6 L48.2,75.1 L43.8,73.7 L38.8,71.8 L37.6,69.8 L38.4,67.6 L37.4,66.8 L37.8,67.0 L39.6,66.6 L39.4,65.4 L40.1,65.5 L41.1,65.7Z" fill="#c4d2e6" fill-opacity="0.71"/>
<path d="M7.8,33.3 L6.7,30.5 L5.9,28.9 L3.6,27.3 L-1.0,30.4 L-4.9,36.0 L-8.8,39.4 L-7.7,38.9 L-7.2,39.4 L-5.6,40.2 L-3.0,40.1 L0.6,41.2 L4.4,40.6 L5.7,40.5 L6.9,39.3 L7.3,38.9 L8.1,37.0 L8.3,34.7Z" fill="#bccbe0" fill-opacity="0.76"/>
<path d="M52.6,57.1 L53.6,56.9 L52.1,57.2 L53.1,56.4 L55.1,56.7 L57.5,55.8 L60.8,54.4 L61.0,54.6 L61.7,54.6 L60.9,54.4 L61.5,54.4 L61.7,53.8 L61.0,54.5 L60.7,57.1 L61.4,59.5 L62.5,62.2 L61.4,63.9 L59.5,64.8 L57.2,65.0 L55.6,62.5 L53.6,59.8Z" fill="#bccbe0" fill-opacity="0.74"/>
<path d="M38.9,54.7 L37.9,51.0 L38.0,49.9 L37.6,46.3 L37.3,46.6 L39.4,45.0 L39.1,44.9 L40.1,45.3 L42.6,45.8 L44.4,46.2 L43.6,48.8 L43.6,52.0 L43.9,54.8 L42.9,55.7 L41.6,55.3 L41.5,55.6 L39.8,54.8 L40.4,55.0Z" fill="#d8dfeb" fill-opacity="0.59"/>
<path d="M100.2,26.8 L100.3,27.9 L100.2,31.3 L101.0,32.9 L101.4,32.0 L103.0,31.0 L103.3,29.5 L102.7,29.1 L101.1,26.9Z" fill="#c8d2e2" fill-opacity="0.79"/>
<path d="M19.8,-4.6 L19.2,-74.1 L16.3,-142.0 L15.4,-212.8 L-8.0,-186.4 L-31.3,-160.4 L-56.0,-134.3 L-36.4,-93.5 L-17.7,-54.2 L1.4,-12.8 L2.6,-11.9 L2.9,-8.7 L4.8,-7.4 L8.8,-6.6 L14.2,-4.7 L18.0,-2.5 L17.9,-3.9 L19.8,-4.0Z" fill="#c8d2e2" fill-opacity="0.65"/>
<path d="M81.3,37.6 L80.5,37.2 L80.7,35.3 L80.2,35.0 L82.8,32.2 L83.9,29.5 L86.7,26.9 L89.3,28.3 L90.5,28.3 L93.2,29.8 L93.5,31.5 L94.6,31.5 L95.0,33.5 L91.8,34.9 L86.2,36.4 L82.7,39.0 L82.9,37.7 L81.0,38.4Z" fill="#c4d2e6" fill-opacity="0.77"/>
<path d="M31.2,33.4 L30.6,34.6 L31.3,34.1 L30.7,35.0 L33.4,37.4 L36.4,40.3 L38.8,43.8 L39.8,40.4 L40.0,38.9 L41.6,35.2 L38.3,35.4 L33.8,34.5Z" fill="#d8dfeb" fill-opacity="0.62"/>
<path d="M11.8,11.7 L12.8,9.9 L12.4,9.3 L12.0,8.2 L11.5,7.0 L9.1,5.9 L8.4,5.9 L8.0,6.7 L7.7,6.9 L7.2,7.0 L7.2,8.7 L5.8,9.3 L6.2,9.9 L6.3,12.0 L8.0,13.7 L8.1,14.3 L9.5,13.8 L9.7,13.2Z" fill="#d8dfeb" fill-opacity="0.60"/>
<path d="M15.4,20.6 L15.5,20.0 L15.2,21.6 L15.7,21.0 L15.0,21.0 L15.1,20.7 L15.8,21.2 L17.4,20.4 L19.5,19.4 L21.8,19.7 L21.4,16.9 L22.8,13.3 L22.0,11.0 L21.4,10.4 L21.4,11.8 L22.0,11.0 L21.8,10.4 L19.9,10.9 L19.9,11.3 L17.6,14.2 L17.2,17.2 L15.4,20.1 L15.3,20.2 L14.6,20.0Z" fill="#ced9ea" fill-opacity="0.73"/>
<path d="M94.2,11.1 L94.7,10.6 L94.5,9.9 L94.7,8.4 L94.2,7.1 L93.1,6.9 L91.9,6.9 L89.9,7.2 L87.0,9.6 L83.4,9.9 L82.5,10.0 L83.4,10.9 L82.8,11.0 L83.7,14.0 L86.3,14.9 L87.4,17.9 L89.1,15.2 L91.0,13.8Z" fill="#bccbe0" fill-opacity="0.83"/>
<path d="M3.0,97.1 L3.5,85.5 L2.5,74.7 L3.3,61.9 L2.8,61.7 L0.5,61.8 L0.1,61.5 L-41.3,85.9 L-84.3,110.6 L-127.2,135.9 L-98.7,163.4 L-70.5,190.7 L-42.5,220.1 L-30.3,187.8 L-18.3,156.5 L-5.4,123.3 L-2.3,115.0 L-0.3,106.5Z" fill="#ced9ea" fill-opacity="0.54"/>
<path d="M49.2,-5.1 L51.7,-3.0 L53.7,-2.4 L55.4,-1.0 L56.5,-1.9 L57.2,-1.8 L58.0,-3.0 L52.0,-12.1 L48.0,-22.0 L41.7,-31.7 L40.9,-24.9 L41.3,-19.2 L41.7,-13.2 L41.9,-13.7 L41.3,-13.4 L42.1,-12.4 L44.2,-9.2 L46.1,-8.5Z" fill="#d8dfeb" fill-opacity="0.73"/>
<path d="M70.5,47.1 L68.5,50.2 L66.9,51.1 L65.1,53.9 L67.5,54.4 L71.7,55.6 L74.8,57.7 L74.2,54.8 L73.3,50.6 L71.2,47.4 L70.3,47.4 L70.4,47.2Z" fill="#d8dfeb" fill-opacity="0.74"/>
<path d="M65.3,54.9 L65.1,55.3 L62.6,54.4 L62.2,55.0 L62.5,57.2 L62.5,59.1 L63.7,62.3 L66.2,63.0 L66.7,64.5 L69.1,65.4 L69.5,66.0 L71.9,65.9 L72.6,65.4 L74.2,65.0 L76.1,64.4 L77.6,63.4 L77.5,63.2 L78.5,61.4 L77.9,61.6 L76.0,60.9 L75.8,59.0 L74.7,58.5 L72.0,57.2 L67.6,55.9Z" fill="#ced9ea" fill-opacity="0.75"/>
<path d="M39.4,19.8 L39.0,17.0 L36.8,13.1 L36.1,9.0 L38.1,8.7 L41.5,9.4 L44.7,9.1 L43.4,12.6 L43.7,14.3 L43.2,17.8 L42.7,18.8 L40.1,19.6Z" fill="#c8d2e2" fill-opacity="0.56"/>
<path d="M81.1,37.7 L78.5,40.0 L74.9,43.4 L72.5,46.4 L77.6,48.0 L81.9,51.0 L86.8,52.2 L87.6,50.5 L86.1,47.8 L86.4,45.3 L84.5,44.0 L83.5,42.1 L82.6,39.3 L81.9,39.1 L80.9,37.8Z" fill="#bccbe0" fill-opacity="0.81"/>
<path d="M78.3,12.8 L76.1,14.2 L76.3,14.9 L74.4,15.5 L72.0,12.7 L70.8,10.8 L68.9,8.6 L69.4,8.3 L68.4,7.2 L69.2,7.7 L70.1,7.5 L71.8,7.0 L71.9,6.9 L74.6,9.5 L76.0,10.3 L78.8,12.2 L78.8,11.7 L77.8,13.1Z" fill="#c8d2e2" fill-opacity="0.58"/>
<path d="M35.9,55.5 L35.0,55.6 L33.7,55.5 L31.8,56.0 L32.8,54.2 L32.7,50.4 L32.3,48.1 L33.4,47.4 L35.7,47.5 L37.1,46.8 L37.6,48.9 L37.7,52.1 L38.4,54.6 L38.2,54.8 L36.8,55.5Z" fill="#c8d2e2" fill-opacity="0.69"/>
<ellipse cx="3.4" cy="51.4" rx="5.1" ry="2.0" transform="rotate(107 3.4 51.4)" fill="#b47462" fill-opacity="0.30"/>
<ellipse cx="72.8" cy="18.4" rx="5.3" ry="1.5" transform="rotate(108 72.8 18.4)" fill="#a05848" fill-opacity="0.24"/>
<ellipse cx="12.0" cy="20.8" rx="4.0" ry="1.7" transform="rotate(34 12.0 20.8)" fill="#a86450" fill-opacity="0.17"/>
<ellipse cx="12.0" cy="24.2" rx="2.4" ry="3.4" transform="rotate(27 12.0 24.2)" fill="#9a5040" fill-opacity="0.18"/>
<ellipse cx="76.4" cy="35.5" rx="2.2" ry="2.4" transform="rotate(179 76.4 35.5)" fill="#a05848" fill-opacity="0.13"/>
<ellipse cx="23.3" cy="65.7" rx="2.9" ry="2.1" transform="rotate(49 23.3 65.7)" fill="#b47462" fill-opacity="0.12"/>
<ellipse cx="12.1" cy="47.3" rx="3.7" ry="2.4" transform="rotate(93 12.1 47.3)" fill="#a86450" fill-opacity="0.12"/>
<ellipse cx="86.3" cy="71.0" rx="5.4" ry="3.6" transform="rotate(49 86.3 71.0)" fill="#a86450" fill-opacity="0.25"/>
<ellipse cx="64.1" cy="55.5" rx="5.1" ry="2.5" transform="rotate(158 64.1 55.5)" fill="#8a4a3a" fill-opacity="0.16"/>
<ellipse cx="31.4" cy="49.0" rx="2.8" ry="3.5" transform="rotate(33 31.4 49.0)" fill="#9a5040" fill-opacity="0.15"/>
<ellipse cx="91.3" cy="49.5" rx="2.5" ry="2.8" transform="rotate(61 91.3 49.5)" fill="#8a4a3a" fill-opacity="0.21"/>
<ellipse cx="68.2" cy="43.8" rx="5.1" ry="3.7" transform="rotate(134 68.2 43.8)" fill="#a86450" fill-opacity="0.23"/>
<path d="M-0.5 4.3L-4.3 7.6L-8.1 9.7L-11.2 13.2M54.6 78.5L54.5 78.0L54.7 77.3L53.7 76.5M99.2 7.9L100.3 12.4L102.9 17.2L104.0 20.8" fill="none" stroke="#8a4a3a" stroke-width="0.85" stroke-opacity="0.95" stroke-linecap="round"/>
<path d="M-0.1 9.5L-2.0 11.0L-1.8 12.6L-3.5 13.3M8.4 5.8L8.7 5.7L7.7 6.9L7.1 6.9M11.6 57.9L11.9 56.1L11.6 55.0L11.3 54.1M73.5 3.6L76.1 5.1L78.8 6.4L82.3 9.0M38.9 43.9L35.7 40.5L32.8 38.0L30.6 35.0M56.5 0.5L56.9 4.2L55.7 7.2L56.3 9.6M29.2 21.2L29.6 23.2L28.4 24.9L28.7 26.1" fill="none" stroke="#9a5040" stroke-width="0.85" stroke-opacity="0.95" stroke-linecap="round"/>
<path d="M-11.2 13.2L-9.3 13.3L-5.4 13.6L-3.5 13.3M95.6 61.1L95.4 60.9L96.0 61.8L95.7 61.2M101.0 33.2L101.6 31.3L103.2 30.5L103.4 29.5" fill="none" stroke="#9a5040" stroke-width="0.6" stroke-opacity="0.8" stroke-linecap="round"/>
<path d="M1.4 -10.3L0.2 -4.7L0.9 -0.2L-0.5 4.3M30.2 65.0L30.2 64.3L30.9 65.0L30.9 65.2M53.7 76.5L54.5 76.2L53.8 74.7L54.3 73.8M88.4 21.9L89.8 22.0L91.7 21.3L92.3 20.4" fill="none" stroke="#8a4a3a" stroke-width="0.6" stroke-opacity="0.6" stroke-linecap="round"/>
<path d="M18.9 0.6L20.3 0.2L20.2 -0.6L20.8 -1.6M53.7 76.5L53.6 76.0L53.7 75.9L53.0 75.9M12.2 8.2L11.8 9.4L11.6 10.8L11.9 11.8" fill="none" stroke="#b47462" stroke-width="0.6" stroke-opacity="0.6" stroke-linecap="round"/>
<path d="M5.1 -4.6L6.2 -1.3L7.6 1.5L8.4 5.8M29.0 72.7L26.8 73.7L25.4 74.6L23.4 75.6M38.6 72.0L37.4 70.4L37.5 68.0L37.2 66.7M56.3 9.6L59.0 7.1L62.7 4.0L65.6 1.4M82.7 9.8L86.6 8.0L89.0 7.2L92.3 6.4" fill="none" stroke="#b47462" stroke-width="1.1" stroke-opacity="0.95" stroke-linecap="round"/>
<path d="M-0.1 9.5L2.7 8.4L4.6 7.5L7.1 6.9M30.2 65.0L29.2 65.8L29.7 65.7L29.0 66.0M45.5 35.0L44.4 35.3L44.2 34.2L43.4 34.1" fill="none" stroke="#a86450" stroke-width="0.85" stroke-opacity="0.95" stroke-linecap="round"/>
<path d="M19.8 56.1L19.6 55.5L20.6 56.4L21.2 56.5M11.6 57.9L14.2 57.5L16.8 56.5L19.8 56.1M24.5 56.1L24.4 53.2L24.3 50.9L24.8 48.0M18.3 47.9L20.2 48.5L22.4 47.6L24.8 48.0M8.5 32.9L11.6 29.8L13.4 27.1L15.8 25.2" fill="none" stroke="#9a5040" stroke-width="1.1" stroke-opacity="0.6" stroke-linecap="round"/>
<path d="M11.6 57.9L10.6 58.5L11.1 59.8L10.0 60.3M57.8 15.4L58.5 16.7L58.5 18.0L58.0 19.0M71.3 34.7L70.9 38.6L69.4 42.3L68.9 45.3M74.6 16.1L72.0 14.3L70.3 10.8L68.3 8.4" fill="none" stroke="#a05848" stroke-width="0.85" stroke-opacity="0.95" stroke-linecap="round"/>
<path d="M10.0 60.3L10.5 63.8L11.7 66.0L13.5 68.6M22.2 20.0L20.8 21.1L17.0 21.3L15.6 21.6M52.8 56.3L55.1 56.2L58.0 55.0L61.0 54.2M8.0 39.2L9.3 40.1L11.6 39.5L14.3 40.4M39.3 65.2L39.5 65.6L39.7 65.0L40.7 64.5M55.8 10.7L56.3 11.8L56.5 13.1L57.8 15.4M73.4 32.6L71.3 29.3L69.7 26.6L68.2 23.4" fill="none" stroke="#a86450" stroke-width="0.6" stroke-opacity="0.95" stroke-linecap="round"/>
<path d="M4.5 59.8L6.8 59.8L8.3 60.0L10.0 60.3M1.1 59.4L1.8 59.8L3.3 60.3L4.5 59.8" fill="none" stroke="#9a5040" stroke-width="0.85" stroke-opacity="0.6" stroke-linecap="round"/>
<path d="M23.4 7.5L22.1 5.8L21.0 3.8L18.8 1.7M11.3 54.1L13.1 51.6L14.9 49.3L17.2 47.1M43.4 34.1L42.7 31.6L43.1 29.0L42.9 27.5M86.8 26.6L89.1 27.6L92.0 28.1L93.5 29.6M71.7 20.4L72.2 18.4L72.9 17.1L74.6 16.1M87.2 18.8L89.7 16.2L91.8 14.4L94.9 11.1" fill="none" stroke="#a05848" stroke-width="1.1" stroke-opacity="0.95" stroke-linecap="round"/>
<path d="M-3.5 13.3L-1.2 14.0L0.8 16.2L3.1 17.2M3.1 17.2L2.7 16.7L3.5 18.3L3.5 17.7M52.8 56.3L51.8 55.8L52.2 57.0L52.2 57.0M71.2 47.0L70.6 46.2L70.2 46.4L70.5 46.7M28.7 26.1L29.0 27.6L28.4 27.6L28.7 29.1M107.8 37.3L105.9 36.2L103.8 36.1L100.6 34.6M101.6 21.7L102.9 21.2L102.7 21.5L104.0 20.8" fill="none" stroke="#9a5040" stroke-width="0.6" stroke-opacity="0.95" stroke-linecap="round"/>
<path d="M3.1 17.2L3.7 14.2L5.4 12.5L6.1 9.9M52.4 25.5L49.4 25.6L45.5 26.7L42.9 27.5M92.3 20.4L93.7 19.2L93.4 17.0L94.9 14.7M95.4 8.1L95.3 8.6L94.4 10.9L94.9 11.1" fill="none" stroke="#a05848" stroke-width="0.85" stroke-opacity="0.6" stroke-linecap="round"/>
<path d="M54.6 78.5L60.0 73.9L64.3 69.9L68.9 66.0M-10.1 39.7L-5.9 34.7L-0.5 31.5L3.9 26.1M117.5 22.8L112.3 24.4L108.7 28.0L103.4 29.5M101.6 21.7L99.6 18.9L97.8 17.6L94.9 14.7" fill="none" stroke="#b47462" stroke-width="0.6" stroke-opacity="0.95" stroke-linecap="round"/>
<path d="M68.9 66.0L69.7 65.6L72.0 65.3L72.8 65.9M73.7 -4.0L73.1 -2.2L74.3 1.5L73.5 3.6M71.2 47.0L71.0 46.4L72.7 47.2L72.5 46.4M95.4 33.4L95.1 34.3L95.8 34.5L96.2 34.3" fill="none" stroke="#8a4a3a" stroke-width="1.1" stroke-opacity="0.8" stroke-linecap="round"/>
<path d="M1.1 59.4L1.3 59.3L1.4 58.6L1.1 58.1M22.3 10.4L22.9 10.7L22.0 10.7L22.3 10.4M64.7 54.2L65.8 51.3L67.9 50.0L70.5 46.7M60.1 21.7L63.4 22.0L65.5 23.0L68.2 23.4" fill="none" stroke="#b47462" stroke-width="0.6" stroke-opacity="0.8" stroke-linecap="round"/>
<path d="M-6.5 40.6L-3.5 40.8L0.5 41.5L4.8 41.1M72.8 65.9L74.2 64.7L76.5 64.0L78.5 63.7M15.4 21.4L15.9 21.9L15.1 20.5L15.1 20.9M41.6 35.2L38.6 35.0L34.4 33.8L31.1 33.4" fill="none" stroke="#8a4a3a" stroke-width="0.85" stroke-opacity="0.8" stroke-linecap="round"/>
<path d="M5.8 45.8L4.8 45.0L4.5 42.0L4.8 41.1M41.2 -12.6L44.3 -10.6L46.6 -7.2L49.3 -4.3" fill="none" stroke="#8a4a3a" stroke-width="1.1" stroke-opacity="0.6" stroke-linecap="round"/>
<path d="M29.0 66.0L27.4 66.1L26.2 67.0L23.8 67.2M44.1 55.0L44.6 52.4L44.9 49.8L44.6 46.0M95.4 33.4L91.4 34.8L86.8 36.9L82.6 39.3" fill="none" stroke="#b47462" stroke-width="1.1" stroke-opacity="0.6" stroke-linecap="round"/>
<path d="M33.9 81.8L32.5 79.1L30.5 75.5L29.0 72.7M15.1 20.4L15.5 21.3L15.5 21.5L15.1 20.9M52.2 57.0L52.3 57.1L50.4 56.8L50.5 57.7M31.0 32.6L30.1 30.9L28.8 30.7L28.7 29.1M113.8 54.4L107.8 56.4L101.6 58.4L95.7 61.2M100.6 34.6L99.9 34.1L99.9 35.4L100.0 34.7" fill="none" stroke="#a86450" stroke-width="1.1" stroke-opacity="0.6" stroke-linecap="round"/>
<path d="M33.9 81.8L33.8 81.8L34.3 80.2L34.9 79.5M20.1 10.8L18.0 13.5L16.2 16.4L15.1 20.4M50.0 34.3L51.9 36.1L52.9 36.2L55.3 38.1M103.5 66.4L100.9 65.6L99.0 64.4L96.8 62.9M96.2 34.3L98.2 35.2L98.6 34.2L100.0 34.7M79.5 12.5L79.1 13.2L78.9 12.3L78.9 13.1" fill="none" stroke="#b47462" stroke-width="1.1" stroke-opacity="0.8" stroke-linecap="round"/>
<path d="M24.5 56.1L25.4 56.4L28.1 56.8L29.4 58.4M82.3 9.0L81.0 3.2L79.2 -3.1L78.1 -8.8M95.4 8.1L96.4 7.7L98.3 7.6L99.2 7.9" fill="none" stroke="#a86450" stroke-width="0.6" stroke-opacity="0.6" stroke-linecap="round"/>
<path d="M20.1 66.7L21.6 66.2L22.4 67.4L23.8 67.2M29.2 21.2L29.6 21.3L29.9 21.2L29.3 21.1M38.9 43.9L39.3 40.3L40.6 38.2L41.6 35.2M20.0 30.5L22.2 29.4L25.1 29.1L28.7 29.1" fill="none" stroke="#a05848" stroke-width="1.1" stroke-opacity="0.6" stroke-linecap="round"/>
<path d="M23.4 7.5L23.2 9.0L22.5 10.0L22.3 10.4M22.2 20.0L24.2 20.9L27.5 21.6L29.2 21.2M52.4 25.5L54.0 23.7L55.9 22.1L58.7 20.7" fill="none" stroke="#a86450" stroke-width="0.85" stroke-opacity="0.8" stroke-linecap="round"/>
<path d="M12.7 8.1L14.8 8.4L18.0 9.7L20.1 10.8M41.5 55.9L40.4 55.6L39.5 54.8L38.8 55.0M97.4 73.5L95.9 72.3L96.2 72.5L95.2 70.9M68.6 7.3L68.5 8.3L67.9 8.3L68.3 8.4" fill="none" stroke="#a86450" stroke-width="1.1" stroke-opacity="0.95" stroke-linecap="round"/>
<path d="M29.0 14.6L30.9 13.0L32.1 10.3L34.7 7.9M37.4 46.0L37.9 44.9L38.6 44.5L39.0 44.6M74.6 16.1L75.2 15.4L76.6 13.6L78.9 13.1" fill="none" stroke="#9a5040" stroke-width="0.85" stroke-opacity="0.8" stroke-linecap="round"/>
<path d="M53.0 75.9L48.4 74.7L44.0 73.4L38.6 72.0M22.2 20.0L22.9 16.5L21.7 13.4L22.3 10.4M62.9 62.5L63.0 59.7L61.7 57.8L61.2 54.3M73.4 32.6L72.4 33.8L72.7 33.3L71.3 34.7M78.8 61.7L81.4 58.2L83.9 55.3L86.9 52.8M100.1 22.8L97.9 21.8L95.5 21.2L92.3 20.4" fill="none" stroke="#8a4a3a" stroke-width="0.6" stroke-opacity="0.8" stroke-linecap="round"/>
<path d="M80.6 67.1L79.5 66.4L78.8 64.3L78.5 63.7M8.1 14.5L9.0 12.9L10.2 13.4L11.9 11.8M31.0 32.6L33.7 29.8L37.5 27.5L41.0 25.8M71.6 6.3L71.1 6.0L69.0 6.8L68.6 7.3M71.6 6.3L75.0 8.2L77.3 9.8L79.5 12.5" fill="none" stroke="#a05848" stroke-width="0.6" stroke-opacity="0.8" stroke-linecap="round"/>
<path d="M73.7 -4.0L74.4 -5.6L76.0 -7.7L78.1 -8.8M17.2 47.1L16.3 45.4L15.8 42.0L14.3 40.4M39.3 65.2L38.1 62.3L36.8 59.5L36.0 56.0M45.4 64.9L44.0 64.4L41.8 64.8L40.7 64.5M57.8 15.4L61.1 13.8L65.5 11.5L68.3 8.4" fill="none" stroke="#9a5040" stroke-width="1.1" stroke-opacity="0.8" stroke-linecap="round"/>
<path d="M8.1 14.5L7.5 16.0L5.7 15.9L4.3 17.7M44.1 55.0L46.2 55.2L48.3 57.0L50.5 57.7M16.0 25.5L20.5 25.6L25.0 26.2L28.7 26.1" fill="none" stroke="#a05848" stroke-width="0.6" stroke-opacity="0.6" stroke-linecap="round"/>
<path d="M3.8 25.8L7.9 24.8L11.3 22.9L15.4 21.4" fill="none" stroke="#8a4a3a" stroke-width="0.6" stroke-opacity="0.95" stroke-linecap="round"/>
<path d="M27.8 45.4L27.9 43.3L27.0 41.1L26.3 39.7" fill="none" stroke="#9a5040" stroke-width="0.6" stroke-opacity="0.6" stroke-linecap="round"/>
<path d="M29.4 58.4L30.3 57.0L31.4 56.5L31.3 56.5M59.5 -1.8L61.2 -1.4L61.6 -2.4L63.0 -2.1M39.2 20.3L39.3 20.4L39.3 20.9L39.4 20.0M43.3 17.9L48.7 17.6L52.3 18.3L58.0 19.0M96.8 62.9L95.9 61.8L96.2 61.0L95.7 61.2M99.5 43.6L99.2 43.2L99.1 44.1L99.1 43.3" fill="none" stroke="#8a4a3a" stroke-width="1.1" stroke-opacity="0.95" stroke-linecap="round"/>
<path d="M61.2 54.3L62.6 55.0L63.1 54.5L64.7 54.2M78.8 61.7L78.6 61.6L78.6 63.2L78.5 63.7M15.8 25.2L16.2 25.1L15.9 26.1L16.0 25.5M58.3 37.3L58.9 38.6L60.5 39.3L60.8 39.1M100.6 34.6L101.2 33.9L100.1 32.9L101.0 33.2" fill="none" stroke="#b47462" stroke-width="0.85" stroke-opacity="0.6" stroke-linecap="round"/>
<path d="M68.9 66.0L67.4 64.1L65.3 64.1L62.9 62.5M75.3 58.2L72.5 56.9L68.4 56.0L64.7 54.2M61.2 54.3L61.6 54.9L61.6 53.7L61.1 54.2M82.7 9.8L82.0 10.7L81.7 10.8L82.0 11.0" fill="none" stroke="#a86450" stroke-width="1.1" stroke-opacity="0.8" stroke-linecap="round"/>
<path d="M56.6 47.0L58.3 49.5L58.9 52.3L61.0 54.2M49.8 58.9L49.8 58.0L50.1 58.0L50.5 57.7M117.5 22.8L113.1 21.8L109.4 21.6L104.0 20.8M86.7 26.4L88.0 25.0L88.0 24.0L88.4 21.9" fill="none" stroke="#a86450" stroke-width="0.85" stroke-opacity="0.6" stroke-linecap="round"/>
<path d="M54.3 73.8L55.2 70.9L55.8 67.8L57.1 65.5M37.4 46.0L38.0 49.2L38.4 51.6L38.8 55.0M40.7 -13.5L41.2 -12.8L41.1 -13.7L41.2 -12.6M90.3 68.2L92.7 68.8L94.0 69.7L95.2 70.9M100.0 34.7L99.8 37.8L99.1 40.6L99.1 43.3" fill="none" stroke="#a05848" stroke-width="0.85" stroke-opacity="0.8" stroke-linecap="round"/>
<path d="M45.4 64.9L47.4 62.2L47.7 61.1L49.8 58.9M49.8 45.1L48.6 45.7L48.0 45.0L48.0 44.9M82.3 9.0L83.1 8.6L82.3 9.3L82.7 9.8M86.4 45.3L85.4 43.1L83.8 41.3L82.6 39.3M93.5 29.6L94.2 30.9L94.3 31.4L95.4 33.4M86.9 52.8L87.4 53.0L89.4 53.9L89.5 53.5" fill="none" stroke="#a05848" stroke-width="1.1" stroke-opacity="0.8" stroke-linecap="round"/>
<path d="M3.9 26.1L5.4 28.0L6.7 31.4L8.5 32.9M58.3 37.3L58.9 32.1L60.2 27.1L60.1 21.7M61.1 54.2L62.4 51.0L63.5 47.3L63.9 44.6" fill="none" stroke="#8a4a3a" stroke-width="0.85" stroke-opacity="0.6" stroke-linecap="round"/>
<path d="M8.0 39.2L8.4 36.7L7.7 35.5L8.5 32.9M86.8 26.6L85.0 28.9L81.9 33.0L79.9 35.1M96.2 34.3L95.8 36.4L94.7 38.3L93.7 41.3" fill="none" stroke="#a05848" stroke-width="0.6" stroke-opacity="0.95" stroke-linecap="round"/>
<path d="M26.3 39.7L24.1 38.5L21.6 38.5L18.6 38.4" fill="none" stroke="#b47462" stroke-width="0.85" stroke-opacity="0.8" stroke-linecap="round"/>
<path d="M65.8 -0.1L66.0 -0.3L65.4 0.7L65.6 1.4M44.8 8.9L45.2 7.9L46.1 8.6L46.6 7.8M97.4 73.5L99.0 71.8L100.9 69.6L103.5 66.4M72.5 46.4L75.2 44.3L77.6 40.5L81.1 37.8" fill="none" stroke="#b47462" stroke-width="0.85" stroke-opacity="0.95" stroke-linecap="round"/>
<path d="M73.7 -4.0L70.4 -2.7L67.9 -1.4L65.8 -0.1M71.3 34.7L67.6 35.4L64.9 37.4L60.8 39.1" fill="none" stroke="#9a5040" stroke-width="1.1" stroke-opacity="0.95" stroke-linecap="round"/>
<path d="M65.6 1.4L66.4 3.9L67.3 5.0L68.6 7.3" fill="none" stroke="#a86450" stroke-width="0.6" stroke-opacity="0.8" stroke-linecap="round"/>
<ellipse cx="6.2" cy="54.0" rx="2.0" ry="1.6" transform="rotate(24 6.2 54.0)" fill="#98b2d6" fill-opacity="0.88"/>
<ellipse cx="65.5" cy="73.8" rx="2.1" ry="1.7" transform="rotate(68 65.5 73.8)" fill="#8aa8d0" fill-opacity="0.87"/>
<ellipse cx="24.4" cy="14.9" rx="2.6" ry="2.2" transform="rotate(20 24.4 14.9)" fill="#8aa8d0" fill-opacity="0.61"/>
<ellipse cx="74.8" cy="50.4" rx="2.2" ry="2.2" transform="rotate(93 74.8 50.4)" fill="#98b2d6" fill-opacity="0.71"/>
<ellipse cx="28.7" cy="52.4" rx="2.1" ry="1.5" transform="rotate(133 28.7 52.4)" fill="#6080b8" fill-opacity="0.81"/>
<ellipse cx="7.3" cy="13.8" rx="1.6" ry="1.2" transform="rotate(161 7.3 13.8)" fill="#98b2d6" fill-opacity="0.85"/>
<ellipse cx="95.1" cy="23.4" rx="1.7" ry="1.5" transform="rotate(75 95.1 23.4)" fill="#98b2d6" fill-opacity="0.90"/>
<ellipse cx="22.8" cy="61.3" rx="1.8" ry="1.6" transform="rotate(148 22.8 61.3)" fill="#98b2d6" fill-opacity="0.66"/>
<ellipse cx="64.4" cy="5.9" rx="2.4" ry="2.1" transform="rotate(54 64.4 5.9)" fill="#8aa8d0" fill-opacity="0.61"/>
<ellipse cx="54.9" cy="49.9" rx="1.4" ry="1.1" transform="rotate(154 54.9 49.9)" fill="#98b2d6" fill-opacity="0.82"/>
<ellipse cx="13.5" cy="48.4" rx="2.5" ry="2.4" transform="rotate(83 13.5 48.4)" fill="#98b2d6" fill-opacity="0.66"/>
<ellipse cx="7.2" cy="22.9" rx="2.0" ry="1.5" transform="rotate(142 7.2 22.9)" fill="#7c9cc8" fill-opacity="0.87"/>
<ellipse cx="3.9" cy="11.7" rx="2.4" ry="1.6" transform="rotate(53 3.9 11.7)" fill="#8aa8d0" fill-opacity="0.91"/>
<ellipse cx="104.4" cy="28.9" rx="2.2" ry="1.7" transform="rotate(58 104.4 28.9)" fill="#6080b8" fill-opacity="0.91"/>
<ellipse cx="104.5" cy="29.4" rx="2.5" ry="2.4" transform="rotate(138 104.5 29.4)" fill="#8aa8d0" fill-opacity="0.90"/>
<ellipse cx="62.2" cy="67.5" rx="2.4" ry="2.1" transform="rotate(80 62.2 67.5)" fill="#6080b8" fill-opacity="0.76"/>
<ellipse cx="71.4" cy="2.1" rx="1.6" ry="1.4" transform="rotate(75 71.4 2.1)" fill="#8aa8d0" fill-opacity="0.63"/>
<ellipse cx="58.5" cy="46.9" rx="2.2" ry="1.9" transform="rotate(156 58.5 46.9)" fill="#6080b8" fill-opacity="0.72"/>
<ellipse cx="14.4" cy="3.2" rx="1.8" ry="1.3" transform="rotate(55 14.4 3.2)" fill="#7c9cc8" fill-opacity="0.63"/>
<ellipse cx="92.8" cy="38.1" rx="1.9" ry="1.2" transform="rotate(66 92.8 38.1)" fill="#6f92c2" fill-opacity="0.84"/>
<ellipse cx="15.6" cy="33.5" rx="2.4" ry="1.8" transform="rotate(52 15.6 33.5)" fill="#6080b8" fill-opacity="0.73"/>
<ellipse cx="19.1" cy="60.0" rx="1.3" ry="1.1" transform="rotate(51 19.1 60.0)" fill="#98b2d6" fill-opacity="0.64"/>
<ellipse cx="49.0" cy="3.2" rx="2.3" ry="2.0" transform="rotate(90 49.0 3.2)" fill="#8aa8d0" fill-opacity="0.87"/>
<ellipse cx="83.9" cy="1.1" rx="2.6" ry="2.5" transform="rotate(121 83.9 1.1)" fill="#7c9cc8" fill-opacity="0.63"/>
<ellipse cx="26.7" cy="-4.5" rx="2.6" ry="2.2" transform="rotate(67 26.7 -4.5)" fill="#98b2d6" fill-opacity="0.62"/>
<ellipse cx="77.7" cy="4.8" rx="2.5" ry="1.8" transform="rotate(76 77.7 4.8)" fill="#6080b8" fill-opacity="0.60"/>
<ellipse cx="54.0" cy="1.1" rx="1.8" ry="1.8" transform="rotate(107 54.0 1.1)" fill="#6f92c2" fill-opacity="0.84"/>
<ellipse cx="47.1" cy="51.4" rx="2.3" ry="2.3" transform="rotate(79 47.1 51.4)" fill="#6f92c2" fill-opacity="0.86"/>
<ellipse cx="54.0" cy="31.0" rx="1.7" ry="1.6" transform="rotate(143 54.0 31.0)" fill="#6080b8" fill-opacity="0.88"/>
<ellipse cx="46.7" cy="29.2" rx="2.6" ry="2.5" transform="rotate(23 46.7 29.2)" fill="#8aa8d0" fill-opacity="0.82"/>
<ellipse cx="61.5" cy="0.5" rx="2.5" ry="2.1" transform="rotate(87 61.5 0.5)" fill="#6080b8" fill-opacity="0.82"/>
<ellipse cx="46.8" cy="14.7" rx="2.2" ry="2.2" transform="rotate(31 46.8 14.7)" fill="#98b2d6" fill-opacity="0.67"/>
<ellipse cx="89.2" cy="73.2" rx="1.9" ry="1.6" transform="rotate(155 89.2 73.2)" fill="#8aa8d0" fill-opacity="0.61"/>
<ellipse cx="0.2" cy="5.9" rx="1.6" ry="1.0" transform="rotate(141 0.2 5.9)" fill="#8aa8d0" fill-opacity="0.74"/>
<ellipse cx="72.1" cy="42.5" rx="2.1" ry="1.4" transform="rotate(2 72.1 42.5)" fill="#6080b8" fill-opacity="0.68"/>
<ellipse cx="-3.9" cy="53.1" rx="2.3" ry="2.2" transform="rotate(131 -3.9 53.1)" fill="#98b2d6" fill-opacity="0.72"/>
<ellipse cx="98.9" cy="29.0" rx="2.5" ry="2.2" transform="rotate(82 98.9 29.0)" fill="#6080b8" fill-opacity="0.72"/>
<ellipse cx="32.1" cy="41.4" rx="1.8" ry="1.7" transform="rotate(39 32.1 41.4)" fill="#7c9cc8" fill-opacity="0.89"/>
<ellipse cx="98.5" cy="16.5" rx="1.9" ry="1.5" transform="rotate(175 98.5 16.5)" fill="#7c9cc8" fill-opacity="0.89"/>
<ellipse cx="26.7" cy="10.2" rx="2.5" ry="1.7" transform="rotate(75 26.7 10.2)" fill="#6080b8" fill-opacity="0.80"/>
<ellipse cx="22.7" cy="25.5" rx="1.8" ry="1.5" transform="rotate(105 22.7 25.5)" fill="#8aa8d0" fill-opacity="0.88"/>
<ellipse cx="-2.3" cy="20.9" rx="1.9" ry="1.6" transform="rotate(104 -2.3 20.9)" fill="#98b2d6" fill-opacity="0.62"/>
<ellipse cx="103.6" cy="43.3" rx="1.9" ry="1.8" transform="rotate(107 103.6 43.3)" fill="#6080b8" fill-opacity="0.79"/>
<ellipse cx="24.4" cy="72.0" rx="1.7" ry="1.8" transform="rotate(121 24.4 72.0)" fill="#8aa8d0" fill-opacity="0.90"/>
<ellipse cx="33.4" cy="14.0" rx="1.6" ry="1.1" transform="rotate(120 33.4 14.0)" fill="#7c9cc8" fill-opacity="0.64"/>
<ellipse cx="-0.7" cy="6.5" rx="2.0" ry="1.3" transform="rotate(31 -0.7 6.5)" fill="#6080b8" fill-opacity="0.76"/>
<ellipse cx="17.2" cy="13.6" rx="1.7" ry="1.5" transform="rotate(108 17.2 13.6)" fill="#6f92c2" fill-opacity="0.69"/>
<ellipse cx="91.0" cy="17.1" rx="2.5" ry="2.2" transform="rotate(178 91.0 17.1)" fill="#98b2d6" fill-opacity="0.90"/>
<ellipse cx="22.2" cy="46.2" rx="1.9" ry="1.4" transform="rotate(115 22.2 46.2)" fill="#6f92c2" fill-opacity="0.79"/>
<ellipse cx="95.1" cy="18.4" rx="2.4" ry="2.1" transform="rotate(49 95.1 18.4)" fill="#6080b8" fill-opacity="0.66"/>
<ellipse cx="79.7" cy="24.6" rx="2.7" ry="1.8" transform="rotate(142 79.7 24.6)" fill="#98b2d6" fill-opacity="0.81"/>
<ellipse cx="56.3" cy="44.5" rx="1.5" ry="1.3" transform="rotate(111 56.3 44.5)" fill="#98b2d6" fill-opacity="0.75"/>
<ellipse cx="98.5" cy="56.6" rx="1.4" ry="1.1" transform="rotate(71 98.5 56.6)" fill="#6080b8" fill-opacity="0.70"/>
<ellipse cx="52.0" cy="63.6" rx="2.4" ry="2.4" transform="rotate(75 52.0 63.6)" fill="#98b2d6" fill-opacity="0.88"/>
<ellipse cx="35.0" cy="25.2" rx="2.2" ry="1.8" transform="rotate(56 35.0 25.2)" fill="#6080b8" fill-opacity="0.70"/>
<ellipse cx="100.9" cy="38.6" rx="1.4" ry="1.3" transform="rotate(31 100.9 38.6)" fill="#8aa8d0" fill-opacity="0.77"/>
<ellipse cx="94.9" cy="46.2" rx="2.5" ry="2.2" transform="rotate(48 94.9 46.2)" fill="#8aa8d0" fill-opacity="0.70"/>
<ellipse cx="21.1" cy="71.8" rx="2.4" ry="2.4" transform="rotate(125 21.1 71.8)" fill="#6080b8" fill-opacity="0.65"/>
<ellipse cx="46.1" cy="22.4" rx="2.6" ry="2.1" transform="rotate(126 46.1 22.4)" fill="#6f92c2" fill-opacity="0.79"/>
<ellipse cx="22.8" cy="2.8" rx="2.1" ry="1.7" transform="rotate(42 22.8 2.8)" fill="#6080b8" fill-opacity="0.91"/>
<ellipse cx="16.1" cy="53.6" rx="2.6" ry="1.7" transform="rotate(68 16.1 53.6)" fill="#6f92c2" fill-opacity="0.79"/>
<ellipse cx="9.0" cy="14.9" rx="1.4" ry="1.1" transform="rotate(172 9.0 14.9)" fill="#6f92c2" fill-opacity="0.66"/>
<ellipse cx="44.2" cy="41.0" rx="1.5" ry="1.0" transform="rotate(123 44.2 41.0)" fill="#6f92c2" fill-opacity="0.90"/>
<ellipse cx="35.6" cy="59.2" rx="1.5" ry="1.3" transform="rotate(90 35.6 59.2)" fill="#98b2d6" fill-opacity="0.81"/>
<ellipse cx="22.3" cy="24.0" rx="2.5" ry="1.8" transform="rotate(27 22.3 24.0)" fill="#98b2d6" fill-opacity="0.90"/>
<ellipse cx="19.7" cy="6.0" rx="2.2" ry="2.0" transform="rotate(15 19.7 6.0)" fill="#7c9cc8" fill-opacity="0.66"/>
<ellipse cx="74.7" cy="4.8" rx="2.4" ry="2.2" transform="rotate(83 74.7 4.8)" fill="#8aa8d0" fill-opacity="0.67"/>
<ellipse cx="67.6" cy="12.8" rx="1.6" ry="1.6" transform="rotate(92 67.6 12.8)" fill="#7c9cc8" fill-opacity="0.64"/>
<ellipse cx="65.2" cy="48.4" rx="1.5" ry="1.4" transform="rotate(22 65.2 48.4)" fill="#8aa8d0" fill-opacity="0.75"/>
<ellipse cx="34.4" cy="71.2" rx="2.0" ry="2.0" transform="rotate(30 34.4 71.2)" fill="#98b2d6" fill-opacity="0.71"/>
<ellipse cx="66.8" cy="40.8" rx="1.5" ry="1.1" transform="rotate(59 66.8 40.8)" fill="#6080b8" fill-opacity="0.81"/>
<ellipse cx="-0.4" cy="27.1" rx="2.6" ry="1.8" transform="rotate(15 -0.4 27.1)" fill="#6080b8" fill-opacity="0.67"/>
<ellipse cx="23.2" cy="33.7" rx="2.6" ry="2.2" transform="rotate(1 23.2 33.7)" fill="#7c9cc8" fill-opacity="0.78"/>
<ellipse cx="97.6" cy="68.0" rx="1.9" ry="1.3" transform="rotate(138 97.6 68.0)" fill="#6f92c2" fill-opacity="0.77"/>
<ellipse cx="1.4" cy="51.7" rx="2.1" ry="1.6" transform="rotate(30 1.4 51.7)" fill="#8aa8d0" fill-opacity="0.87"/>
<ellipse cx="97.5" cy="38.2" rx="2.7" ry="2.2" transform="rotate(112 97.5 38.2)" fill="#6f92c2" fill-opacity="0.88"/>
<ellipse cx="5.6" cy="66.6" rx="1.6" ry="1.6" transform="rotate(137 5.6 66.6)" fill="#98b2d6" fill-opacity="0.80"/>
<ellipse cx="41.2" cy="74.9" rx="2.4" ry="1.6" transform="rotate(65 41.2 74.9)" fill="#6f92c2" fill-opacity="0.67"/>
<ellipse cx="90.6" cy="62.5" rx="2.4" ry="1.6" transform="rotate(82 90.6 62.5)" fill="#6f92c2" fill-opacity="0.61"/>
<ellipse cx="97.3" cy="-0.4" rx="1.4" ry="1.2" transform="rotate(85 97.3 -0.4)" fill="#98b2d6" fill-opacity="0.87"/>
<ellipse cx="81.5" cy="20.9" rx="2.4" ry="2.0" transform="rotate(152 81.5 20.9)" fill="#8aa8d0" fill-opacity="0.70"/>
<ellipse cx="8.4" cy="24.5" rx="1.7" ry="1.6" transform="rotate(42 8.4 24.5)" fill="#8aa8d0" fill-opacity="0.70"/>
<ellipse cx="59.5" cy="-6.0" rx="2.5" ry="2.3" transform="rotate(139 59.5 -6.0)" fill="#7c9cc8" fill-opacity="0.72"/>
<ellipse cx="43.9" cy="60.1" rx="2.4" ry="2.0" transform="rotate(175 43.9 60.1)" fill="#6080b8" fill-opacity="0.67"/>
<ellipse cx="48.2" cy="38.8" rx="2.7" ry="2.8" transform="rotate(75 48.2 38.8)" fill="#6080b8" fill-opacity="0.80"/>
<ellipse cx="27.9" cy="76.3" rx="2.1" ry="1.6" transform="rotate(24 27.9 76.3)" fill="#6080b8" fill-opacity="0.62"/>
<ellipse cx="20.2" cy="52.2" rx="1.9" ry="1.8" transform="rotate(96 20.2 52.2)" fill="#8aa8d0" fill-opacity="0.67"/>
<ellipse cx="67.2" cy="-4.6" rx="1.5" ry="1.0" transform="rotate(106 67.2 -4.6)" fill="#8aa8d0" fill-opacity="0.68"/>
<ellipse cx="103.6" cy="14.8" rx="1.9" ry="1.7" transform="rotate(132 103.6 14.8)" fill="#8aa8d0" fill-opacity="0.72"/>
<ellipse cx="105.2" cy="73.5" rx="2.3" ry="2.0" transform="rotate(102 105.2 73.5)" fill="#8aa8d0" fill-opacity="0.89"/>
<ellipse cx="94.6" cy="64.6" rx="2.3" ry="1.5" transform="rotate(10 94.6 64.6)" fill="#98b2d6" fill-opacity="0.75"/>
<ellipse cx="37.0" cy="31.1" rx="1.8" ry="1.3" transform="rotate(8 37.0 31.1)" fill="#6080b8" fill-opacity="0.83"/>
<ellipse cx="32.3" cy="73.3" rx="1.3" ry="1.1" transform="rotate(22 32.3 73.3)" fill="#98b2d6" fill-opacity="0.64"/>
<ellipse cx="-1.6" cy="4.0" rx="1.4" ry="1.4" transform="rotate(4 -1.6 4.0)" fill="#7c9cc8" fill-opacity="0.81"/>
<ellipse cx="100.0" cy="62.8" rx="1.7" ry="1.7" transform="rotate(157 100.0 62.8)" fill="#98b2d6" fill-opacity="0.70"/>
<ellipse cx="73.4" cy="74.6" rx="2.6" ry="2.2" transform="rotate(19 73.4 74.6)" fill="#6f92c2" fill-opacity="0.84"/>
<ellipse cx="53.4" cy="62.8" rx="1.4" ry="1.0" transform="rotate(48 53.4 62.8)" fill="#6080b8" fill-opacity="0.73"/>
<ellipse cx="43.1" cy="69.9" rx="1.8" ry="1.5" transform="rotate(23 43.1 69.9)" fill="#98b2d6" fill-opacity="0.76"/>
<ellipse cx="1.3" cy="30.7" rx="1.4" ry="1.3" transform="rotate(119 1.3 30.7)" fill="#98b2d6" fill-opacity="0.79"/>
<ellipse cx="59.3" cy="61.1" rx="1.5" ry="1.0" transform="rotate(3 59.3 61.1)" fill="#98b2d6" fill-opacity="0.63"/>
<ellipse cx="40.0" cy="52.0" rx="2.0" ry="1.9" transform="rotate(178 40.0 52.0)" fill="#8aa8d0" fill-opacity="0.79"/>
<ellipse cx="103.0" cy="28.8" rx="1.5" ry="1.2" transform="rotate(135 103.0 28.8)" fill="#7c9cc8" fill-opacity="0.74"/>
<ellipse cx="16.6" cy="-2.0" rx="1.7" ry="1.4" transform="rotate(51 16.6 -2.0)" fill="#6f92c2" fill-opacity="0.87"/>
<ellipse cx="91.5" cy="34.7" rx="1.9" ry="1.5" transform="rotate(162 91.5 34.7)" fill="#98b2d6" fill-opacity="0.83"/>
<ellipse cx="38.5" cy="36.8" rx="2.5" ry="2.3" transform="rotate(85 38.5 36.8)" fill="#7c9cc8" fill-opacity="0.71"/>
<ellipse cx="7.9" cy="13.0" rx="2.6" ry="2.1" transform="rotate(120 7.9 13.0)" fill="#6080b8" fill-opacity="0.77"/>
<ellipse cx="19.7" cy="14.3" rx="1.9" ry="1.9" transform="rotate(112 19.7 14.3)" fill="#98b2d6" fill-opacity="0.70"/>
<ellipse cx="89.3" cy="15.5" rx="2.6" ry="2.7" transform="rotate(130 89.3 15.5)" fill="#6080b8" fill-opacity="0.68"/>
<ellipse cx="5.4" cy="67.2" rx="2.7" ry="1.9" transform="rotate(18 5.4 67.2)" fill="#8aa8d0" fill-opacity="0.79"/>
<ellipse cx="54.8" cy="-4.7" rx="2.6" ry="2.1" transform="rotate(161 54.8 -4.7)" fill="#6080b8" fill-opacity="0.88"/>
<ellipse cx="69.6" cy="52.3" rx="1.7" ry="1.7" transform="rotate(146 69.6 52.3)" fill="#6f92c2" fill-opacity="0.61"/>
<ellipse cx="66.4" cy="60.3" rx="2.1" ry="1.5" transform="rotate(123 66.4 60.3)" fill="#8aa8d0" fill-opacity="0.72"/>
<ellipse cx="41.8" cy="13.9" rx="2.5" ry="1.9" transform="rotate(91 41.8 13.9)" fill="#8aa8d0" fill-opacity="0.79"/>
<ellipse cx="75.7" cy="45.7" rx="1.4" ry="1.1" transform="rotate(1 75.7 45.7)" fill="#7c9cc8" fill-opacity="0.64"/>
<ellipse cx="73.0" cy="8.8" rx="1.4" ry="1.4" transform="rotate(26 73.0 8.8)" fill="#8aa8d0" fill-opacity="0.81"/>
<ellipse cx="35.0" cy="51.9" rx="2.5" ry="2.6" transform="rotate(161 35.0 51.9)" fill="#8aa8d0" fill-opacity="0.69"/>
<ellipse cx="51.1" cy="48.3" rx="2.2" ry="2.2" transform="rotate(136 51.1 48.3)" fill="#8aa8d0" fill-opacity="0.69"/>
<ellipse cx="92.0" cy="30.8" rx="1.9" ry="1.6" transform="rotate(163 92.0 30.8)" fill="#7c9cc8" fill-opacity="0.66"/>
<ellipse cx="13.2" cy="15.9" rx="2.6" ry="1.7" transform="rotate(30 13.2 15.9)" fill="#7c9cc8" fill-opacity="0.81"/>
<ellipse cx="82.7" cy="19.8" rx="2.5" ry="1.6" transform="rotate(114 82.7 19.8)" fill="#7c9cc8" fill-opacity="0.82"/>
<ellipse cx="80.0" cy="49.1" rx="2.0" ry="1.5" transform="rotate(20 80.0 49.1)" fill="#6f92c2" fill-opacity="0.79"/>
<ellipse cx="70.3" cy="51.2" rx="1.9" ry="1.8" transform="rotate(146 70.3 51.2)" fill="#6f92c2" fill-opacity="0.74"/>
<ellipse cx="72.0" cy="42.9" rx="1.7" ry="1.8" transform="rotate(73 72.0 42.9)" fill="#7c9cc8" fill-opacity="0.70"/>
<ellipse cx="75.9" cy="17.1" rx="1.9" ry="2.0" transform="rotate(22 75.9 17.1)" fill="#7c9cc8" fill-opacity="0.65"/>
<ellipse cx="39.0" cy="57.8" rx="1.8" ry="1.5" transform="rotate(22 39.0 57.8)" fill="#7c9cc8" fill-opacity="0.91"/>
<ellipse cx="84.6" cy="57.8" rx="1.9" ry="1.6" transform="rotate(179 84.6 57.8)" fill="#6f92c2" fill-opacity="0.69"/>
</g></svg>
<rect x="237.2" y="352.5" width="17.9" height="2.2" fill="#111"/>
<rect x="342.6" y="352.7" width="17.4" height="2.2" fill="#111"/>
<rect x="237.3" y="428.09999999999997" width="17.3" height="2.2" fill="#111"/>
<rect x="342.6" y="428.09999999999997" width="17.4" height="2.2" fill="#111"/>
</svg>
</body></html>
